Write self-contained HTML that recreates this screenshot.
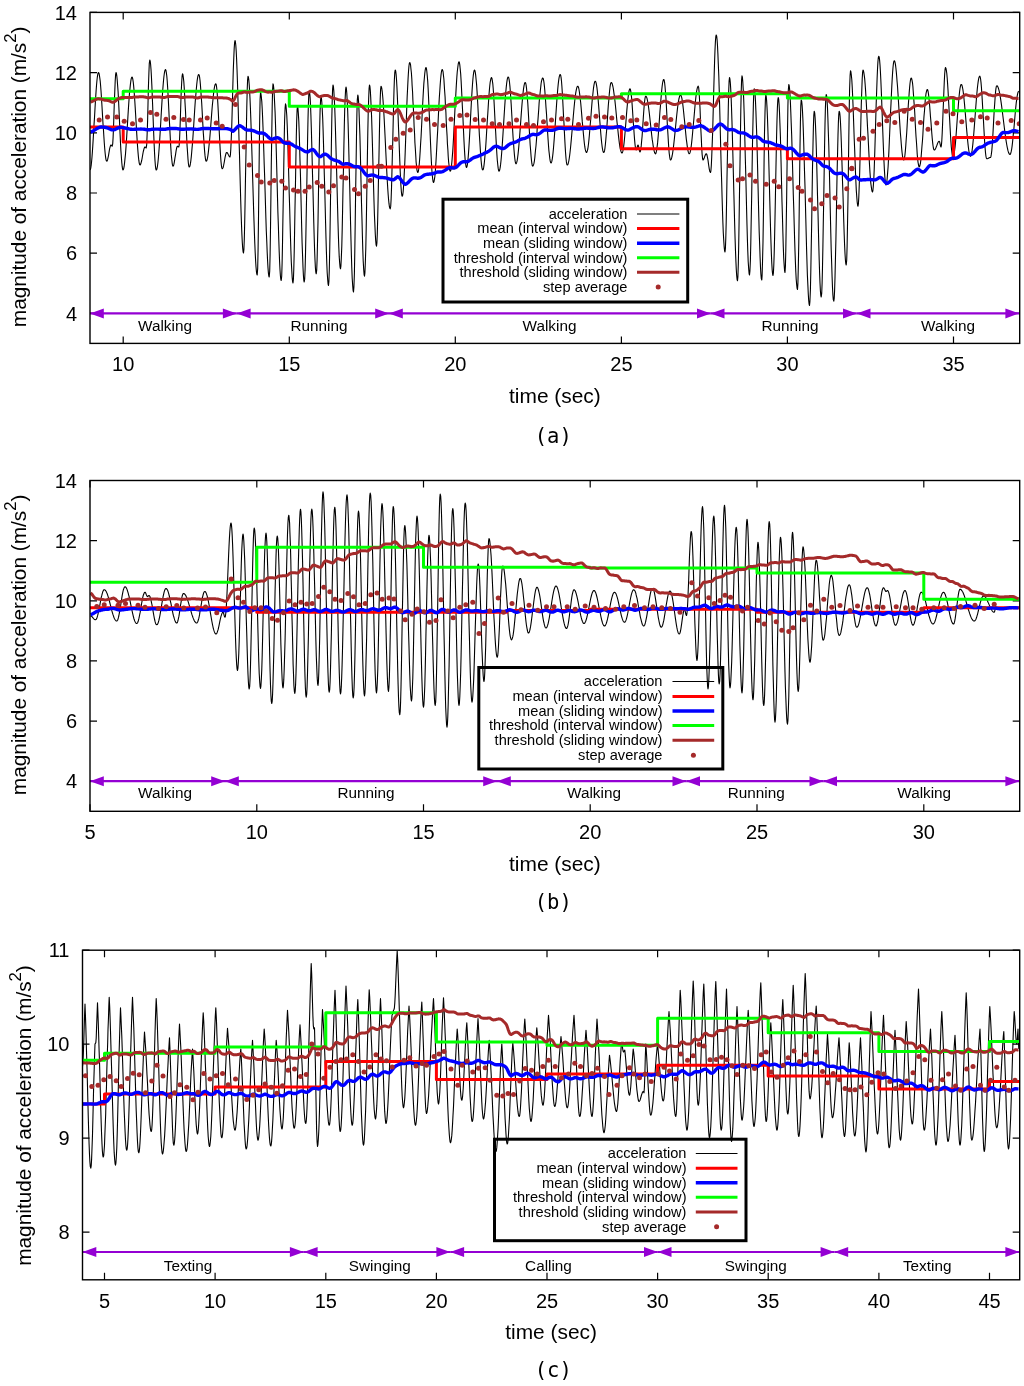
<!DOCTYPE html>
<html><head><meta charset="utf-8"><title>Acceleration magnitude plots</title>
<style>html,body{margin:0;padding:0;background:#fff}svg{display:block}</style></head>
<body>
<svg width="1024" height="1386" viewBox="0 0 1024 1386" font-family='"Liberation Sans", sans-serif' fill="#000">
<rect width="1024" height="1386" fill="#fff"/>
<clipPath id="ca"><rect x="90.0" y="12.4" width="929.7" height="331.0"/></clipPath>
<text x="123.2" y="371.4" font-size="20" text-anchor="middle">10</text>
<text x="289.3" y="371.4" font-size="20" text-anchor="middle">15</text>
<text x="455.3" y="371.4" font-size="20" text-anchor="middle">20</text>
<text x="621.4" y="371.4" font-size="20" text-anchor="middle">25</text>
<text x="787.4" y="371.4" font-size="20" text-anchor="middle">30</text>
<text x="953.5" y="371.4" font-size="20" text-anchor="middle">35</text>
<text x="77.0" y="320.6" font-size="20" text-anchor="end">4</text>
<text x="77.0" y="260.4" font-size="20" text-anchor="end">6</text>
<text x="77.0" y="200.2" font-size="20" text-anchor="end">8</text>
<text x="77.0" y="140.0" font-size="20" text-anchor="end">10</text>
<text x="77.0" y="79.8" font-size="20" text-anchor="end">12</text>
<text x="77.0" y="19.6" font-size="20" text-anchor="end">14</text>
<path d="M123.2 343.4 v-7 M123.2 12.4 v7 M289.3 343.4 v-7 M289.3 12.4 v7 M455.3 343.4 v-7 M455.3 12.4 v7 M621.4 343.4 v-7 M621.4 12.4 v7 M787.4 343.4 v-7 M787.4 12.4 v7 M953.5 343.4 v-7 M953.5 12.4 v7 M90.0 313.4 h7 M1019.7 313.4 h-7 M90.0 253.2 h7 M1019.7 253.2 h-7 M90.0 193.0 h7 M1019.7 193.0 h-7 M90.0 132.8 h7 M1019.7 132.8 h-7 M90.0 72.6 h7 M1019.7 72.6 h-7 M90.0 12.4 h7 M1019.7 12.4 h-7" stroke="#000" stroke-width="1.2" fill="none"/>
<rect x="443.0" y="199.2" width="244.7" height="102.8" fill="#fff" stroke="#000" stroke-width="3"/>
<g clip-path="url(#ca)" fill="none" stroke-linejoin="round">
<line x1="90.0" y1="313.4" x2="236.8" y2="313.4" stroke="#9400d3" stroke-width="2.2"/><polygon points="90.0,313.4 103.8,308.4 103.8,318.4" fill="#9400d3"/><polygon points="236.8,313.4 222.9,308.4 222.9,318.4" fill="#9400d3"/>
<line x1="236.8" y1="313.4" x2="389.0" y2="313.4" stroke="#9400d3" stroke-width="2.2"/><polygon points="236.8,313.4 250.6,308.4 250.6,318.4" fill="#9400d3"/><polygon points="389.0,313.4 375.2,308.4 375.2,318.4" fill="#9400d3"/>
<line x1="389.0" y1="313.4" x2="710.8" y2="313.4" stroke="#9400d3" stroke-width="2.2"/><polygon points="389.0,313.4 402.8,308.4 402.8,318.4" fill="#9400d3"/><polygon points="710.8,313.4 697.0,308.4 697.0,318.4" fill="#9400d3"/>
<line x1="710.8" y1="313.4" x2="856.8" y2="313.4" stroke="#9400d3" stroke-width="2.2"/><polygon points="710.8,313.4 724.5,308.4 724.5,318.4" fill="#9400d3"/><polygon points="856.8,313.4 843.0,308.4 843.0,318.4" fill="#9400d3"/>
<line x1="856.8" y1="313.4" x2="1019.2" y2="313.4" stroke="#9400d3" stroke-width="2.2"/><polygon points="856.8,313.4 870.5,308.4 870.5,318.4" fill="#9400d3"/><polygon points="1019.2,313.4 1005.4,308.4 1005.4,318.4" fill="#9400d3"/>
<path d="M90.0 170.0 L90.4 169.5 L90.8 167.8 L91.2 165.2 L91.6 161.5 L92.0 157.0 L92.4 151.6 L92.8 145.6 L93.2 139.1 L93.6 132.1 L94.0 124.9 L94.5 117.6 L94.9 110.4 L95.3 103.4 L95.7 96.9 L96.1 90.9 L96.5 85.5 L96.9 81.0 L97.3 77.3 L97.7 74.7 L98.1 73.0 L98.5 72.5 L98.9 73.0 L99.3 74.7 L99.7 77.3 L100.2 81.0 L100.6 85.5 L101.0 90.8 L101.4 96.7 L101.8 103.2 L102.2 109.9 L102.6 116.9 L103.0 123.8 L103.5 130.6 L103.9 137.0 L104.3 143.0 L104.7 148.3 L105.1 152.8 L105.5 156.4 L105.9 159.1 L106.3 160.7 L106.8 161.2 L107.2 160.9 L107.6 159.7 L108.0 157.9 L108.5 155.6 L108.9 153.1 L109.3 150.6 L109.7 148.3 L110.2 146.6 L110.6 145.4 L111.0 145.0 L111.4 145.3 L111.8 145.9 L112.2 146.2 L112.7 144.0 L113.1 137.6 L113.5 127.8 L113.9 115.8 L114.3 103.0 L114.8 90.9 L115.2 81.1 L115.6 74.7 L116.0 72.5 L116.4 73.3 L116.8 75.8 L117.2 79.8 L117.6 85.2 L118.1 91.9 L118.5 99.5 L118.9 107.9 L119.3 116.8 L119.7 125.7 L120.1 134.6 L120.5 143.0 L120.9 150.6 L121.4 157.3 L121.8 162.7 L122.2 166.7 L122.6 169.2 L123.0 170.0 L123.4 169.5 L123.8 168.1 L124.2 165.8 L124.6 162.6 L125.0 158.6 L125.5 154.0 L125.9 148.6 L126.3 142.8 L126.7 136.6 L127.1 130.1 L127.5 123.5 L127.9 116.9 L128.3 110.4 L128.7 104.2 L129.1 98.4 L129.5 93.0 L130.0 88.4 L130.4 84.4 L130.8 81.2 L131.2 78.9 L131.6 77.5 L132.0 77.0 L132.4 77.5 L132.8 79.2 L133.2 81.8 L133.6 85.4 L134.0 89.9 L134.4 95.1 L134.8 101.0 L135.2 107.4 L135.6 114.1 L136.0 121.0 L136.4 127.9 L136.8 134.6 L137.2 141.0 L137.6 146.9 L138.0 152.1 L138.4 156.6 L138.8 160.2 L139.2 162.8 L139.6 164.5 L140.0 165.0 L140.4 164.7 L140.8 163.8 L141.2 162.4 L141.7 160.5 L142.1 158.3 L142.5 156.0 L142.9 153.7 L143.3 151.5 L143.8 149.6 L144.2 148.2 L144.6 147.3 L145.0 147.0 L145.4 147.2 L145.8 147.8 L146.2 148.0 L146.7 144.7 L147.1 135.1 L147.6 120.8 L148.0 104.0 L148.4 87.2 L148.9 72.9 L149.3 63.3 L149.8 60.0 L150.2 61.1 L150.6 64.2 L151.0 69.3 L151.4 76.1 L151.8 84.4 L152.2 94.0 L152.6 104.3 L153.0 115.0 L153.4 125.7 L153.8 136.0 L154.2 145.6 L154.6 153.9 L155.0 160.7 L155.4 165.8 L155.8 168.9 L156.2 170.0 L156.7 169.5 L157.1 168.1 L157.5 165.8 L157.9 162.7 L158.3 158.7 L158.7 154.0 L159.1 148.7 L159.5 142.9 L159.9 136.6 L160.3 130.0 L160.7 123.2 L161.1 116.3 L161.5 109.5 L161.9 102.9 L162.3 96.6 L162.7 90.8 L163.1 85.5 L163.5 80.8 L163.9 76.8 L164.3 73.7 L164.7 71.4 L165.1 70.0 L165.5 69.5 L165.9 70.2 L166.3 72.4 L166.8 76.0 L167.2 80.8 L167.6 86.8 L168.0 93.7 L168.4 101.3 L168.8 109.5 L169.2 117.9 L169.7 126.3 L170.1 134.4 L170.5 142.1 L170.9 149.0 L171.3 154.9 L171.8 159.8 L172.2 163.3 L172.6 165.5 L173.0 166.2 L173.4 165.8 L173.8 164.7 L174.2 162.8 L174.6 160.4 L175.0 157.7 L175.5 154.8 L175.9 152.1 L176.3 149.7 L176.7 147.8 L177.1 146.7 L177.5 146.2 L177.9 146.4 L178.3 146.8 L178.8 147.0 L179.2 144.8 L179.6 138.4 L180.0 128.7 L180.4 116.7 L180.8 104.0 L181.2 92.1 L181.7 82.3 L182.1 76.0 L182.5 73.8 L182.9 74.6 L183.3 77.3 L183.8 81.6 L184.2 87.4 L184.6 94.5 L185.0 102.5 L185.5 111.3 L185.9 120.4 L186.3 129.5 L186.7 138.2 L187.1 146.3 L187.6 153.3 L188.0 159.1 L188.4 163.5 L188.8 166.1 L189.2 167.0 L189.7 166.6 L190.1 165.3 L190.5 163.2 L190.9 160.3 L191.3 156.6 L191.7 152.3 L192.1 147.4 L192.6 142.0 L193.0 136.2 L193.4 130.2 L193.8 123.9 L194.2 117.6 L194.6 111.3 L195.0 105.3 L195.4 99.5 L195.9 94.1 L196.3 89.2 L196.7 84.9 L197.1 81.2 L197.5 78.3 L197.9 76.2 L198.3 74.9 L198.8 74.5 L199.2 75.2 L199.6 77.1 L200.0 80.3 L200.4 84.6 L200.8 90.0 L201.2 96.2 L201.7 103.0 L202.1 110.3 L202.5 117.9 L202.9 125.4 L203.3 132.7 L203.8 139.6 L204.2 145.8 L204.6 151.1 L205.0 155.4 L205.4 158.6 L205.8 160.6 L206.2 161.2 L206.7 160.9 L207.1 159.8 L207.5 158.0 L207.9 155.6 L208.3 152.6 L208.7 148.9 L209.1 144.8 L209.6 140.3 L210.0 135.5 L210.4 130.4 L210.8 125.1 L211.2 119.9 L211.6 114.6 L212.0 109.5 L212.4 104.7 L212.9 100.2 L213.3 96.1 L213.7 92.4 L214.1 89.4 L214.5 87.0 L214.9 85.2 L215.3 84.1 L215.8 83.8 L216.2 84.6 L216.6 87.0 L217.0 90.9 L217.4 96.2 L217.8 102.6 L218.2 110.0 L218.6 118.0 L219.0 126.2 L219.4 134.5 L219.8 142.5 L220.2 149.9 L220.6 156.3 L221.0 161.6 L221.4 165.5 L221.8 167.9 L222.2 168.8 L222.7 168.4 L223.1 167.5 L223.5 165.9 L223.9 164.0 L224.3 161.8 L224.7 159.5 L225.1 157.2 L225.5 155.3 L225.9 153.8 L226.3 152.8 L226.8 152.5 L227.2 152.7 L227.6 153.2 L228.0 153.9 L228.4 154.8 L228.8 155.6 L229.2 156.3 L229.6 156.8 L230.0 157.0 L230.4 155.0 L230.8 149.2 L231.2 139.9 L231.7 127.9 L232.1 113.8 L232.5 98.8 L232.9 83.7 L233.3 69.6 L233.8 57.6 L234.2 48.3 L234.6 42.5 L235.0 40.5 L235.4 41.7 L235.8 45.2 L236.2 51.0 L236.6 59.0 L237.0 68.9 L237.4 80.5 L237.8 93.6 L238.2 107.9 L238.6 123.1 L239.0 138.8 L239.5 154.7 L239.9 170.4 L240.3 185.6 L240.7 199.9 L241.1 213.0 L241.5 224.6 L241.9 234.5 L242.3 242.5 L242.7 248.3 L243.1 251.8 L243.5 253.0 L243.9 249.4 L244.3 239.0 L244.7 222.5 L245.1 201.3 L245.5 177.2 L246.0 152.0 L246.4 127.9 L246.8 106.8 L247.2 90.3 L247.6 79.8 L248.0 76.2 L248.4 77.2 L248.8 79.9 L249.2 84.5 L249.6 90.7 L250.0 98.5 L250.4 107.8 L250.8 118.3 L251.2 129.9 L251.6 142.3 L252.0 155.4 L252.4 168.8 L252.8 182.4 L253.2 195.8 L253.6 208.9 L254.0 221.3 L254.4 232.9 L254.8 243.5 L255.2 252.7 L255.6 260.5 L256.0 266.8 L256.4 271.3 L256.8 274.1 L257.2 275.0 L257.7 268.1 L258.1 248.3 L258.5 218.7 L258.9 183.8 L259.3 148.8 L259.7 119.2 L260.1 99.4 L260.5 92.5 L260.9 93.5 L261.3 96.6 L261.8 101.6 L262.2 108.5 L262.6 117.1 L263.0 127.2 L263.4 138.6 L263.8 151.0 L264.2 164.2 L264.7 177.9 L265.1 191.6 L265.5 205.3 L265.9 218.5 L266.3 230.9 L266.8 242.3 L267.2 252.4 L267.6 261.0 L268.0 267.9 L268.4 272.9 L268.8 276.0 L269.2 277.0 L269.7 271.2 L270.1 254.4 L270.5 228.7 L270.9 197.2 L271.3 163.6 L271.8 132.1 L272.2 106.4 L272.6 89.6 L273.0 83.8 L273.4 85.0 L273.8 88.6 L274.2 94.5 L274.6 102.5 L275.1 112.6 L275.5 124.3 L275.9 137.5 L276.3 151.7 L276.7 166.7 L277.1 182.1 L277.5 197.5 L277.9 212.5 L278.4 226.8 L278.8 239.9 L279.2 251.7 L279.6 261.7 L280.0 269.8 L280.4 275.7 L280.8 279.3 L281.2 280.5 L281.7 276.2 L282.1 263.6 L282.5 244.1 L282.9 219.4 L283.4 192.1 L283.8 164.8 L284.2 140.2 L284.6 120.6 L285.1 108.1 L285.5 103.8 L285.9 105.1 L286.3 109.2 L286.8 115.8 L287.2 124.7 L287.6 135.8 L288.0 148.6 L288.4 162.7 L288.8 177.8 L289.2 193.4 L289.7 208.9 L290.1 224.0 L290.5 238.2 L290.9 251.0 L291.3 262.0 L291.8 271.0 L292.2 277.6 L292.6 281.6 L293.0 283.0 L293.4 279.4 L293.8 269.0 L294.2 252.5 L294.6 231.3 L295.0 207.2 L295.5 182.0 L295.9 157.9 L296.3 136.8 L296.7 120.3 L297.1 109.8 L297.5 106.2 L297.9 107.9 L298.3 112.9 L298.8 121.1 L299.2 132.0 L299.6 145.3 L300.0 160.5 L300.5 177.0 L300.9 194.1 L301.3 211.3 L301.7 227.8 L302.1 242.9 L302.6 256.3 L303.0 267.2 L303.4 275.3 L303.8 280.3 L304.2 282.0 L304.7 278.8 L305.1 269.2 L305.5 254.1 L305.9 234.3 L306.3 211.3 L306.8 186.6 L307.2 161.9 L307.6 138.9 L308.0 119.2 L308.4 104.0 L308.8 94.5 L309.2 91.2 L309.7 92.8 L310.1 97.4 L310.5 104.9 L310.9 115.1 L311.3 127.5 L311.7 141.8 L312.1 157.5 L312.5 174.1 L313.0 190.9 L313.4 207.5 L313.8 223.2 L314.2 237.5 L314.6 249.9 L315.0 260.1 L315.4 267.6 L315.8 272.2 L316.2 273.8 L316.7 270.2 L317.1 259.7 L317.5 243.1 L318.0 221.9 L318.4 197.6 L318.8 172.4 L319.3 148.1 L319.7 126.9 L320.1 110.3 L320.6 99.8 L321.0 96.2 L321.4 97.7 L321.8 102.0 L322.2 108.9 L322.7 118.4 L323.1 130.1 L323.5 143.6 L323.9 158.5 L324.3 174.4 L324.8 190.9 L325.2 207.3 L325.6 223.2 L326.0 238.2 L326.4 251.7 L326.8 263.4 L327.2 272.8 L327.7 279.8 L328.1 284.1 L328.5 285.5 L328.9 281.4 L329.3 269.6 L329.7 250.9 L330.1 226.9 L330.5 199.5 L331.0 171.0 L331.4 143.6 L331.8 119.6 L332.2 100.9 L332.6 89.1 L333.0 85.0 L333.4 86.4 L333.8 90.5 L334.2 97.3 L334.7 106.5 L335.1 117.8 L335.5 130.9 L335.9 145.5 L336.3 160.9 L336.8 176.9 L337.2 192.8 L337.6 208.3 L338.0 222.8 L338.4 235.9 L338.8 247.3 L339.2 256.4 L339.7 263.2 L340.1 267.4 L340.5 268.8 L340.9 266.1 L341.3 258.3 L341.8 245.9 L342.2 229.5 L342.6 210.1 L343.0 188.8 L343.5 166.9 L343.9 145.7 L344.3 126.3 L344.7 109.9 L345.2 97.4 L345.6 89.6 L346.0 87.0 L346.4 88.6 L346.8 93.2 L347.2 100.7 L347.7 111.0 L348.1 123.6 L348.5 138.2 L348.9 154.4 L349.3 171.7 L349.8 189.5 L350.2 207.3 L350.6 224.6 L351.0 240.7 L351.4 255.4 L351.8 268.0 L352.2 278.3 L352.7 285.8 L353.1 290.4 L353.5 292.0 L353.9 287.2 L354.4 273.2 L354.8 251.4 L355.2 223.9 L355.6 193.5 L356.1 163.1 L356.5 135.6 L356.9 113.8 L357.3 99.8 L357.8 95.0 L358.2 96.7 L358.6 101.9 L359.0 110.3 L359.4 121.5 L359.9 135.3 L360.3 150.9 L360.7 167.9 L361.1 185.6 L361.5 203.3 L362.0 220.3 L362.4 236.0 L362.8 249.7 L363.2 261.0 L363.7 269.4 L364.1 274.5 L364.5 276.2 L364.9 273.0 L365.3 263.4 L365.8 248.2 L366.2 228.4 L366.6 205.4 L367.0 180.6 L367.4 155.9 L367.8 132.8 L368.2 113.0 L368.7 97.8 L369.1 88.3 L369.5 85.0 L369.9 86.4 L370.3 90.4 L370.7 97.1 L371.1 106.0 L371.6 117.0 L372.0 129.7 L372.4 143.6 L372.8 158.2 L373.2 173.1 L373.6 187.7 L374.0 201.6 L374.4 214.2 L374.9 225.2 L375.3 234.2 L375.7 240.8 L376.1 244.9 L376.5 246.2 L376.9 243.0 L377.3 233.6 L377.7 218.6 L378.1 199.5 L378.5 177.6 L379.0 154.9 L379.4 133.0 L379.8 113.9 L380.2 98.9 L380.6 89.5 L381.0 86.2 L381.4 86.8 L381.8 88.5 L382.2 91.3 L382.6 95.2 L383.0 100.0 L383.4 105.7 L383.8 112.2 L384.2 119.3 L384.6 127.0 L385.0 135.0 L385.4 143.3 L385.8 151.7 L386.2 160.0 L386.6 168.0 L387.0 175.7 L387.4 182.8 L387.8 189.3 L388.2 195.0 L388.6 199.8 L389.0 203.7 L389.4 206.5 L389.8 208.2 L390.2 208.8 L390.7 206.4 L391.1 199.5 L391.5 188.4 L391.9 174.1 L392.3 157.3 L392.8 139.4 L393.2 121.4 L393.6 104.7 L394.0 90.3 L394.4 79.3 L394.8 72.4 L395.2 70.0 L395.7 71.1 L396.1 74.3 L396.5 79.5 L396.9 86.5 L397.3 95.1 L397.7 105.0 L398.1 115.9 L398.5 127.3 L399.0 138.9 L399.4 150.4 L399.8 161.3 L400.2 171.2 L400.6 179.8 L401.0 186.8 L401.4 192.0 L401.8 195.2 L402.2 196.2 L402.7 195.2 L403.1 192.2 L403.5 187.3 L403.9 180.6 L404.3 172.4 L404.8 162.8 L405.2 152.2 L405.6 141.0 L406.0 129.4 L406.4 117.8 L406.8 106.5 L407.2 95.9 L407.7 86.4 L408.1 78.1 L408.5 71.5 L408.9 66.5 L409.3 63.5 L409.8 62.5 L410.1 63.2 L410.6 65.2 L410.9 68.5 L411.4 73.0 L411.8 78.6 L412.1 85.2 L412.6 92.5 L412.9 100.5 L413.4 108.9 L413.8 117.5 L414.1 126.1 L414.6 134.5 L414.9 142.5 L415.4 149.8 L415.8 156.4 L416.1 162.0 L416.6 166.5 L416.9 169.8 L417.4 171.8 L417.8 172.5 L418.2 171.9 L418.6 169.9 L419.0 166.8 L419.4 162.5 L419.8 157.1 L420.2 150.9 L420.6 143.8 L421.1 136.2 L421.5 128.2 L421.9 120.0 L422.3 111.8 L422.7 103.8 L423.1 96.2 L423.5 89.1 L423.9 82.9 L424.4 77.5 L424.8 73.2 L425.2 70.1 L425.6 68.1 L426.0 67.5 L426.4 68.4 L426.8 71.0 L427.2 75.2 L427.7 81.0 L428.1 88.0 L428.5 96.2 L428.9 105.3 L429.3 115.0 L429.8 125.0 L430.2 135.0 L430.6 144.7 L431.0 153.8 L431.4 162.0 L431.8 169.0 L432.2 174.8 L432.7 179.0 L433.1 181.6 L433.5 182.5 L433.9 181.9 L434.3 180.0 L434.8 176.9 L435.2 172.7 L435.6 167.4 L436.0 161.2 L436.4 154.2 L436.8 146.6 L437.2 138.6 L437.7 130.2 L438.1 121.8 L438.5 113.4 L438.9 105.4 L439.3 97.8 L439.8 90.8 L440.2 84.6 L440.6 79.3 L441.0 75.1 L441.4 72.0 L441.8 70.1 L442.2 69.5 L442.6 70.1 L443.1 72.0 L443.4 75.0 L443.9 79.2 L444.2 84.4 L444.6 90.5 L445.1 97.3 L445.4 104.7 L445.9 112.4 L446.2 120.4 L446.6 128.3 L447.1 136.1 L447.4 143.5 L447.9 150.3 L448.2 156.3 L448.6 161.5 L449.1 165.7 L449.4 168.8 L449.9 170.6 L450.2 171.2 L450.7 170.6 L451.1 168.8 L451.5 165.8 L451.9 161.7 L452.3 156.6 L452.8 150.6 L453.2 143.9 L453.6 136.5 L454.0 128.7 L454.4 120.6 L454.8 112.4 L455.2 104.3 L455.7 96.5 L456.1 89.1 L456.5 82.4 L456.9 76.4 L457.3 71.3 L457.8 67.2 L458.2 64.2 L458.6 62.4 L459.0 61.8 L459.4 62.6 L459.8 64.9 L460.2 68.8 L460.7 74.1 L461.1 80.6 L461.5 88.2 L461.9 96.5 L462.3 105.4 L462.8 114.6 L463.2 123.8 L463.6 132.7 L464.0 141.1 L464.4 148.6 L464.8 155.1 L465.2 160.4 L465.7 164.3 L466.1 166.7 L466.5 167.5 L466.9 166.9 L467.3 165.1 L467.7 162.2 L468.1 158.2 L468.5 153.2 L468.9 147.4 L469.3 140.9 L469.7 133.8 L470.1 126.4 L470.5 118.8 L470.9 111.1 L471.3 103.7 L471.7 96.6 L472.1 90.1 L472.5 84.3 L472.9 79.3 L473.3 75.3 L473.7 72.4 L474.1 70.6 L474.5 70.0 L474.9 70.6 L475.3 72.4 L475.7 75.4 L476.1 79.5 L476.6 84.6 L477.0 90.6 L477.4 97.3 L477.8 104.5 L478.2 112.2 L478.6 120.0 L479.0 127.8 L479.4 135.5 L479.9 142.7 L480.3 149.4 L480.7 155.4 L481.1 160.5 L481.5 164.6 L481.9 167.6 L482.3 169.4 L482.8 170.0 L483.2 169.5 L483.6 167.9 L484.0 165.4 L484.4 162.0 L484.8 157.7 L485.2 152.6 L485.7 146.9 L486.1 140.6 L486.5 134.0 L486.9 127.2 L487.3 120.3 L487.8 113.5 L488.2 106.9 L488.6 100.6 L489.0 94.9 L489.4 89.8 L489.8 85.5 L490.2 82.1 L490.7 79.6 L491.1 78.0 L491.5 77.5 L491.9 78.2 L492.3 80.3 L492.8 83.8 L493.2 88.5 L493.6 94.2 L494.0 100.9 L494.4 108.3 L494.8 116.2 L495.2 124.4 L495.7 132.5 L496.1 140.4 L496.5 147.8 L496.9 154.5 L497.3 160.3 L497.8 165.0 L498.2 168.4 L498.6 170.5 L499.0 171.2 L499.4 170.8 L499.8 169.5 L500.2 167.3 L500.6 164.4 L501.0 160.7 L501.4 156.3 L501.8 151.3 L502.2 145.8 L502.6 139.9 L503.0 133.7 L503.4 127.3 L503.8 120.9 L504.2 114.5 L504.6 108.3 L505.0 102.4 L505.4 96.9 L505.8 92.0 L506.2 87.6 L506.6 83.9 L507.0 80.9 L507.4 78.7 L507.8 77.4 L508.2 77.0 L508.7 77.6 L509.1 79.4 L509.5 82.2 L509.9 86.1 L510.3 91.0 L510.7 96.7 L511.1 103.0 L511.5 109.7 L511.9 116.8 L512.3 124.0 L512.7 131.0 L513.1 137.8 L513.6 144.1 L514.0 149.8 L514.4 154.6 L514.8 158.5 L515.2 161.4 L515.6 163.2 L516.0 163.8 L516.4 163.4 L516.8 162.2 L517.2 160.4 L517.6 157.8 L518.0 154.6 L518.4 150.9 L518.8 146.6 L519.2 141.8 L519.6 136.7 L520.0 131.4 L520.4 125.9 L520.8 120.4 L521.2 114.9 L521.6 109.5 L522.0 104.4 L522.4 99.7 L522.8 95.4 L523.2 91.6 L523.6 88.4 L524.0 85.9 L524.4 84.0 L524.8 82.9 L525.2 82.5 L525.7 83.1 L526.1 85.0 L526.5 88.1 L526.9 92.3 L527.3 97.5 L527.8 103.4 L528.2 110.1 L528.6 117.1 L529.0 124.4 L529.4 131.6 L529.8 138.7 L530.2 145.3 L530.7 151.3 L531.1 156.5 L531.5 160.6 L531.9 163.7 L532.3 165.6 L532.8 166.2 L533.1 165.9 L533.5 164.9 L534.0 163.2 L534.4 160.8 L534.8 157.8 L535.1 154.3 L535.5 150.3 L536.0 145.8 L536.4 140.9 L536.8 135.8 L537.1 130.4 L537.5 124.9 L538.0 119.4 L538.4 113.9 L538.8 108.5 L539.1 103.3 L539.5 98.5 L540.0 94.0 L540.4 90.0 L540.8 86.4 L541.1 83.5 L541.5 81.1 L542.0 79.4 L542.4 78.3 L542.8 78.0 L543.2 78.5 L543.6 80.1 L544.0 82.6 L544.4 86.1 L544.8 90.4 L545.2 95.5 L545.6 101.2 L546.0 107.4 L546.5 113.9 L546.9 120.5 L547.3 127.1 L547.7 133.6 L548.1 139.8 L548.5 145.5 L548.9 150.6 L549.4 154.9 L549.8 158.4 L550.2 160.9 L550.6 162.5 L551.0 163.0 L551.4 162.6 L551.8 161.4 L552.2 159.3 L552.6 156.6 L553.0 153.1 L553.4 149.0 L553.8 144.3 L554.2 139.1 L554.6 133.6 L555.0 127.8 L555.4 121.8 L555.8 115.7 L556.2 109.7 L556.6 103.9 L557.0 98.4 L557.4 93.2 L557.8 88.5 L558.2 84.4 L558.6 80.9 L559.0 78.2 L559.4 76.1 L559.8 74.9 L560.2 74.5 L560.7 75.3 L561.1 77.6 L561.5 81.3 L561.9 86.3 L562.3 92.5 L562.7 99.6 L563.1 107.4 L563.5 115.6 L564.0 123.9 L564.4 132.1 L564.8 139.9 L565.2 147.0 L565.6 153.2 L566.0 158.2 L566.4 161.9 L566.8 164.2 L567.2 165.0 L567.7 164.7 L568.1 163.9 L568.5 162.4 L568.9 160.5 L569.3 158.0 L569.7 155.1 L570.1 151.7 L570.5 148.0 L570.9 143.9 L571.3 139.6 L571.7 135.0 L572.1 130.4 L572.5 125.6 L572.9 120.9 L573.3 116.2 L573.7 111.7 L574.1 107.3 L574.5 103.3 L574.9 99.5 L575.3 96.2 L575.7 93.2 L576.1 90.8 L576.5 88.8 L576.9 87.4 L577.3 86.5 L577.8 86.2 L578.2 86.6 L578.6 87.7 L579.0 89.5 L579.4 92.0 L579.8 95.1 L580.2 98.7 L580.7 102.8 L581.1 107.3 L581.5 112.0 L581.9 116.9 L582.3 121.9 L582.8 126.7 L583.2 131.5 L583.6 135.9 L584.0 140.0 L584.4 143.7 L584.8 146.7 L585.2 149.2 L585.7 151.0 L586.1 152.1 L586.5 152.5 L586.9 152.1 L587.3 150.9 L587.8 149.0 L588.2 146.3 L588.6 143.0 L589.0 139.1 L589.4 134.7 L589.8 129.9 L590.2 124.8 L590.7 119.5 L591.1 114.2 L591.5 108.9 L591.9 103.9 L592.3 99.1 L592.8 94.7 L593.2 90.8 L593.6 87.4 L594.0 84.8 L594.4 82.8 L594.8 81.6 L595.2 81.2 L595.7 81.6 L596.1 82.8 L596.5 84.8 L596.9 87.4 L597.3 90.8 L597.7 94.7 L598.1 99.1 L598.5 103.9 L598.9 108.9 L599.3 114.2 L599.7 119.5 L600.1 124.8 L600.5 129.9 L600.9 134.7 L601.3 139.1 L601.7 143.0 L602.1 146.3 L602.5 149.0 L602.9 150.9 L603.3 152.1 L603.8 152.5 L604.2 152.0 L604.6 150.4 L605.0 147.8 L605.4 144.3 L605.8 140.0 L606.2 135.0 L606.7 129.5 L607.1 123.6 L607.5 117.5 L607.9 111.4 L608.3 105.5 L608.8 100.0 L609.2 95.0 L609.6 90.7 L610.0 87.2 L610.4 84.6 L610.8 83.0 L611.2 82.5 L611.7 82.8 L612.1 83.5 L612.5 84.8 L612.9 86.5 L613.3 88.7 L613.7 91.4 L614.1 94.4 L614.6 97.7 L615.0 101.4 L615.4 105.3 L615.8 109.3 L616.2 113.5 L616.6 117.8 L617.0 122.0 L617.5 126.2 L617.9 130.2 L618.3 134.1 L618.7 137.8 L619.1 141.1 L619.5 144.1 L619.9 146.8 L620.3 149.0 L620.8 150.7 L621.2 152.0 L621.6 152.7 L622.0 153.0 L622.4 152.6 L622.8 151.4 L623.2 149.5 L623.6 146.9 L624.0 143.6 L624.4 139.8 L624.8 135.5 L625.2 130.8 L625.6 125.9 L626.0 120.9 L626.4 115.8 L626.8 110.9 L627.2 106.3 L627.6 102.0 L628.0 98.2 L628.4 94.9 L628.8 92.3 L629.2 90.3 L629.6 89.1 L630.0 88.8 L630.4 89.4 L630.8 91.4 L631.2 94.6 L631.7 98.9 L632.1 104.1 L632.5 109.9 L632.9 116.2 L633.3 122.6 L633.8 128.8 L634.2 134.7 L634.6 139.9 L635.0 144.2 L635.4 147.4 L635.8 149.3 L636.2 150.0 L636.7 149.3 L637.1 147.5 L637.6 145.7 L638.0 145.0 L638.4 145.7 L638.8 147.4 L639.2 149.6 L639.6 151.3 L640.0 152.0 L640.4 151.3 L640.8 149.2 L641.2 145.9 L641.6 141.5 L642.1 136.2 L642.5 130.3 L642.9 124.1 L643.3 117.9 L643.7 112.0 L644.1 106.7 L644.5 102.3 L644.9 99.0 L645.3 96.9 L645.8 96.2 L646.2 96.5 L646.6 97.2 L647.0 98.4 L647.4 100.1 L647.8 102.2 L648.2 104.7 L648.6 107.5 L649.0 110.6 L649.4 114.0 L649.8 117.6 L650.2 121.2 L650.6 125.0 L651.0 128.8 L651.4 132.4 L651.8 136.0 L652.2 139.4 L652.7 142.5 L653.1 145.3 L653.5 147.8 L653.9 149.9 L654.3 151.6 L654.7 152.8 L655.1 153.5 L655.5 153.8 L655.9 153.3 L656.3 151.9 L656.7 149.7 L657.1 146.7 L657.6 142.9 L658.0 138.4 L658.4 133.5 L658.8 128.1 L659.2 122.4 L659.6 116.6 L660.0 110.8 L660.5 105.2 L660.9 99.8 L661.3 94.8 L661.7 90.4 L662.1 86.6 L662.5 83.5 L662.9 81.3 L663.3 80.0 L663.8 79.5 L664.2 80.3 L664.6 82.6 L665.0 86.3 L665.4 91.3 L665.9 97.4 L666.3 104.3 L666.7 111.9 L667.1 119.8 L667.5 127.6 L668.0 135.2 L668.4 142.1 L668.8 148.2 L669.2 153.2 L669.7 156.9 L670.1 159.2 L670.5 160.0 L670.9 159.7 L671.3 159.0 L671.7 157.7 L672.1 156.0 L672.5 153.8 L672.9 151.2 L673.3 148.2 L673.7 144.9 L674.1 141.3 L674.5 137.5 L674.9 133.6 L675.3 129.5 L675.7 125.5 L676.1 121.4 L676.5 117.5 L676.9 113.7 L677.3 110.1 L677.7 106.8 L678.1 103.8 L678.5 101.2 L678.9 99.0 L679.3 97.3 L679.7 96.0 L680.1 95.3 L680.5 95.0 L680.9 95.3 L681.3 96.3 L681.8 97.9 L682.2 100.1 L682.6 102.8 L683.0 106.1 L683.4 109.7 L683.8 113.6 L684.2 117.8 L684.7 122.2 L685.1 126.6 L685.5 130.9 L685.9 135.1 L686.3 139.1 L686.8 142.7 L687.2 145.9 L687.6 148.6 L688.0 150.8 L688.4 152.4 L688.8 153.4 L689.2 153.8 L689.7 153.4 L690.1 152.4 L690.5 150.7 L690.9 148.4 L691.3 145.5 L691.7 142.1 L692.1 138.2 L692.5 134.0 L692.9 129.5 L693.3 124.8 L693.8 120.0 L694.2 115.2 L694.6 110.5 L695.0 106.0 L695.4 101.8 L695.8 97.9 L696.2 94.5 L696.6 91.6 L697.0 89.3 L697.4 87.6 L697.8 86.6 L698.2 86.2 L698.7 87.7 L699.1 92.1 L699.5 99.0 L700.0 107.8 L700.4 117.9 L700.8 128.4 L701.3 138.4 L701.7 147.3 L702.1 154.1 L702.6 158.5 L703.0 160.0 L703.4 159.8 L703.8 159.1 L704.2 158.1 L704.6 156.9 L705.0 155.7 L705.4 154.7 L705.8 154.0 L706.2 153.8 L706.7 154.2 L707.1 155.5 L707.5 157.6 L708.0 160.2 L708.4 163.1 L708.8 166.0 L709.2 168.6 L709.6 170.7 L710.1 172.0 L710.5 172.5 L710.9 170.8 L711.3 165.7 L711.7 157.5 L712.1 146.6 L712.6 133.6 L713.0 119.0 L713.4 103.8 L713.8 88.5 L714.2 73.9 L714.6 60.9 L715.0 50.0 L715.4 41.8 L715.8 36.7 L716.2 35.0 L716.7 36.2 L717.1 39.8 L717.5 45.7 L717.9 53.9 L718.3 64.0 L718.8 75.9 L719.2 89.2 L719.6 103.9 L720.0 119.4 L720.4 135.4 L720.8 151.6 L721.2 167.6 L721.7 183.1 L722.1 197.7 L722.5 211.1 L722.9 223.0 L723.3 233.1 L723.8 241.3 L724.2 247.2 L724.6 250.8 L725.0 252.0 L725.4 248.5 L725.8 238.1 L726.2 221.9 L726.6 201.0 L727.0 177.2 L727.5 152.3 L727.9 128.5 L728.3 107.6 L728.7 91.4 L729.1 81.0 L729.5 77.5 L729.9 78.8 L730.3 82.5 L730.7 88.6 L731.1 96.9 L731.5 107.3 L731.9 119.4 L732.3 133.0 L732.7 147.7 L733.1 163.2 L733.5 179.1 L733.9 195.0 L734.3 210.5 L734.7 225.3 L735.1 238.9 L735.5 251.0 L735.9 261.3 L736.3 269.7 L736.7 275.8 L737.1 279.5 L737.5 280.8 L737.9 276.6 L738.3 264.5 L738.7 245.4 L739.1 220.8 L739.5 192.8 L740.0 163.7 L740.4 135.7 L740.8 111.1 L741.2 92.0 L741.6 79.9 L742.0 75.8 L742.4 77.3 L742.8 81.8 L743.2 89.1 L743.7 99.1 L744.1 111.3 L744.5 125.6 L744.9 141.3 L745.3 158.1 L745.8 175.4 L746.2 192.7 L746.6 209.4 L747.0 225.2 L747.4 239.4 L747.8 251.7 L748.2 261.7 L748.7 269.0 L749.1 273.5 L749.5 275.0 L749.9 271.2 L750.4 260.2 L750.8 242.9 L751.2 220.6 L751.7 195.1 L752.1 168.6 L752.5 143.2 L753.0 120.9 L753.4 103.5 L753.8 92.5 L754.2 88.8 L754.7 90.2 L755.1 94.5 L755.5 101.6 L755.9 111.1 L756.3 122.9 L756.8 136.6 L757.2 151.7 L757.6 167.8 L758.0 184.4 L758.4 201.0 L758.8 217.1 L759.2 232.2 L759.7 245.8 L760.1 257.6 L760.5 267.2 L760.9 274.2 L761.3 278.5 L761.8 280.0 L762.1 275.5 L762.5 262.3 L763.0 241.9 L763.4 216.1 L763.8 187.5 L764.1 158.9 L764.5 133.1 L765.0 112.7 L765.4 99.5 L765.8 95.0 L766.2 96.4 L766.6 100.4 L767.0 107.1 L767.4 116.1 L767.8 127.2 L768.2 140.1 L768.6 154.4 L769.0 169.6 L769.4 185.2 L769.8 200.9 L770.2 216.1 L770.6 230.4 L771.0 243.3 L771.4 254.4 L771.8 263.4 L772.2 270.1 L772.6 274.1 L773.0 275.5 L773.4 272.9 L773.8 265.3 L774.2 253.1 L774.6 237.1 L775.0 218.1 L775.4 197.2 L775.8 175.8 L776.2 154.9 L776.6 135.9 L777.0 119.9 L777.4 107.7 L777.8 100.1 L778.2 97.5 L778.7 99.2 L779.1 104.2 L779.5 112.2 L779.9 123.1 L780.4 136.4 L780.8 151.5 L781.2 167.9 L781.6 185.0 L782.0 202.1 L782.5 218.5 L782.9 233.6 L783.3 246.9 L783.7 257.8 L784.2 265.8 L784.6 270.8 L785.0 272.5 L785.4 266.8 L785.8 250.5 L786.2 225.5 L786.7 194.8 L787.1 162.2 L787.5 131.5 L787.9 106.5 L788.3 90.2 L788.8 84.5 L789.2 85.6 L789.6 89.1 L790.0 94.7 L790.4 102.3 L790.8 111.9 L791.2 123.1 L791.7 135.8 L792.1 149.6 L792.5 164.2 L792.9 179.3 L793.3 194.7 L793.8 209.8 L794.2 224.4 L794.6 238.2 L795.0 250.9 L795.4 262.1 L795.8 271.7 L796.2 279.3 L796.7 284.9 L797.1 288.4 L797.5 289.5 L797.9 283.8 L798.3 267.3 L798.8 242.1 L799.2 211.2 L799.6 178.3 L800.0 147.4 L800.4 122.2 L800.8 105.7 L801.2 100.0 L801.7 101.3 L802.1 105.0 L802.5 111.2 L802.9 119.6 L803.3 130.1 L803.7 142.4 L804.1 156.1 L804.5 171.0 L805.0 186.7 L805.4 202.8 L805.8 218.8 L806.2 234.5 L806.6 249.4 L807.0 263.1 L807.4 275.4 L807.9 285.9 L808.3 294.3 L808.7 300.5 L809.1 304.2 L809.5 305.5 L809.9 301.6 L810.4 290.1 L810.8 272.0 L811.2 248.7 L811.7 222.2 L812.1 194.6 L812.5 168.0 L813.0 144.8 L813.4 126.7 L813.8 115.2 L814.2 111.2 L814.7 112.8 L815.1 117.5 L815.5 125.2 L815.9 135.5 L816.3 148.2 L816.7 162.7 L817.1 178.7 L817.5 195.6 L818.0 212.7 L818.4 229.5 L818.8 245.5 L819.2 260.1 L819.6 272.8 L820.0 283.1 L820.4 290.7 L820.8 295.4 L821.2 297.0 L821.7 293.5 L822.1 283.4 L822.5 267.3 L822.9 246.4 L823.3 222.0 L823.8 195.8 L824.2 169.5 L824.6 145.1 L825.0 124.2 L825.4 108.1 L825.8 98.0 L826.2 94.5 L826.7 96.1 L827.1 100.7 L827.5 108.3 L827.9 118.7 L828.3 131.4 L828.8 146.2 L829.2 162.5 L829.6 179.9 L830.0 197.9 L830.4 215.8 L830.8 233.2 L831.2 249.6 L831.7 264.3 L832.1 277.1 L832.5 287.4 L832.9 295.0 L833.3 299.7 L833.8 301.2 L834.2 298.5 L834.6 290.4 L835.0 277.4 L835.4 260.2 L835.9 239.9 L836.3 217.7 L836.7 194.8 L837.1 172.6 L837.6 152.3 L838.0 135.1 L838.4 122.1 L838.8 114.0 L839.2 111.2 L839.7 112.6 L840.1 116.4 L840.5 122.8 L840.9 131.3 L841.3 141.8 L841.7 153.9 L842.1 167.1 L842.5 181.0 L843.0 195.2 L843.4 209.2 L843.8 222.4 L844.2 234.5 L844.6 244.9 L845.0 253.5 L845.4 259.8 L845.8 263.7 L846.2 265.0 L846.7 260.2 L847.1 246.5 L847.5 225.0 L848.0 197.9 L848.4 167.9 L848.8 137.9 L849.2 110.8 L849.6 89.3 L850.1 75.5 L850.5 70.8 L850.9 71.8 L851.3 74.8 L851.8 79.8 L852.2 86.6 L852.6 95.0 L853.0 104.6 L853.4 115.3 L853.8 126.7 L854.2 138.5 L854.7 150.3 L855.1 161.7 L855.5 172.4 L855.9 182.0 L856.3 190.4 L856.8 197.2 L857.2 202.2 L857.6 205.2 L858.0 206.2 L858.4 203.9 L858.8 197.1 L859.2 186.3 L859.7 172.2 L860.1 155.8 L860.5 138.1 L860.9 120.5 L861.3 104.1 L861.8 90.0 L862.2 79.1 L862.6 72.3 L863.0 70.0 L863.4 70.6 L863.8 72.3 L864.2 75.1 L864.7 78.9 L865.1 83.7 L865.5 89.4 L865.9 95.8 L866.3 102.9 L866.7 110.6 L867.1 118.6 L867.5 126.8 L868.0 135.2 L868.4 143.4 L868.8 151.4 L869.2 159.1 L869.6 166.2 L870.0 172.6 L870.4 178.3 L870.8 183.1 L871.3 186.9 L871.7 189.7 L872.1 191.4 L872.5 192.0 L872.9 190.5 L873.3 186.1 L873.8 179.0 L874.2 169.5 L874.6 158.1 L875.0 145.1 L875.4 131.2 L875.8 117.0 L876.2 103.2 L876.7 90.2 L877.1 78.7 L877.5 69.2 L877.9 62.1 L878.3 57.7 L878.8 56.2 L879.2 57.2 L879.6 60.1 L880.0 64.9 L880.4 71.3 L880.8 79.2 L881.2 88.4 L881.6 98.6 L882.0 109.4 L882.4 120.6 L882.8 131.8 L883.2 142.6 L883.6 152.8 L884.0 162.0 L884.4 169.9 L884.8 176.4 L885.2 181.1 L885.6 184.0 L886.0 185.0 L886.4 184.2 L886.8 182.0 L887.2 178.2 L887.6 173.1 L888.1 166.8 L888.5 159.4 L888.9 151.1 L889.3 142.1 L889.7 132.6 L890.1 122.9 L890.5 113.2 L891.0 103.7 L891.4 94.7 L891.8 86.4 L892.2 78.9 L892.6 72.6 L893.0 67.5 L893.4 63.8 L893.8 61.5 L894.2 60.8 L894.7 61.2 L895.1 62.6 L895.5 64.9 L895.9 68.0 L896.3 71.9 L896.7 76.5 L897.1 81.8 L897.6 87.5 L898.0 93.8 L898.4 100.3 L898.8 107.0 L899.2 113.8 L899.6 120.5 L900.0 127.0 L900.4 133.2 L900.9 139.0 L901.3 144.2 L901.7 148.9 L902.1 152.8 L902.5 155.9 L902.9 158.2 L903.3 159.5 L903.8 160.0 L904.2 159.4 L904.6 157.5 L905.0 154.5 L905.4 150.4 L905.8 145.4 L906.2 139.5 L906.7 133.0 L907.1 126.1 L907.5 119.0 L907.9 111.9 L908.3 105.0 L908.8 98.5 L909.2 92.6 L909.6 87.6 L910.0 83.5 L910.4 80.5 L910.8 78.6 L911.2 78.0 L911.6 78.5 L912.0 80.2 L912.5 82.9 L912.9 86.5 L913.2 91.0 L913.6 96.3 L914.0 102.3 L914.5 108.7 L914.9 115.5 L915.2 122.5 L915.6 129.5 L916.0 136.3 L916.5 142.7 L916.9 148.7 L917.2 154.0 L917.6 158.5 L918.0 162.1 L918.5 164.8 L918.9 166.5 L919.2 167.0 L919.6 166.5 L920.0 165.1 L920.5 162.8 L920.9 159.6 L921.2 155.7 L921.6 151.0 L922.0 145.8 L922.5 140.2 L922.9 134.3 L923.2 128.2 L923.6 122.2 L924.0 116.3 L924.5 110.7 L924.9 105.5 L925.2 100.8 L925.6 96.9 L926.0 93.7 L926.5 91.4 L926.9 90.0 L927.2 89.5 L927.7 90.0 L928.1 91.5 L928.5 94.0 L928.9 97.4 L929.3 101.5 L929.7 106.3 L930.1 111.5 L930.5 117.0 L931.0 122.5 L931.4 128.0 L931.8 133.2 L932.2 138.0 L932.6 142.1 L933.0 145.5 L933.4 148.0 L933.8 149.5 L934.2 150.0 L934.7 149.9 L935.1 149.4 L935.5 148.7 L935.9 147.8 L936.3 146.8 L936.8 145.6 L937.2 144.5 L937.6 143.4 L938.0 142.5 L938.4 141.8 L938.8 141.4 L939.2 141.2 L939.7 142.1 L940.1 144.1 L940.6 146.2 L941.0 147.0 L941.4 145.4 L941.8 140.7 L942.2 133.3 L942.6 123.8 L943.0 112.9 L943.5 101.6 L943.9 90.7 L944.3 81.2 L944.7 73.8 L945.1 69.1 L945.5 67.5 L945.9 68.2 L946.3 70.2 L946.8 73.5 L947.2 78.0 L947.6 83.6 L948.0 90.0 L948.4 97.1 L948.8 104.7 L949.2 112.5 L949.7 120.3 L950.1 127.9 L950.5 135.0 L950.9 141.4 L951.3 147.0 L951.8 151.5 L952.2 154.8 L952.6 156.8 L953.0 157.5 L953.4 157.1 L953.8 155.7 L954.2 153.5 L954.6 150.5 L955.1 146.8 L955.5 142.5 L955.9 137.6 L956.3 132.3 L956.7 126.7 L957.1 121.0 L957.5 115.3 L958.0 109.7 L958.4 104.4 L958.8 99.5 L959.2 95.2 L959.6 91.5 L960.0 88.5 L960.4 86.3 L960.8 84.9 L961.2 84.5 L961.7 84.8 L962.1 85.8 L962.5 87.5 L962.9 89.7 L963.3 92.5 L963.7 95.9 L964.1 99.7 L964.5 103.9 L964.9 108.4 L965.3 113.1 L965.7 117.9 L966.1 122.8 L966.5 127.7 L966.9 132.4 L967.3 136.9 L967.7 141.1 L968.1 144.9 L968.5 148.2 L968.9 151.0 L969.3 153.3 L969.7 154.9 L970.1 155.9 L970.5 156.2 L970.9 155.9 L971.3 154.8 L971.7 152.9 L972.1 150.4 L972.5 147.3 L972.9 143.6 L973.3 139.3 L973.7 134.7 L974.1 129.6 L974.5 124.4 L974.9 119.0 L975.3 113.5 L975.7 108.1 L976.1 102.9 L976.5 97.8 L976.9 93.2 L977.3 88.9 L977.7 85.2 L978.1 82.1 L978.5 79.6 L978.9 77.7 L979.3 76.6 L979.8 76.2 L980.2 77.0 L980.6 79.0 L981.0 82.4 L981.4 87.0 L981.8 92.6 L982.2 99.1 L982.6 106.2 L983.0 113.7 L983.5 121.3 L983.9 128.8 L984.3 135.9 L984.7 142.4 L985.1 148.0 L985.5 152.6 L985.9 156.0 L986.3 158.0 L986.8 158.8 L987.2 158.7 L987.6 158.6 L988.0 158.4 L988.4 158.2 L988.8 158.0 L989.2 157.8 L989.7 157.6 L990.1 157.5 L990.5 157.5 L990.9 156.7 L991.3 154.4 L991.8 150.6 L992.2 145.6 L992.6 139.6 L993.0 132.7 L993.4 125.4 L993.8 117.9 L994.2 110.5 L994.7 103.7 L995.1 97.6 L995.5 92.6 L995.9 88.9 L996.3 86.5 L996.8 85.8 L997.2 85.9 L997.6 86.4 L998.0 87.1 L998.4 88.2 L998.8 89.6 L999.2 91.2 L999.6 93.1 L1000.0 95.2 L1000.4 97.6 L1000.8 100.2 L1001.2 102.9 L1001.6 105.8 L1002.0 108.9 L1002.4 112.0 L1002.8 115.2 L1003.2 118.5 L1003.6 121.8 L1004.0 125.0 L1004.4 128.2 L1004.8 131.4 L1005.2 134.4 L1005.6 137.3 L1006.0 140.1 L1006.4 142.6 L1006.8 145.0 L1007.2 147.1 L1007.6 149.0 L1008.0 150.7 L1008.4 152.0 L1008.8 153.1 L1009.2 153.9 L1009.6 154.3 L1010.0 154.5 L1010.4 154.1 L1010.8 153.1 L1011.2 151.4 L1011.7 149.0 L1012.1 146.1 L1012.5 142.6 L1012.9 138.7 L1013.3 134.4 L1013.8 129.9 L1014.2 125.2 L1014.6 120.5 L1015.0 115.8 L1015.4 111.3 L1015.8 107.1 L1016.2 103.2 L1016.7 99.7 L1017.1 96.7 L1017.5 94.4 L1017.9 92.7 L1018.3 91.6 L1018.8 91.2" stroke="#000" stroke-width="1.1"/>
<path d="M90.0 127.0 L123.2 127.0 L123.2 142.0 L289.3 142.0 L289.3 167.0 L455.3 167.0 L455.3 127.0 L621.4 127.0 L621.4 148.8 L787.4 148.8 L787.4 158.8 L953.5 158.8 L953.5 137.5 L1019.7 137.5" stroke="#f00" stroke-width="3"/>
<path d="M90.5 132.0 L91.3 131.8 L92.1 131.4 L92.9 131.1 L93.7 130.6 L94.5 130.1 L95.3 129.6 L96.1 129.1 L96.9 128.6 L97.7 128.2 L98.5 127.8 L99.3 127.4 L100.1 127.1 L100.9 127.0 L101.7 127.0 L102.5 127.1 L103.3 127.1 L104.1 127.2 L104.9 127.3 L105.7 127.5 L106.5 127.7 L107.3 128.0 L108.1 128.2 L108.9 128.6 L109.7 128.9 L110.5 129.3 L111.3 129.6 L112.1 129.9 L112.9 129.9 L113.7 129.8 L114.5 129.6 L115.3 129.3 L116.1 128.9 L116.9 128.5 L117.7 128.1 L118.5 127.8 L119.3 127.5 L120.1 127.4 L120.9 127.3 L121.7 127.4 L122.5 127.6 L123.3 127.7 L124.1 127.8 L124.9 128.0 L125.7 128.2 L126.5 128.3 L127.3 128.5 L128.1 128.7 L128.9 128.9 L129.7 129.1 L130.5 129.2 L131.3 129.3 L132.1 129.4 L132.9 129.4 L133.7 129.4 L134.5 129.3 L135.3 129.2 L136.1 129.2 L136.9 129.1 L137.7 129.1 L138.5 129.1 L139.3 129.1 L140.1 129.1 L140.9 129.0 L141.7 129.1 L142.5 129.1 L143.3 129.1 L144.1 129.2 L144.9 129.3 L145.7 129.5 L146.5 129.6 L147.3 129.8 L148.1 129.8 L148.9 129.8 L149.7 129.7 L150.5 129.6 L151.3 129.4 L152.1 129.3 L152.9 129.2 L153.7 129.2 L154.5 129.1 L155.3 129.1 L156.1 129.1 L156.9 129.1 L157.7 129.1 L158.5 129.1 L159.3 129.2 L160.1 129.2 L160.9 129.2 L161.7 129.3 L162.5 129.3 L163.3 129.3 L164.1 129.4 L164.9 129.3 L165.7 129.2 L166.5 129.0 L167.3 128.8 L168.1 128.7 L168.9 128.6 L169.7 128.5 L170.5 128.5 L171.3 128.5 L172.1 128.5 L172.9 128.5 L173.7 128.5 L174.5 128.5 L175.3 128.5 L176.1 128.5 L176.9 128.6 L177.7 128.7 L178.5 128.9 L179.3 129.0 L180.1 129.2 L180.9 129.3 L181.7 129.3 L182.5 129.3 L183.3 129.2 L184.1 129.2 L184.9 129.1 L185.7 129.1 L186.5 129.0 L187.3 129.0 L188.1 129.0 L188.9 129.0 L189.7 129.0 L190.5 128.9 L191.3 128.9 L192.1 129.0 L192.9 129.0 L193.7 129.1 L194.5 129.2 L195.3 129.3 L196.1 129.4 L196.9 129.4 L197.7 129.4 L198.5 129.3 L199.3 129.1 L200.1 129.0 L200.9 128.8 L201.7 128.7 L202.5 128.6 L203.3 128.5 L204.1 128.5 L204.9 128.5 L205.7 128.5 L206.5 128.5 L207.3 128.5 L208.1 128.5 L208.9 128.5 L209.7 128.6 L210.5 128.6 L211.3 128.6 L212.1 128.7 L212.9 128.7 L213.7 128.8 L214.5 128.8 L215.3 128.8 L216.1 128.8 L216.9 128.7 L217.7 128.7 L218.5 128.7 L219.3 128.7 L220.1 128.6 L220.9 128.6 L221.7 128.6 L222.5 128.6 L223.3 128.6 L224.1 128.6 L224.9 128.6 L225.7 128.6 L226.5 128.6 L227.3 128.7 L228.1 128.9 L228.9 129.1 L229.7 129.3 L230.5 129.5 L231.3 130.1 L232.1 130.8 L232.9 131.2 L233.7 130.7 L234.5 130.0 L235.3 129.1 L236.1 128.3 L236.9 127.4 L237.7 126.6 L238.5 126.0 L239.3 125.7 L240.1 125.8 L240.9 126.1 L241.7 126.6 L242.5 127.1 L243.3 127.8 L244.1 128.4 L244.9 129.0 L245.7 129.5 L246.5 129.8 L247.3 130.0 L248.1 130.1 L248.9 130.1 L249.7 130.1 L250.5 130.2 L251.3 130.3 L252.1 130.4 L252.9 130.6 L253.7 130.9 L254.5 131.2 L255.3 131.5 L256.1 131.9 L256.9 132.3 L257.7 132.7 L258.5 133.0 L259.3 133.1 L260.1 133.1 L260.9 133.0 L261.7 133.0 L262.5 133.1 L263.3 133.2 L264.1 133.5 L264.9 134.0 L265.7 134.6 L266.5 135.3 L267.3 136.1 L268.1 136.9 L268.9 137.6 L269.7 138.4 L270.5 138.9 L271.3 139.2 L272.1 139.2 L272.9 139.1 L273.7 138.7 L274.5 138.4 L275.3 138.1 L276.1 137.9 L276.9 137.8 L277.7 137.8 L278.5 138.0 L279.3 138.4 L280.1 139.0 L280.9 139.8 L281.7 140.7 L282.5 141.5 L283.3 142.2 L284.1 142.7 L284.9 143.0 L285.7 143.2 L286.5 143.3 L287.3 143.3 L288.1 143.3 L288.9 143.3 L289.7 143.4 L290.5 143.7 L291.3 144.0 L292.1 144.5 L292.9 145.0 L293.7 145.6 L294.5 146.1 L295.3 146.5 L296.1 146.9 L296.9 147.2 L297.7 147.5 L298.5 147.8 L299.3 148.1 L300.1 148.5 L300.9 148.9 L301.7 149.4 L302.5 149.9 L303.3 150.4 L304.1 150.9 L304.9 151.3 L305.7 151.6 L306.5 151.8 L307.3 151.8 L308.1 151.7 L308.9 151.2 L309.7 150.8 L310.5 150.3 L311.3 149.9 L312.1 149.6 L312.9 149.5 L313.7 149.9 L314.5 150.7 L315.3 151.7 L316.1 152.9 L316.9 154.0 L317.7 155.1 L318.5 155.9 L319.3 156.5 L320.1 156.7 L320.9 156.5 L321.7 155.9 L322.5 155.3 L323.3 154.8 L324.1 154.4 L324.9 154.1 L325.7 154.1 L326.5 154.6 L327.3 155.1 L328.1 155.8 L328.9 156.6 L329.7 157.4 L330.5 158.1 L331.3 158.7 L332.1 159.1 L332.9 159.5 L333.7 159.8 L334.5 160.1 L335.3 160.4 L336.1 160.6 L336.9 160.8 L337.7 161.1 L338.5 161.3 L339.3 161.8 L340.1 162.4 L340.9 163.1 L341.7 163.6 L342.5 164.1 L343.3 164.2 L344.1 164.1 L344.9 163.9 L345.7 163.8 L346.5 163.7 L347.3 163.7 L348.1 163.8 L348.9 164.0 L349.7 164.3 L350.5 164.7 L351.3 165.1 L352.1 165.6 L352.9 166.0 L353.7 166.3 L354.5 166.6 L355.3 166.7 L356.1 166.7 L356.9 166.6 L357.7 166.6 L358.5 166.8 L359.3 167.2 L360.1 167.7 L360.9 168.4 L361.7 169.3 L362.5 170.3 L363.3 171.3 L364.1 172.4 L364.9 173.5 L365.7 174.4 L366.5 175.1 L367.3 175.6 L368.1 175.7 L368.9 175.6 L369.7 175.4 L370.5 175.2 L371.3 175.1 L372.1 175.0 L372.9 175.1 L373.7 175.2 L374.5 175.4 L375.3 175.8 L376.1 176.1 L376.9 176.5 L377.7 176.9 L378.5 177.2 L379.3 177.4 L380.1 177.5 L380.9 177.5 L381.7 177.5 L382.5 177.5 L383.3 177.6 L384.1 177.7 L384.9 177.8 L385.7 177.9 L386.5 178.1 L387.3 178.3 L388.1 178.5 L388.9 178.8 L389.7 179.0 L390.5 179.3 L391.3 179.5 L392.1 179.7 L392.9 179.8 L393.7 179.7 L394.5 179.3 L395.3 178.6 L396.1 177.9 L396.9 177.2 L397.7 176.7 L398.5 177.1 L399.3 177.7 L400.1 178.6 L400.9 179.7 L401.7 180.8 L402.5 181.9 L403.3 182.8 L404.1 183.6 L404.9 184.2 L405.7 184.2 L406.5 183.8 L407.3 183.2 L408.1 182.5 L408.9 181.6 L409.7 180.8 L410.5 179.9 L411.3 179.2 L412.1 178.6 L412.9 178.2 L413.7 178.0 L414.5 177.9 L415.3 177.9 L416.1 178.0 L416.9 178.1 L417.7 178.2 L418.5 178.2 L419.3 178.0 L420.1 177.8 L420.9 177.4 L421.7 177.0 L422.5 176.4 L423.3 175.8 L424.1 175.3 L424.9 174.8 L425.7 174.6 L426.5 174.4 L427.3 174.3 L428.1 174.2 L428.9 174.1 L429.7 174.0 L430.5 174.0 L431.3 173.9 L432.1 173.8 L432.9 173.7 L433.7 173.4 L434.5 173.1 L435.3 172.8 L436.1 172.4 L436.9 172.1 L437.7 172.0 L438.5 172.0 L439.3 172.0 L440.1 172.0 L440.9 172.0 L441.7 171.9 L442.5 171.7 L443.3 171.4 L444.1 170.9 L444.9 170.4 L445.7 169.9 L446.5 169.3 L447.3 168.7 L448.1 168.3 L448.9 167.9 L449.7 167.8 L450.5 167.7 L451.3 167.8 L452.1 167.9 L452.9 168.0 L453.7 168.1 L454.5 168.0 L455.3 167.7 L456.1 167.3 L456.9 166.7 L457.7 165.9 L458.5 165.1 L459.3 164.2 L460.1 163.4 L460.9 162.7 L461.7 162.3 L462.5 161.9 L463.3 161.8 L464.1 161.7 L464.9 161.7 L465.7 161.7 L466.5 161.7 L467.3 161.6 L468.1 161.3 L468.9 161.0 L469.7 160.4 L470.5 159.8 L471.3 159.2 L472.1 158.6 L472.9 158.1 L473.7 157.7 L474.5 157.4 L475.3 157.1 L476.1 156.8 L476.9 156.6 L477.7 156.3 L478.5 156.0 L479.3 155.7 L480.1 155.3 L480.9 155.0 L481.7 154.7 L482.5 154.3 L483.3 153.9 L484.1 153.4 L484.9 153.0 L485.7 152.7 L486.5 152.4 L487.3 152.0 L488.1 151.6 L488.9 151.1 L489.7 150.5 L490.5 149.9 L491.3 149.2 L492.1 148.5 L492.9 147.8 L493.7 147.1 L494.5 146.7 L495.3 146.4 L496.1 146.3 L496.9 146.4 L497.7 146.7 L498.5 147.0 L499.3 147.4 L500.1 147.8 L500.9 148.1 L501.7 148.4 L502.5 148.5 L503.3 148.5 L504.1 148.3 L504.9 147.9 L505.7 147.3 L506.5 146.6 L507.3 145.9 L508.1 145.2 L508.9 144.6 L509.7 144.1 L510.5 143.6 L511.3 143.3 L512.1 143.1 L512.9 142.8 L513.7 142.6 L514.5 142.4 L515.3 142.1 L516.1 141.8 L516.9 141.4 L517.7 141.0 L518.5 140.5 L519.3 140.1 L520.1 139.7 L520.9 139.3 L521.7 139.0 L522.5 138.8 L523.3 138.6 L524.1 138.5 L524.9 138.3 L525.7 138.0 L526.5 137.6 L527.3 137.2 L528.1 136.7 L528.9 136.2 L529.7 135.7 L530.5 135.2 L531.3 134.8 L532.1 134.5 L532.9 134.3 L533.7 134.4 L534.5 134.5 L535.3 134.6 L536.1 134.7 L536.9 134.6 L537.7 134.4 L538.5 134.1 L539.3 133.6 L540.1 133.1 L540.9 132.5 L541.7 131.8 L542.5 131.2 L543.3 130.6 L544.1 130.2 L544.9 130.0 L545.7 130.0 L546.5 130.0 L547.3 130.1 L548.1 130.2 L548.9 130.3 L549.7 130.4 L550.5 130.4 L551.3 130.4 L552.1 130.3 L552.9 130.2 L553.7 130.0 L554.5 129.8 L555.3 129.5 L556.1 129.1 L556.9 128.8 L557.7 128.5 L558.5 128.3 L559.3 128.2 L560.1 128.2 L560.9 128.2 L561.7 128.3 L562.5 128.4 L563.3 128.5 L564.1 128.6 L564.9 128.6 L565.7 128.7 L566.5 128.7 L567.3 128.6 L568.1 128.6 L568.9 128.5 L569.7 128.5 L570.5 128.4 L571.3 128.4 L572.1 128.4 L572.9 128.5 L573.7 128.6 L574.5 128.7 L575.3 128.8 L576.1 128.9 L576.9 129.0 L577.7 129.0 L578.5 129.0 L579.3 129.0 L580.1 128.9 L580.9 128.8 L581.7 128.7 L582.5 128.6 L583.3 128.5 L584.1 128.3 L584.9 128.2 L585.7 128.2 L586.5 128.1 L587.3 128.1 L588.1 128.2 L588.9 128.2 L589.7 128.3 L590.5 128.4 L591.3 128.4 L592.1 128.5 L592.9 128.5 L593.7 128.5 L594.5 128.4 L595.3 128.3 L596.1 128.1 L596.9 127.9 L597.7 127.7 L598.5 127.5 L599.3 127.2 L600.1 127.1 L600.9 127.0 L601.7 126.9 L602.5 126.9 L603.3 127.0 L604.1 127.1 L604.9 127.2 L605.7 127.4 L606.5 127.5 L607.3 127.7 L608.1 127.8 L608.9 127.9 L609.7 127.9 L610.5 127.9 L611.3 127.9 L612.1 127.8 L612.9 127.7 L613.7 127.6 L614.5 127.4 L615.3 127.2 L616.1 127.1 L616.9 126.9 L617.7 126.8 L618.5 126.8 L619.3 126.7 L620.1 126.8 L620.9 127.0 L621.7 127.4 L622.5 127.8 L623.3 128.2 L624.1 128.7 L624.9 129.2 L625.7 129.6 L626.5 129.9 L627.3 130.1 L628.1 130.0 L628.9 129.8 L629.7 129.5 L630.5 129.1 L631.3 128.6 L632.1 128.2 L632.9 127.8 L633.7 127.4 L634.5 127.1 L635.3 126.8 L636.1 126.7 L636.9 126.6 L637.7 126.7 L638.5 127.1 L639.3 127.5 L640.1 128.1 L640.9 128.7 L641.7 129.3 L642.5 129.8 L643.3 130.2 L644.1 130.5 L644.9 130.6 L645.7 130.5 L646.5 130.3 L647.3 130.1 L648.1 129.9 L648.9 129.7 L649.7 129.5 L650.5 129.3 L651.3 129.2 L652.1 129.2 L652.9 129.2 L653.7 129.2 L654.5 129.3 L655.3 129.4 L656.1 129.6 L656.9 129.8 L657.7 129.9 L658.5 130.0 L659.3 129.9 L660.1 129.8 L660.9 129.6 L661.7 129.3 L662.5 128.9 L663.3 128.5 L664.1 128.1 L664.9 127.7 L665.7 127.3 L666.5 127.0 L667.3 126.8 L668.1 126.8 L668.9 127.1 L669.7 127.4 L670.5 127.9 L671.3 128.4 L672.1 128.9 L672.9 129.4 L673.7 129.9 L674.5 130.3 L675.3 130.5 L676.1 130.4 L676.9 130.3 L677.7 130.1 L678.5 129.8 L679.3 129.4 L680.1 129.0 L680.9 128.6 L681.7 128.2 L682.5 127.8 L683.3 127.4 L684.1 127.1 L684.9 126.9 L685.7 126.9 L686.5 126.9 L687.3 126.9 L688.1 126.9 L688.9 127.0 L689.7 127.1 L690.5 127.2 L691.3 127.3 L692.1 127.4 L692.9 127.4 L693.7 127.3 L694.5 127.2 L695.3 127.1 L696.1 126.9 L696.9 126.6 L697.7 126.3 L698.5 126.1 L699.3 125.8 L700.1 125.6 L700.9 125.7 L701.7 126.0 L702.5 126.3 L703.3 126.8 L704.1 127.3 L704.9 127.8 L705.7 128.4 L706.5 128.9 L707.3 129.5 L708.1 130.1 L708.9 130.6 L709.7 131.0 L710.5 131.1 L711.3 131.0 L712.1 130.8 L712.9 130.3 L713.7 129.7 L714.5 129.0 L715.3 128.1 L716.1 127.2 L716.9 126.4 L717.7 125.5 L718.5 124.8 L719.3 124.3 L720.1 124.0 L720.9 124.2 L721.7 124.5 L722.5 125.0 L723.3 125.7 L724.1 126.4 L724.9 127.2 L725.7 128.0 L726.5 128.7 L727.3 129.2 L728.1 129.5 L728.9 129.7 L729.7 129.7 L730.5 129.6 L731.3 129.5 L732.1 129.5 L732.9 129.6 L733.7 129.8 L734.5 130.1 L735.3 130.5 L736.1 130.9 L736.9 131.4 L737.7 132.0 L738.5 132.4 L739.3 132.7 L740.1 132.9 L740.9 132.9 L741.7 132.9 L742.5 132.9 L743.3 133.0 L744.1 133.2 L744.9 133.4 L745.7 133.8 L746.5 134.2 L747.3 134.7 L748.1 135.3 L748.9 135.9 L749.7 136.4 L750.5 136.9 L751.3 137.2 L752.1 137.4 L752.9 137.4 L753.7 137.3 L754.5 137.1 L755.3 136.9 L756.1 136.9 L756.9 137.0 L757.7 137.2 L758.5 137.5 L759.3 138.0 L760.1 138.6 L760.9 139.3 L761.7 140.0 L762.5 140.7 L763.3 141.2 L764.1 141.6 L764.9 141.8 L765.7 141.9 L766.5 142.0 L767.3 142.1 L768.1 142.1 L768.9 142.3 L769.7 142.5 L770.5 142.7 L771.3 143.0 L772.1 143.4 L772.9 143.7 L773.7 144.1 L774.5 144.5 L775.3 144.8 L776.1 145.0 L776.9 145.2 L777.7 145.3 L778.5 145.5 L779.3 145.6 L780.1 145.8 L780.9 146.0 L781.7 146.4 L782.5 146.7 L783.3 147.2 L784.1 147.7 L784.9 148.1 L785.7 148.5 L786.5 148.8 L787.3 148.8 L788.1 148.7 L788.9 148.5 L789.7 148.3 L790.5 148.2 L791.3 148.4 L792.1 148.7 L792.9 149.2 L793.7 149.9 L794.5 150.7 L795.3 151.6 L796.1 152.6 L796.9 153.5 L797.7 154.4 L798.5 155.2 L799.3 155.6 L800.1 155.7 L800.9 155.4 L801.7 155.1 L802.5 154.8 L803.3 154.5 L804.1 154.3 L804.9 154.2 L805.7 154.1 L806.5 154.2 L807.3 154.3 L808.1 154.7 L808.9 155.4 L809.7 156.1 L810.5 157.0 L811.3 157.8 L812.1 158.5 L812.9 159.1 L813.7 159.5 L814.5 159.9 L815.3 160.2 L816.1 160.5 L816.9 160.8 L817.7 161.0 L818.5 161.4 L819.3 162.0 L820.1 162.8 L820.9 163.6 L821.7 164.5 L822.5 165.3 L823.3 165.9 L824.1 166.3 L824.9 166.4 L825.7 166.4 L826.5 166.6 L827.3 166.8 L828.1 167.2 L828.9 167.8 L829.7 168.5 L830.5 169.3 L831.3 170.2 L832.1 171.0 L832.9 171.9 L833.7 172.6 L834.5 173.2 L835.3 173.5 L836.1 173.7 L836.9 173.7 L837.7 173.6 L838.5 173.5 L839.3 173.4 L840.1 173.3 L840.9 173.3 L841.7 173.3 L842.5 173.4 L843.3 173.8 L844.1 174.5 L844.9 175.3 L845.7 176.3 L846.5 177.3 L847.3 178.3 L848.1 179.1 L848.9 179.6 L849.7 179.8 L850.5 179.6 L851.3 179.1 L852.1 178.6 L852.9 178.1 L853.7 177.7 L854.5 177.3 L855.3 177.0 L856.1 177.0 L856.9 177.4 L857.7 178.0 L858.5 178.7 L859.3 179.4 L860.1 179.8 L860.9 180.0 L861.7 180.0 L862.5 179.9 L863.3 179.8 L864.1 179.7 L864.9 179.7 L865.7 179.7 L866.5 179.6 L867.3 179.5 L868.1 179.5 L868.9 179.5 L869.7 179.5 L870.5 179.5 L871.3 179.6 L872.1 179.7 L872.9 179.8 L873.7 179.9 L874.5 179.9 L875.3 179.8 L876.1 179.5 L876.9 179.1 L877.7 178.6 L878.5 178.0 L879.3 177.6 L880.1 177.4 L880.9 177.6 L881.7 178.2 L882.5 179.0 L883.3 180.0 L884.1 181.0 L884.9 181.9 L885.7 182.7 L886.5 183.3 L887.3 183.4 L888.1 183.0 L888.9 182.4 L889.7 181.7 L890.5 180.9 L891.3 180.1 L892.1 179.4 L892.9 178.8 L893.7 178.5 L894.5 178.3 L895.3 178.1 L896.1 177.9 L896.9 177.6 L897.7 177.3 L898.5 177.0 L899.3 176.6 L900.1 176.2 L900.9 175.8 L901.7 175.4 L902.5 175.0 L903.3 174.7 L904.1 174.5 L904.9 174.4 L905.7 174.5 L906.5 174.6 L907.3 174.9 L908.1 175.1 L908.9 175.1 L909.7 174.9 L910.5 174.6 L911.3 174.1 L912.1 173.5 L912.9 172.8 L913.7 172.0 L914.5 171.2 L915.3 170.5 L916.1 169.9 L916.9 169.4 L917.7 169.2 L918.5 169.4 L919.3 169.9 L920.1 170.5 L920.9 171.1 L921.7 171.6 L922.5 172.0 L923.3 172.1 L924.1 171.7 L924.9 171.1 L925.7 170.2 L926.5 169.2 L927.3 168.2 L928.1 167.2 L928.9 166.3 L929.7 165.7 L930.5 165.5 L931.3 165.6 L932.1 165.7 L932.9 165.8 L933.7 165.8 L934.5 165.8 L935.3 165.6 L936.1 165.4 L936.9 165.0 L937.7 164.6 L938.5 164.2 L939.3 163.8 L940.1 163.5 L940.9 163.3 L941.7 163.2 L942.5 163.0 L943.3 162.9 L944.1 162.7 L944.9 162.4 L945.7 162.1 L946.5 161.7 L947.3 161.2 L948.1 160.7 L948.9 160.1 L949.7 159.5 L950.5 159.0 L951.3 158.5 L952.1 158.2 L952.9 158.1 L953.7 158.2 L954.5 158.2 L955.3 158.2 L956.1 158.1 L956.9 157.8 L957.7 157.5 L958.5 157.0 L959.3 156.4 L960.1 155.8 L960.9 155.1 L961.7 154.5 L962.5 153.8 L963.3 153.4 L964.1 153.1 L964.9 152.9 L965.7 152.9 L966.5 153.1 L967.3 153.5 L968.1 153.8 L968.9 154.1 L969.7 154.4 L970.5 154.6 L971.3 154.4 L972.1 154.0 L972.9 153.5 L973.7 152.7 L974.5 151.9 L975.3 151.0 L976.1 150.0 L976.9 149.1 L977.7 148.4 L978.5 147.8 L979.3 147.4 L980.1 147.2 L980.9 147.1 L981.7 146.9 L982.5 146.6 L983.3 146.2 L984.1 145.7 L984.9 145.1 L985.7 144.5 L986.5 144.0 L987.3 143.5 L988.1 143.1 L988.9 142.8 L989.7 142.5 L990.5 142.3 L991.3 142.1 L992.1 142.0 L992.9 141.8 L993.7 141.6 L994.5 141.4 L995.3 141.1 L996.1 140.7 L996.9 140.0 L997.7 139.0 L998.5 137.8 L999.3 136.6 L1000.1 135.4 L1000.9 134.3 L1001.7 133.4 L1002.5 132.7 L1003.3 132.5 L1004.1 132.5 L1004.9 132.6 L1005.7 132.6 L1006.5 132.6 L1007.3 132.6 L1008.1 132.5 L1008.9 132.3 L1009.7 132.0 L1010.5 131.8 L1011.3 131.4 L1012.1 131.1 L1012.9 130.8 L1013.7 130.7 L1014.5 130.7 L1015.3 130.8 L1016.1 131.0 L1016.9 131.3 L1017.7 131.4 L1018.5 131.6" stroke="#00f" stroke-width="3.4"/>
<path d="M90.0 98.8 L123.2 98.8 L123.2 91.2 L289.3 91.2 L289.3 106.2 L455.3 106.2 L455.3 98.0 L621.4 98.0 L621.4 93.8 L787.4 93.8 L787.4 98.0 L953.5 98.0 L953.5 110.8 L1019.7 110.8" stroke="#0f0" stroke-width="3"/>
<path d="M90.5 102.0 L91.3 101.8 L92.1 101.5 L92.9 101.1 L93.7 100.7 L94.5 100.2 L95.3 99.8 L96.1 99.4 L96.9 99.1 L97.7 98.8 L98.5 98.8 L99.3 98.9 L100.1 99.0 L100.9 99.1 L101.7 99.3 L102.5 99.6 L103.3 99.8 L104.1 100.0 L104.9 100.2 L105.7 100.3 L106.5 100.3 L107.3 100.4 L108.1 100.5 L108.9 100.7 L109.7 101.1 L110.5 101.5 L111.3 101.9 L112.1 102.2 L112.9 102.3 L113.7 102.1 L114.5 101.7 L115.3 101.2 L116.1 100.5 L116.9 99.9 L117.7 99.3 L118.5 98.7 L119.3 98.3 L120.1 98.0 L120.9 97.7 L121.7 97.5 L122.5 97.5 L123.3 97.4 L124.1 97.4 L124.9 97.4 L125.7 97.4 L126.5 97.4 L127.3 97.4 L128.1 97.4 L128.9 97.5 L129.7 97.5 L130.5 97.5 L131.3 97.4 L132.1 97.4 L132.9 97.3 L133.7 97.1 L134.5 97.0 L135.3 97.0 L136.1 96.9 L136.9 96.9 L137.7 96.9 L138.5 96.9 L139.3 96.8 L140.1 96.8 L140.9 96.8 L141.7 96.8 L142.5 96.8 L143.3 96.8 L144.1 96.9 L144.9 97.0 L145.7 97.2 L146.5 97.4 L147.3 97.7 L148.1 97.9 L148.9 97.8 L149.7 97.6 L150.5 97.4 L151.3 97.2 L152.1 97.1 L152.9 97.0 L153.7 97.0 L154.5 97.0 L155.3 97.0 L156.1 97.0 L156.9 97.0 L157.7 97.0 L158.5 97.1 L159.3 97.1 L160.1 97.1 L160.9 97.2 L161.7 97.3 L162.5 97.4 L163.3 97.5 L164.1 97.5 L164.9 97.4 L165.7 97.2 L166.5 96.9 L167.3 96.7 L168.1 96.5 L168.9 96.4 L169.7 96.4 L170.5 96.4 L171.3 96.4 L172.1 96.4 L172.9 96.4 L173.7 96.4 L174.5 96.4 L175.3 96.4 L176.1 96.4 L176.9 96.5 L177.7 96.6 L178.5 96.7 L179.3 97.0 L180.1 97.3 L180.9 97.5 L181.7 97.5 L182.5 97.5 L183.3 97.4 L184.1 97.3 L184.9 97.2 L185.7 97.1 L186.5 97.1 L187.3 97.1 L188.1 97.0 L188.9 97.0 L189.7 97.0 L190.5 97.0 L191.3 97.0 L192.1 97.0 L192.9 97.1 L193.7 97.2 L194.5 97.4 L195.3 97.6 L196.1 97.8 L196.9 98.0 L197.7 98.0 L198.5 97.8 L199.3 97.5 L200.1 97.3 L200.9 97.1 L201.7 97.0 L202.5 97.0 L203.3 97.0 L204.1 97.0 L204.9 97.0 L205.7 97.1 L206.5 97.1 L207.3 97.1 L208.1 97.1 L208.9 97.2 L209.7 97.2 L210.5 97.3 L211.3 97.4 L212.1 97.5 L212.9 97.6 L213.7 97.7 L214.5 97.8 L215.3 97.8 L216.1 97.8 L216.9 97.8 L217.7 97.7 L218.5 97.7 L219.3 97.7 L220.1 97.8 L220.9 97.8 L221.7 97.8 L222.5 97.8 L223.3 97.9 L224.1 97.9 L224.9 97.9 L225.7 98.0 L226.5 98.0 L227.3 98.2 L228.1 98.4 L228.9 98.7 L229.7 99.1 L230.5 99.4 L231.3 100.1 L232.1 100.8 L232.9 101.1 L233.7 100.3 L234.5 98.9 L235.3 97.2 L236.1 95.6 L236.9 94.3 L237.7 93.4 L238.5 93.1 L239.3 93.1 L240.1 93.1 L240.9 93.0 L241.7 92.8 L242.5 92.5 L243.3 92.2 L244.1 92.0 L244.9 92.0 L245.7 92.2 L246.5 92.3 L247.3 92.4 L248.1 92.3 L248.9 92.2 L249.7 92.1 L250.5 92.1 L251.3 92.1 L252.1 92.0 L252.9 91.9 L253.7 91.8 L254.5 91.6 L255.3 91.2 L256.1 90.8 L256.9 90.4 L257.7 90.1 L258.5 89.9 L259.3 89.9 L260.1 89.7 L260.9 89.7 L261.7 89.8 L262.5 90.0 L263.3 90.3 L264.1 90.7 L264.9 91.2 L265.7 91.6 L266.5 91.9 L267.3 92.1 L268.1 92.2 L268.9 92.1 L269.7 92.1 L270.5 92.1 L271.3 92.3 L272.1 92.2 L272.9 92.0 L273.7 91.8 L274.5 91.5 L275.3 91.4 L276.1 91.3 L276.9 91.2 L277.7 91.2 L278.5 91.1 L279.3 90.9 L280.1 90.8 L280.9 90.8 L281.7 90.8 L282.5 91.0 L283.3 91.3 L284.1 91.5 L284.9 91.5 L285.7 91.3 L286.5 91.1 L287.3 91.0 L288.1 90.8 L288.9 90.7 L289.7 90.6 L290.5 90.5 L291.3 90.3 L292.1 90.1 L292.9 89.9 L293.7 89.8 L294.5 89.9 L295.3 90.0 L296.1 90.4 L296.9 90.8 L297.7 91.2 L298.5 91.8 L299.3 92.4 L300.1 93.0 L300.9 93.6 L301.7 94.1 L302.5 94.4 L303.3 94.4 L304.1 94.1 L304.9 93.8 L305.7 93.5 L306.5 93.3 L307.3 93.0 L308.1 92.5 L308.9 92.0 L309.7 91.6 L310.5 91.2 L311.3 91.2 L312.1 91.4 L312.9 91.7 L313.7 92.2 L314.5 92.8 L315.3 93.6 L316.1 94.4 L316.9 95.1 L317.7 95.8 L318.5 96.4 L319.3 96.7 L320.1 96.8 L320.9 96.5 L321.7 96.2 L322.5 95.9 L323.3 95.7 L324.1 95.6 L324.9 95.5 L325.7 95.5 L326.5 95.6 L327.3 95.6 L328.1 95.7 L328.9 96.1 L329.7 96.5 L330.5 97.1 L331.3 97.6 L332.1 97.9 L332.9 98.2 L333.7 98.3 L334.5 98.5 L335.3 98.7 L336.1 98.9 L336.9 99.2 L337.7 99.5 L338.5 99.7 L339.3 99.9 L340.1 100.1 L340.9 100.2 L341.7 100.4 L342.5 100.6 L343.3 100.7 L344.1 100.7 L344.9 100.7 L345.7 100.6 L346.5 100.5 L347.3 100.7 L348.1 101.1 L348.9 101.7 L349.7 102.3 L350.5 102.9 L351.3 103.4 L352.1 103.7 L352.9 103.9 L353.7 104.0 L354.5 104.1 L355.3 104.3 L356.1 104.4 L356.9 104.4 L357.7 104.4 L358.5 104.4 L359.3 104.6 L360.1 104.9 L360.9 105.4 L361.7 106.1 L362.5 106.8 L363.3 107.6 L364.1 108.4 L364.9 109.1 L365.7 109.9 L366.5 110.5 L367.3 111.0 L368.1 111.2 L368.9 111.1 L369.7 110.8 L370.5 110.3 L371.3 110.0 L372.1 109.7 L372.9 109.6 L373.7 109.6 L374.5 109.6 L375.3 109.7 L376.1 109.8 L376.9 110.0 L377.7 110.2 L378.5 110.5 L379.3 110.6 L380.1 110.6 L380.9 110.6 L381.7 110.5 L382.5 110.6 L383.3 110.8 L384.1 111.0 L384.9 111.2 L385.7 111.5 L386.5 111.7 L387.3 112.0 L388.1 112.3 L388.9 112.6 L389.7 113.0 L390.5 113.3 L391.3 113.6 L392.1 113.9 L392.9 114.0 L393.7 113.9 L394.5 113.3 L395.3 112.2 L396.1 111.1 L396.9 110.1 L397.7 109.5 L398.5 110.0 L399.3 111.2 L400.1 112.7 L400.9 114.5 L401.7 116.5 L402.5 118.3 L403.3 119.9 L404.1 121.1 L404.9 121.9 L405.7 121.9 L406.5 121.4 L407.3 120.5 L408.1 119.5 L408.9 118.4 L409.7 117.2 L410.5 115.9 L411.3 114.8 L412.1 113.9 L412.9 113.3 L413.7 113.0 L414.5 112.9 L415.3 112.9 L416.1 113.0 L416.9 113.1 L417.7 113.3 L418.5 113.3 L419.3 113.2 L420.1 113.1 L420.9 112.8 L421.7 112.6 L422.5 112.2 L423.3 111.8 L424.1 111.2 L424.9 110.7 L425.7 110.3 L426.5 110.1 L427.3 110.0 L428.1 109.9 L428.9 109.8 L429.7 109.7 L430.5 109.7 L431.3 109.7 L432.1 109.6 L432.9 109.6 L433.7 109.7 L434.5 109.7 L435.3 109.6 L436.1 109.6 L436.9 109.4 L437.7 109.4 L438.5 109.5 L439.3 109.7 L440.1 109.7 L440.9 109.6 L441.7 109.4 L442.5 108.9 L443.3 108.3 L444.1 107.6 L444.9 107.0 L445.7 106.4 L446.5 105.9 L447.3 105.5 L448.1 105.1 L448.9 104.7 L449.7 104.4 L450.5 104.2 L451.3 104.2 L452.1 104.3 L452.9 104.3 L453.7 104.2 L454.5 104.1 L455.3 103.8 L456.1 103.5 L456.9 103.0 L457.7 102.5 L458.5 101.9 L459.3 101.4 L460.1 100.8 L460.9 100.3 L461.7 99.9 L462.5 99.7 L463.3 99.7 L464.1 99.8 L464.9 99.9 L465.7 99.9 L466.5 100.0 L467.3 100.0 L468.1 99.9 L468.9 99.9 L469.7 99.8 L470.5 99.7 L471.3 99.4 L472.1 99.1 L472.9 98.6 L473.7 98.2 L474.5 97.9 L475.3 97.7 L476.1 97.5 L476.9 97.3 L477.7 97.1 L478.5 96.9 L479.3 96.7 L480.1 96.6 L480.9 96.5 L481.7 96.6 L482.5 96.7 L483.3 96.7 L484.1 96.6 L484.9 96.5 L485.7 96.5 L486.5 96.5 L487.3 96.6 L488.1 96.5 L488.9 96.3 L489.7 96.0 L490.5 95.5 L491.3 95.1 L492.1 94.7 L492.9 94.4 L493.7 94.2 L494.5 94.2 L495.3 94.2 L496.1 94.1 L496.9 94.1 L497.7 94.1 L498.5 94.2 L499.3 94.4 L500.1 94.6 L500.9 94.7 L501.7 94.6 L502.5 94.5 L503.3 94.3 L504.1 94.0 L504.9 93.8 L505.7 93.6 L506.5 93.4 L507.3 93.2 L508.1 92.8 L508.9 92.5 L509.7 92.3 L510.5 92.3 L511.3 92.5 L512.1 92.8 L512.9 93.2 L513.7 93.5 L514.5 93.8 L515.3 94.0 L516.1 94.1 L516.9 94.3 L517.7 94.6 L518.5 94.9 L519.3 95.2 L520.1 95.4 L520.9 95.4 L521.7 95.1 L522.5 94.9 L523.3 94.7 L524.1 94.5 L524.9 94.2 L525.7 93.9 L526.5 93.5 L527.3 93.2 L528.1 93.0 L528.9 93.0 L529.7 93.2 L530.5 93.6 L531.3 94.0 L532.1 94.3 L532.9 94.4 L533.7 94.6 L534.5 94.8 L535.3 95.2 L536.1 95.5 L536.9 95.8 L537.7 96.0 L538.5 96.1 L539.3 96.0 L540.1 96.0 L540.9 96.0 L541.7 96.1 L542.5 96.1 L543.3 96.2 L544.1 96.0 L544.9 95.8 L545.7 95.7 L546.5 95.7 L547.3 95.8 L548.1 95.9 L548.9 95.9 L549.7 96.0 L550.5 95.9 L551.3 95.9 L552.1 95.8 L552.9 95.7 L553.7 95.6 L554.5 95.6 L555.3 95.5 L556.1 95.5 L556.9 95.4 L557.7 95.2 L558.5 94.9 L559.3 94.7 L560.1 94.6 L560.9 94.7 L561.7 94.8 L562.5 94.9 L563.3 95.0 L564.1 95.1 L564.9 95.2 L565.7 95.3 L566.5 95.3 L567.3 95.4 L568.1 95.6 L568.9 95.7 L569.7 95.8 L570.5 95.9 L571.3 95.9 L572.1 96.0 L572.9 96.1 L573.7 96.3 L574.5 96.5 L575.3 96.7 L576.1 97.0 L576.9 97.1 L577.7 97.2 L578.5 97.2 L579.3 97.2 L580.1 97.1 L580.9 97.0 L581.7 97.0 L582.5 96.9 L583.3 96.9 L584.1 96.9 L584.9 96.9 L585.7 96.8 L586.5 96.8 L587.3 96.9 L588.1 96.9 L588.9 97.0 L589.7 97.2 L590.5 97.4 L591.3 97.6 L592.1 97.8 L592.9 98.0 L593.7 98.0 L594.5 98.0 L595.3 97.8 L596.1 97.6 L596.9 97.4 L597.7 97.3 L598.5 97.2 L599.3 97.2 L600.1 97.2 L600.9 97.2 L601.7 97.1 L602.5 97.1 L603.3 97.1 L604.1 97.1 L604.9 97.2 L605.7 97.3 L606.5 97.5 L607.3 97.7 L608.1 97.9 L608.9 98.0 L609.7 98.1 L610.5 98.1 L611.3 98.0 L612.1 97.8 L612.9 97.6 L613.7 97.4 L614.5 97.2 L615.3 97.1 L616.1 97.0 L616.9 96.9 L617.7 96.9 L618.5 96.8 L619.3 96.8 L620.1 96.8 L620.9 97.1 L621.7 97.5 L622.5 98.1 L623.3 98.8 L624.1 99.6 L624.9 100.4 L625.7 101.1 L626.5 101.7 L627.3 102.0 L628.1 102.0 L628.9 101.8 L629.7 101.4 L630.5 101.1 L631.3 100.8 L632.1 100.5 L632.9 100.3 L633.7 100.1 L634.5 99.9 L635.3 99.7 L636.1 99.6 L636.9 99.5 L637.7 99.6 L638.5 100.0 L639.3 100.6 L640.1 101.3 L640.9 102.0 L641.7 102.7 L642.5 103.4 L643.3 103.9 L644.1 104.2 L644.9 104.4 L645.7 104.2 L646.5 104.0 L647.3 103.8 L648.1 103.6 L648.9 103.4 L649.7 103.3 L650.5 103.2 L651.3 103.1 L652.1 103.0 L652.9 102.9 L653.7 102.9 L654.5 102.9 L655.3 103.0 L656.1 103.1 L656.9 103.3 L657.7 103.5 L658.5 103.5 L659.3 103.4 L660.1 103.2 L660.9 102.8 L661.7 102.4 L662.5 101.9 L663.3 101.5 L664.1 101.2 L664.9 101.2 L665.7 101.3 L666.5 101.6 L667.3 101.9 L668.1 102.2 L668.9 102.6 L669.7 103.0 L670.5 103.3 L671.3 103.7 L672.1 104.0 L672.9 104.3 L673.7 104.4 L674.5 104.4 L675.3 104.4 L676.1 104.3 L676.9 104.1 L677.7 103.8 L678.5 103.5 L679.3 103.1 L680.1 102.7 L680.9 102.3 L681.7 102.0 L682.5 101.8 L683.3 101.7 L684.1 101.5 L684.9 101.4 L685.7 101.2 L686.5 101.1 L687.3 101.1 L688.1 101.0 L688.9 101.1 L689.7 101.2 L690.5 101.4 L691.3 101.8 L692.1 102.1 L692.9 102.5 L693.7 102.8 L694.5 103.0 L695.3 103.2 L696.1 103.3 L696.9 103.3 L697.7 103.3 L698.5 103.3 L699.3 103.3 L700.1 103.3 L700.9 103.3 L701.7 103.2 L702.5 103.1 L703.3 103.0 L704.1 102.9 L704.9 102.9 L705.7 102.9 L706.5 103.0 L707.3 103.1 L708.1 103.3 L708.9 103.5 L709.7 103.7 L710.5 104.1 L711.3 104.7 L712.1 105.3 L712.9 105.9 L713.7 106.3 L714.5 106.4 L715.3 105.8 L716.1 104.3 L716.9 102.4 L717.7 100.4 L718.5 98.7 L719.3 97.4 L720.1 96.7 L720.9 96.8 L721.7 96.8 L722.5 96.8 L723.3 96.6 L724.1 96.4 L724.9 96.3 L725.7 96.2 L726.5 96.3 L727.3 96.6 L728.1 96.8 L728.9 96.8 L729.7 96.6 L730.5 96.4 L731.3 96.2 L732.1 96.0 L732.9 95.8 L733.7 95.6 L734.5 95.2 L735.3 94.7 L736.1 94.1 L736.9 93.4 L737.7 92.8 L738.5 92.4 L739.3 92.2 L740.1 92.3 L740.9 92.3 L741.7 92.3 L742.5 92.2 L743.3 92.2 L744.1 92.2 L744.9 92.4 L745.7 92.5 L746.5 92.6 L747.3 92.5 L748.1 92.3 L748.9 92.0 L749.7 91.7 L750.5 91.4 L751.3 91.3 L752.1 91.3 L752.9 91.2 L753.7 90.9 L754.5 90.7 L755.3 90.5 L756.1 90.4 L756.9 90.5 L757.7 90.6 L758.5 90.8 L759.3 90.9 L760.1 91.0 L760.9 91.1 L761.7 91.1 L762.5 91.2 L763.3 91.4 L764.1 91.6 L764.9 91.6 L765.7 91.5 L766.5 91.3 L767.3 91.2 L768.1 91.1 L768.9 91.1 L769.7 91.0 L770.5 91.0 L771.3 90.9 L772.1 90.8 L772.9 90.7 L773.7 90.7 L774.5 90.8 L775.3 91.0 L776.1 91.3 L776.9 91.5 L777.7 91.6 L778.5 91.7 L779.3 91.8 L780.1 92.0 L780.9 92.2 L781.7 92.4 L782.5 92.6 L783.3 92.7 L784.1 92.7 L784.9 92.7 L785.7 92.7 L786.5 92.8 L787.3 92.8 L788.1 92.6 L788.9 92.3 L789.7 92.0 L790.5 91.9 L791.3 91.9 L792.1 92.2 L792.9 92.6 L793.7 93.0 L794.5 93.5 L795.3 94.0 L796.1 94.5 L796.9 94.9 L797.7 95.3 L798.5 95.6 L799.3 95.9 L800.1 96.0 L800.9 95.9 L801.7 95.6 L802.5 95.4 L803.3 95.2 L804.1 95.1 L804.9 95.1 L805.7 95.2 L806.5 95.1 L807.3 95.1 L808.1 95.1 L808.9 95.3 L809.7 95.5 L810.5 95.9 L811.3 96.4 L812.1 97.0 L812.9 97.4 L813.7 97.8 L814.5 98.0 L815.3 98.2 L816.1 98.4 L816.9 98.6 L817.7 98.8 L818.5 98.9 L819.3 99.0 L820.1 99.0 L820.9 99.0 L821.7 99.0 L822.5 99.0 L823.3 99.2 L824.1 99.2 L824.9 99.2 L825.7 99.2 L826.5 99.4 L827.3 99.7 L828.1 100.2 L828.9 100.9 L829.7 101.7 L830.5 102.6 L831.3 103.4 L832.1 104.2 L832.9 104.7 L833.7 105.1 L834.5 105.4 L835.3 105.6 L836.1 105.6 L836.9 105.5 L837.7 105.4 L838.5 105.1 L839.3 104.8 L840.1 104.6 L840.9 104.4 L841.7 104.4 L842.5 104.4 L843.3 105.0 L844.1 105.7 L844.9 106.6 L845.7 107.5 L846.5 108.5 L847.3 109.6 L848.1 110.5 L848.9 111.1 L849.7 111.3 L850.5 111.0 L851.3 110.4 L852.1 109.9 L852.9 109.4 L853.7 109.0 L854.5 108.7 L855.3 108.6 L856.1 108.5 L856.9 108.8 L857.7 109.2 L858.5 109.7 L859.3 110.3 L860.1 110.8 L860.9 111.3 L861.7 111.5 L862.5 111.6 L863.3 111.6 L864.1 111.5 L864.9 111.5 L865.7 111.4 L866.5 111.3 L867.3 111.3 L868.1 111.2 L868.9 111.2 L869.7 111.2 L870.5 111.2 L871.3 111.3 L872.1 111.4 L872.9 111.6 L873.7 111.5 L874.5 111.3 L875.3 110.9 L876.1 110.3 L876.9 109.6 L877.7 108.8 L878.5 108.0 L879.3 107.5 L880.1 107.1 L880.9 107.5 L881.7 108.6 L882.5 110.0 L883.3 111.7 L884.1 113.3 L884.9 114.8 L885.7 116.0 L886.5 116.8 L887.3 116.9 L888.1 116.7 L888.9 116.2 L889.7 115.7 L890.5 115.0 L891.3 114.3 L892.1 113.5 L892.9 112.9 L893.7 112.4 L894.5 112.1 L895.3 111.9 L896.1 111.8 L896.9 111.6 L897.7 111.4 L898.5 111.1 L899.3 110.8 L900.1 110.5 L900.9 110.2 L901.7 109.9 L902.5 109.8 L903.3 109.7 L904.1 109.6 L904.9 109.5 L905.7 109.4 L906.5 109.3 L907.3 109.4 L908.1 109.5 L908.9 109.5 L909.7 109.4 L910.5 109.0 L911.3 108.5 L912.1 107.9 L912.9 107.3 L913.7 106.8 L914.5 106.3 L915.3 106.0 L916.1 105.7 L916.9 105.5 L917.7 105.4 L918.5 105.4 L919.3 105.6 L920.1 105.8 L920.9 106.0 L921.7 106.1 L922.5 106.0 L923.3 105.7 L924.1 105.3 L924.9 104.7 L925.7 104.2 L926.5 103.6 L927.3 103.1 L928.1 102.6 L928.9 102.2 L929.7 101.8 L930.5 101.6 L931.3 101.8 L932.1 101.9 L932.9 102.1 L933.7 102.1 L934.5 102.1 L935.3 101.9 L936.1 101.7 L936.9 101.4 L937.7 101.2 L938.5 101.0 L939.3 100.9 L940.1 100.7 L940.9 100.6 L941.7 100.4 L942.5 100.4 L943.3 100.4 L944.1 100.3 L944.9 100.1 L945.7 99.8 L946.5 99.4 L947.3 98.9 L948.1 98.5 L948.9 98.1 L949.7 97.8 L950.5 97.6 L951.3 97.5 L952.1 97.4 L952.9 97.4 L953.7 97.6 L954.5 97.9 L955.3 98.3 L956.1 98.6 L956.9 98.7 L957.7 98.7 L958.5 98.6 L959.3 98.4 L960.1 98.2 L960.9 97.8 L961.7 97.2 L962.5 96.6 L963.3 96.0 L964.1 95.5 L964.9 95.0 L965.7 94.7 L966.5 94.8 L967.3 95.1 L968.1 95.4 L968.9 95.6 L969.7 95.8 L970.5 95.9 L971.3 96.0 L972.1 96.0 L972.9 96.1 L973.7 96.3 L974.5 96.5 L975.3 96.7 L976.1 96.7 L976.9 96.4 L977.7 95.9 L978.5 95.3 L979.3 94.7 L980.1 94.2 L980.9 93.8 L981.7 93.3 L982.5 93.0 L983.3 92.8 L984.1 92.8 L984.9 92.9 L985.7 93.2 L986.5 93.6 L987.3 94.1 L988.1 94.5 L988.9 94.9 L989.7 95.0 L990.5 95.1 L991.3 95.4 L992.1 95.6 L992.9 95.8 L993.7 95.8 L994.5 95.7 L995.3 95.4 L996.1 95.0 L996.9 94.7 L997.7 94.5 L998.5 94.5 L999.3 94.6 L1000.1 94.9 L1000.9 95.1 L1001.7 95.3 L1002.5 95.3 L1003.3 95.3 L1004.1 95.4 L1004.9 95.6 L1005.7 95.8 L1006.5 96.0 L1007.3 96.1 L1008.1 96.3 L1008.9 96.4 L1009.7 96.6 L1010.5 96.9 L1011.3 97.3 L1012.1 97.8 L1012.9 98.2 L1013.7 98.3 L1014.5 98.2 L1015.3 98.2 L1016.1 98.3 L1016.9 98.4 L1017.7 98.5 L1018.5 98.5" stroke="#a52a2a" stroke-width="3"/>
<g fill="#a52a2a" stroke="none"><circle cx="99.2" cy="120.0" r="2.5"/><circle cx="107.5" cy="117.0" r="2.5"/><circle cx="116.8" cy="117.0" r="2.5"/><circle cx="124.2" cy="121.2" r="2.5"/><circle cx="132.5" cy="123.8" r="2.5"/><circle cx="140.5" cy="120.0" r="2.5"/><circle cx="150.5" cy="112.5" r="2.5"/><circle cx="156.8" cy="114.2" r="2.5"/><circle cx="166.0" cy="119.2" r="2.5"/><circle cx="173.8" cy="117.5" r="2.5"/><circle cx="183.5" cy="119.5" r="2.5"/><circle cx="189.2" cy="120.0" r="2.5"/><circle cx="200.5" cy="120.0" r="2.5"/><circle cx="207.2" cy="118.0" r="2.5"/><circle cx="216.2" cy="123.0" r="2.5"/><circle cx="222.2" cy="126.2" r="2.5"/><circle cx="235.5" cy="104.5" r="2.5"/><circle cx="244.2" cy="147.0" r="2.5"/><circle cx="249.2" cy="165.0" r="2.5"/><circle cx="257.5" cy="175.5" r="2.5"/><circle cx="261.2" cy="182.0" r="2.5"/><circle cx="269.8" cy="183.0" r="2.5"/><circle cx="274.2" cy="180.5" r="2.5"/><circle cx="281.8" cy="181.2" r="2.5"/><circle cx="285.5" cy="188.0" r="2.5"/><circle cx="293.5" cy="190.0" r="2.5"/><circle cx="298.0" cy="191.2" r="2.5"/><circle cx="305.0" cy="191.2" r="2.5"/><circle cx="309.2" cy="187.0" r="2.5"/><circle cx="317.2" cy="182.5" r="2.5"/><circle cx="321.8" cy="186.2" r="2.5"/><circle cx="328.8" cy="192.0" r="2.5"/><circle cx="333.5" cy="185.8" r="2.5"/><circle cx="341.8" cy="177.0" r="2.5"/><circle cx="346.0" cy="178.0" r="2.5"/><circle cx="354.5" cy="189.5" r="2.5"/><circle cx="358.5" cy="193.8" r="2.5"/><circle cx="365.2" cy="186.2" r="2.5"/><circle cx="370.2" cy="180.5" r="2.5"/><circle cx="378.5" cy="166.2" r="2.5"/><circle cx="381.5" cy="166.2" r="2.5"/><circle cx="390.8" cy="147.5" r="2.5"/><circle cx="395.8" cy="139.2" r="2.5"/><circle cx="403.2" cy="133.2" r="2.5"/><circle cx="410.2" cy="130.0" r="2.5"/><circle cx="418.2" cy="117.5" r="2.5"/><circle cx="426.5" cy="119.2" r="2.5"/><circle cx="434.5" cy="124.5" r="2.5"/><circle cx="443.2" cy="125.5" r="2.5"/><circle cx="451.0" cy="119.2" r="2.5"/><circle cx="459.8" cy="115.5" r="2.5"/><circle cx="467.0" cy="115.0" r="2.5"/><circle cx="475.2" cy="119.5" r="2.5"/><circle cx="483.5" cy="120.0" r="2.5"/><circle cx="492.2" cy="123.8" r="2.5"/><circle cx="499.5" cy="124.5" r="2.5"/><circle cx="509.0" cy="123.8" r="2.5"/><circle cx="516.5" cy="120.0" r="2.5"/><circle cx="526.5" cy="124.5" r="2.5"/><circle cx="533.5" cy="125.5" r="2.5"/><circle cx="543.5" cy="121.8" r="2.5"/><circle cx="551.5" cy="120.0" r="2.5"/><circle cx="561.5" cy="118.8" r="2.5"/><circle cx="567.8" cy="119.2" r="2.5"/><circle cx="578.5" cy="124.5" r="2.5"/><circle cx="588.5" cy="118.2" r="2.5"/><circle cx="596.0" cy="116.2" r="2.5"/><circle cx="604.5" cy="117.0" r="2.5"/><circle cx="611.8" cy="118.0" r="2.5"/><circle cx="622.5" cy="117.5" r="2.5"/><circle cx="630.8" cy="120.8" r="2.5"/><circle cx="636.8" cy="120.0" r="2.5"/><circle cx="646.2" cy="123.8" r="2.5"/><circle cx="656.2" cy="125.0" r="2.5"/><circle cx="664.5" cy="117.5" r="2.5"/><circle cx="670.8" cy="119.5" r="2.5"/><circle cx="681.8" cy="126.8" r="2.5"/><circle cx="689.2" cy="124.5" r="2.5"/><circle cx="698.8" cy="120.5" r="2.5"/><circle cx="711.2" cy="130.5" r="2.5"/><circle cx="725.8" cy="144.2" r="2.5"/><circle cx="730.0" cy="165.8" r="2.5"/><circle cx="738.2" cy="180.0" r="2.5"/><circle cx="742.5" cy="178.8" r="2.5"/><circle cx="750.0" cy="175.0" r="2.5"/><circle cx="755.5" cy="181.2" r="2.5"/><circle cx="766.2" cy="184.2" r="2.5"/><circle cx="774.2" cy="181.2" r="2.5"/><circle cx="778.8" cy="186.8" r="2.5"/><circle cx="789.5" cy="178.8" r="2.5"/><circle cx="798.2" cy="187.5" r="2.5"/><circle cx="802.0" cy="191.2" r="2.5"/><circle cx="810.5" cy="200.0" r="2.5"/><circle cx="814.5" cy="208.8" r="2.5"/><circle cx="821.8" cy="203.8" r="2.5"/><circle cx="827.0" cy="195.5" r="2.5"/><circle cx="835.0" cy="198.0" r="2.5"/><circle cx="839.2" cy="207.0" r="2.5"/><circle cx="846.8" cy="188.8" r="2.5"/><circle cx="851.8" cy="168.2" r="2.5"/><circle cx="851.8" cy="168.8" r="2.5"/><circle cx="859.2" cy="139.2" r="2.5"/><circle cx="863.5" cy="138.2" r="2.5"/><circle cx="873.0" cy="131.2" r="2.5"/><circle cx="879.2" cy="124.5" r="2.5"/><circle cx="886.8" cy="120.8" r="2.5"/><circle cx="894.8" cy="122.5" r="2.5"/><circle cx="904.2" cy="111.2" r="2.5"/><circle cx="912.2" cy="119.2" r="2.5"/><circle cx="920.5" cy="122.5" r="2.5"/><circle cx="928.0" cy="129.2" r="2.5"/><circle cx="936.8" cy="123.0" r="2.5"/><circle cx="946.0" cy="111.2" r="2.5"/><circle cx="953.0" cy="113.8" r="2.5"/><circle cx="961.8" cy="121.8" r="2.5"/><circle cx="971.8" cy="120.0" r="2.5"/><circle cx="980.5" cy="116.8" r="2.5"/><circle cx="987.2" cy="118.0" r="2.5"/><circle cx="998.0" cy="123.0" r="2.5"/><circle cx="1011.2" cy="120.5" r="2.5"/><circle cx="1019.2" cy="123.8" r="2.5"/></g>
</g>
<rect x="90.0" y="12.4" width="929.7" height="331.0" fill="none" stroke="#000" stroke-width="1.4"/>
<text x="627.4" y="218.7" font-size="14.6" text-anchor="end">acceleration</text>
<line x1="637.0" y1="214.0" x2="679.4" y2="214.0" stroke="#000" stroke-width="1.2"/>
<text x="627.4" y="233.3" font-size="14.6" text-anchor="end">mean (interval window)</text>
<line x1="637.0" y1="228.6" x2="679.4" y2="228.6" stroke="#f00" stroke-width="3"/>
<text x="627.4" y="248.0" font-size="14.6" text-anchor="end">mean (sliding window)</text>
<line x1="637.0" y1="243.3" x2="679.4" y2="243.3" stroke="#00f" stroke-width="3.4"/>
<text x="627.4" y="262.5" font-size="14.6" text-anchor="end">threshold (interval window)</text>
<line x1="637.0" y1="257.8" x2="679.4" y2="257.8" stroke="#0f0" stroke-width="3"/>
<text x="627.4" y="277.0" font-size="14.6" text-anchor="end">threshold (sliding window)</text>
<line x1="637.0" y1="272.3" x2="679.4" y2="272.3" stroke="#a52a2a" stroke-width="3"/>
<text x="627.4" y="291.7" font-size="14.6" text-anchor="end">step average</text>
<circle cx="658.2" cy="287.0" r="2.5" fill="#a52a2a"/>
<text x="165.0" y="330.5" font-size="15.3" text-anchor="middle">Walking</text>
<text x="319.0" y="330.5" font-size="15.3" text-anchor="middle">Running</text>
<text x="549.5" y="330.5" font-size="15.3" text-anchor="middle">Walking</text>
<text x="790.0" y="330.5" font-size="15.3" text-anchor="middle">Running</text>
<text x="948.0" y="330.5" font-size="15.3" text-anchor="middle">Walking</text>
<text x="554.9" y="402.9" font-size="20.9" text-anchor="middle">time (sec)</text>
<text x="553.3" y="443.0" font-size="20.5" text-anchor="middle" font-family='"DejaVu Sans Mono", "Liberation Mono", monospace'>(a)</text>
<text transform="translate(26.3 176.9) rotate(-90)" font-size="20.8" text-anchor="middle">magnitude of acceleration (m/s<tspan font-size="16.6" dy="-10.3">2</tspan><tspan dy="10.3">)</tspan></text>
<clipPath id="cb"><rect x="90.0" y="480.5" width="929.7" height="330.8"/></clipPath>
<text x="90.0" y="839.3" font-size="20" text-anchor="middle">5</text>
<text x="256.8" y="839.3" font-size="20" text-anchor="middle">10</text>
<text x="423.5" y="839.3" font-size="20" text-anchor="middle">15</text>
<text x="590.2" y="839.3" font-size="20" text-anchor="middle">20</text>
<text x="757.0" y="839.3" font-size="20" text-anchor="middle">25</text>
<text x="923.8" y="839.3" font-size="20" text-anchor="middle">30</text>
<text x="77.0" y="788.4" font-size="20" text-anchor="end">4</text>
<text x="77.0" y="728.3" font-size="20" text-anchor="end">6</text>
<text x="77.0" y="668.1" font-size="20" text-anchor="end">8</text>
<text x="77.0" y="608.0" font-size="20" text-anchor="end">10</text>
<text x="77.0" y="547.8" font-size="20" text-anchor="end">12</text>
<text x="77.0" y="487.7" font-size="20" text-anchor="end">14</text>
<path d="M90.0 811.3 v-7 M90.0 480.5 v7 M256.8 811.3 v-7 M256.8 480.5 v7 M423.5 811.3 v-7 M423.5 480.5 v7 M590.2 811.3 v-7 M590.2 480.5 v7 M757.0 811.3 v-7 M757.0 480.5 v7 M923.8 811.3 v-7 M923.8 480.5 v7 M90.0 781.2 h7 M1019.7 781.2 h-7 M90.0 721.1 h7 M1019.7 721.1 h-7 M90.0 660.9 h7 M1019.7 660.9 h-7 M90.0 600.8 h7 M1019.7 600.8 h-7 M90.0 540.6 h7 M1019.7 540.6 h-7 M90.0 480.5 h7 M1019.7 480.5 h-7" stroke="#000" stroke-width="1.2" fill="none"/>
<rect x="478.8" y="667.5" width="244.0" height="101.5" fill="#fff" stroke="#000" stroke-width="3"/>
<g clip-path="url(#cb)" fill="none" stroke-linejoin="round">
<line x1="90.0" y1="781.2" x2="225.0" y2="781.2" stroke="#9400d3" stroke-width="2.2"/><polygon points="90.0,781.2 103.8,776.2 103.8,786.2" fill="#9400d3"/><polygon points="225.0,781.2 211.2,776.2 211.2,786.2" fill="#9400d3"/>
<line x1="225.0" y1="781.2" x2="497.0" y2="781.2" stroke="#9400d3" stroke-width="2.2"/><polygon points="225.0,781.2 238.8,776.2 238.8,786.2" fill="#9400d3"/><polygon points="497.0,781.2 483.2,776.2 483.2,786.2" fill="#9400d3"/>
<line x1="497.0" y1="781.2" x2="686.2" y2="781.2" stroke="#9400d3" stroke-width="2.2"/><polygon points="497.0,781.2 510.8,776.2 510.8,786.2" fill="#9400d3"/><polygon points="686.2,781.2 672.5,776.2 672.5,786.2" fill="#9400d3"/>
<line x1="686.2" y1="781.2" x2="823.2" y2="781.2" stroke="#9400d3" stroke-width="2.2"/><polygon points="686.2,781.2 700.0,776.2 700.0,786.2" fill="#9400d3"/><polygon points="823.2,781.2 809.5,776.2 809.5,786.2" fill="#9400d3"/>
<line x1="823.2" y1="781.2" x2="1019.2" y2="781.2" stroke="#9400d3" stroke-width="2.2"/><polygon points="823.2,781.2 837.0,776.2 837.0,786.2" fill="#9400d3"/><polygon points="1019.2,781.2 1005.4,776.2 1005.4,786.2" fill="#9400d3"/>
<path d="M90.5 616.0 L90.9 616.1 L91.3 616.3 L91.8 616.5 L92.2 616.9 L92.6 617.4 L93.0 617.9 L93.4 618.4 L93.8 618.8 L94.2 619.2 L94.7 619.5 L95.1 619.7 L95.5 619.8 L95.9 619.6 L96.3 619.1 L96.8 618.3 L97.2 617.1 L97.6 615.7 L98.0 614.1 L98.4 612.2 L98.8 610.2 L99.2 608.1 L99.7 605.9 L100.1 603.6 L100.5 601.4 L100.9 599.3 L101.3 597.2 L101.8 595.4 L102.2 593.8 L102.6 592.4 L103.0 591.2 L103.4 590.4 L103.8 589.9 L104.2 589.8 L104.7 589.8 L105.1 590.1 L105.5 590.5 L105.9 591.0 L106.3 591.7 L106.7 592.6 L107.1 593.5 L107.5 594.6 L107.9 595.8 L108.3 597.1 L108.7 598.5 L109.1 599.9 L109.5 601.5 L109.9 603.0 L110.3 604.6 L110.7 606.2 L111.1 607.7 L111.5 609.3 L111.9 610.8 L112.3 612.3 L112.7 613.6 L113.1 614.9 L113.5 616.1 L113.9 617.2 L114.3 618.2 L114.7 619.0 L115.1 619.7 L115.5 620.3 L115.9 620.7 L116.3 620.9 L116.8 621.0 L117.2 620.8 L117.6 620.2 L118.0 619.1 L118.4 617.7 L118.8 616.0 L119.2 613.9 L119.6 611.6 L120.0 609.2 L120.5 606.6 L120.9 603.9 L121.3 601.2 L121.7 598.6 L122.1 596.1 L122.5 593.8 L122.9 591.8 L123.3 590.0 L123.8 588.6 L124.2 587.6 L124.6 587.0 L125.0 586.8 L125.4 586.9 L125.8 587.2 L126.2 587.7 L126.6 588.4 L127.0 589.4 L127.4 590.5 L127.8 591.8 L128.2 593.2 L128.6 594.8 L129.1 596.5 L129.5 598.3 L129.9 600.2 L130.3 602.2 L130.7 604.1 L131.1 606.1 L131.5 608.1 L131.9 610.0 L132.3 611.9 L132.7 613.7 L133.1 615.4 L133.5 617.0 L133.9 618.5 L134.3 619.8 L134.7 620.9 L135.1 621.8 L135.5 622.5 L135.9 623.1 L136.3 623.4 L136.8 623.5 L137.2 623.3 L137.6 622.7 L138.0 621.8 L138.4 620.5 L138.8 618.9 L139.2 617.1 L139.6 615.0 L140.1 612.7 L140.5 610.3 L140.9 607.9 L141.3 605.4 L141.7 603.0 L142.1 600.8 L142.5 598.7 L142.9 596.8 L143.3 595.2 L143.8 594.0 L144.2 593.0 L144.6 592.4 L145.0 592.2 L145.4 592.5 L145.8 593.3 L146.2 594.4 L146.7 595.4 L147.1 596.2 L147.5 596.5 L148.0 596.2 L148.5 595.8 L149.0 595.5 L149.4 595.7 L149.8 596.3 L150.2 597.3 L150.6 598.6 L151.0 600.2 L151.4 602.1 L151.9 604.3 L152.3 606.5 L152.7 608.9 L153.1 611.3 L153.5 613.7 L153.9 616.0 L154.3 618.1 L154.7 620.0 L155.1 621.7 L155.5 623.0 L155.9 624.0 L156.3 624.6 L156.8 624.8 L157.2 624.6 L157.6 624.1 L158.0 623.2 L158.4 622.1 L158.8 620.7 L159.2 619.0 L159.6 617.1 L160.0 615.0 L160.4 612.7 L160.8 610.3 L161.2 607.9 L161.6 605.4 L162.0 602.9 L162.4 600.6 L162.8 598.3 L163.2 596.2 L163.6 594.3 L164.0 592.6 L164.4 591.1 L164.8 590.0 L165.2 589.2 L165.6 588.7 L166.0 588.5 L166.4 588.6 L166.8 589.0 L167.2 589.6 L167.7 590.5 L168.1 591.6 L168.5 592.8 L168.9 594.3 L169.3 596.0 L169.7 597.7 L170.1 599.6 L170.5 601.6 L171.0 603.7 L171.4 605.8 L171.8 607.8 L172.2 609.9 L172.6 611.9 L173.0 613.8 L173.4 615.5 L173.9 617.2 L174.3 618.7 L174.7 619.9 L175.1 621.0 L175.5 621.9 L175.9 622.5 L176.3 622.9 L176.8 623.0 L177.2 622.7 L177.6 621.9 L178.0 620.5 L178.4 618.7 L178.9 616.4 L179.3 613.9 L179.7 611.1 L180.1 608.2 L180.5 605.4 L181.0 602.6 L181.4 600.1 L181.8 597.8 L182.2 596.0 L182.7 594.6 L183.1 593.8 L183.5 593.5 L183.9 593.6 L184.3 593.8 L184.7 594.1 L185.1 594.6 L185.5 595.1 L185.9 595.8 L186.3 596.7 L186.7 597.6 L187.1 598.6 L187.5 599.7 L187.9 600.9 L188.3 602.1 L188.7 603.4 L189.1 604.8 L189.5 606.2 L189.9 607.5 L190.3 609.0 L190.7 610.3 L191.1 611.7 L191.5 613.1 L191.9 614.4 L192.3 615.6 L192.7 616.8 L193.1 617.9 L193.5 618.9 L193.9 619.8 L194.3 620.7 L194.7 621.4 L195.1 621.9 L195.5 622.4 L195.9 622.7 L196.3 622.9 L196.8 623.0 L197.2 622.8 L197.6 622.2 L197.9 621.3 L198.3 620.0 L198.8 618.4 L199.2 616.5 L199.6 614.4 L199.9 612.1 L200.3 609.7 L200.8 607.2 L201.2 604.8 L201.6 602.4 L201.9 600.1 L202.3 598.0 L202.8 596.1 L203.2 594.5 L203.6 593.2 L203.9 592.3 L204.3 591.7 L204.8 591.5 L205.2 591.6 L205.6 592.0 L206.0 592.7 L206.4 593.6 L206.8 594.8 L207.2 596.1 L207.6 597.7 L208.0 599.5 L208.4 601.4 L208.8 603.5 L209.2 605.7 L209.6 608.0 L210.0 610.4 L210.4 612.8 L210.8 615.1 L211.2 617.5 L211.6 619.8 L212.0 622.0 L212.4 624.1 L212.8 626.0 L213.2 627.8 L213.6 629.4 L214.0 630.7 L214.4 631.9 L214.8 632.8 L215.2 633.5 L215.6 633.9 L216.0 634.0 L216.4 633.8 L216.8 633.3 L217.2 632.4 L217.6 631.2 L218.1 629.7 L218.5 628.0 L218.9 626.1 L219.3 624.1 L219.7 622.1 L220.1 620.1 L220.5 618.3 L220.9 616.6 L221.4 615.1 L221.8 613.9 L222.2 613.0 L222.6 612.4 L223.0 612.2 L223.4 612.7 L223.8 614.0 L224.2 615.5 L224.6 616.8 L225.0 617.2 L225.4 616.2 L225.8 613.2 L226.2 608.2 L226.6 601.7 L227.0 593.7 L227.4 584.7 L227.8 575.1 L228.2 565.2 L228.6 555.6 L229.0 546.6 L229.4 538.6 L229.8 532.0 L230.2 527.1 L230.6 524.0 L231.0 523.0 L231.4 524.4 L231.8 528.6 L232.2 535.4 L232.6 544.6 L233.0 555.8 L233.4 568.5 L233.8 582.4 L234.2 596.8 L234.7 611.1 L235.1 625.0 L235.5 637.7 L235.9 648.9 L236.3 658.1 L236.7 664.9 L237.1 669.1 L237.5 670.5 L237.9 668.5 L238.3 662.7 L238.8 653.3 L239.2 641.0 L239.6 626.5 L240.0 610.5 L240.5 594.0 L240.9 578.0 L241.3 563.5 L241.7 551.2 L242.2 541.8 L242.6 536.0 L243.0 534.0 L243.4 535.7 L243.8 540.7 L244.2 548.8 L244.7 559.6 L245.1 572.8 L245.5 587.6 L245.9 603.4 L246.3 619.6 L246.8 635.4 L247.2 650.2 L247.6 663.4 L248.0 674.2 L248.4 682.3 L248.8 687.3 L249.2 689.0 L249.7 686.3 L250.1 678.2 L250.5 665.4 L250.9 648.8 L251.3 629.3 L251.8 608.5 L252.2 587.7 L252.6 568.2 L253.0 551.6 L253.4 538.8 L253.8 530.7 L254.2 528.0 L254.7 529.8 L255.1 534.9 L255.5 543.3 L255.9 554.6 L256.3 568.1 L256.8 583.5 L257.2 599.9 L257.6 616.6 L258.0 633.0 L258.4 648.4 L258.8 661.9 L259.2 673.2 L259.7 681.6 L260.1 686.7 L260.5 688.5 L260.9 686.2 L261.3 679.6 L261.8 668.9 L262.2 654.9 L262.6 638.3 L263.0 620.1 L263.5 601.4 L263.9 583.2 L264.3 566.6 L264.7 552.6 L265.2 541.9 L265.6 535.3 L266.0 533.0 L266.4 535.1 L266.8 541.4 L267.2 551.6 L267.6 565.1 L268.1 581.3 L268.5 599.3 L268.9 618.2 L269.3 637.2 L269.7 655.2 L270.1 671.4 L270.5 684.9 L270.9 695.1 L271.3 701.4 L271.8 703.5 L272.2 701.1 L272.6 693.9 L273.0 682.4 L273.4 667.3 L273.9 649.4 L274.3 629.8 L274.7 609.7 L275.1 590.1 L275.6 572.2 L276.0 557.1 L276.4 545.6 L276.8 538.4 L277.2 536.0 L277.7 537.9 L278.1 543.5 L278.5 552.6 L278.9 564.6 L279.3 579.0 L279.7 595.1 L280.1 612.0 L280.5 628.9 L280.9 645.0 L281.4 659.4 L281.8 671.4 L282.2 680.5 L282.6 686.1 L283.0 688.0 L283.4 685.8 L283.8 679.4 L284.2 669.2 L284.6 655.5 L285.1 639.1 L285.5 620.8 L285.9 601.6 L286.3 582.4 L286.7 564.1 L287.1 547.8 L287.5 534.1 L287.9 523.8 L288.3 517.4 L288.8 515.2 L289.1 517.2 L289.6 523.0 L289.9 532.3 L290.4 544.7 L290.8 559.8 L291.1 576.8 L291.6 595.1 L291.9 613.7 L292.4 631.9 L292.8 648.9 L293.1 664.0 L293.6 676.5 L293.9 685.8 L294.4 691.6 L294.8 693.5 L295.2 691.2 L295.6 684.4 L296.0 673.4 L296.4 658.8 L296.8 641.3 L297.2 621.9 L297.6 601.4 L298.0 580.9 L298.4 561.4 L298.9 543.9 L299.3 529.3 L299.7 518.4 L300.1 511.6 L300.5 509.2 L300.9 511.6 L301.3 518.6 L301.7 529.8 L302.1 544.6 L302.6 562.5 L303.0 582.3 L303.4 603.2 L303.8 624.2 L304.2 644.0 L304.6 661.9 L305.0 676.7 L305.4 687.9 L305.8 694.9 L306.2 697.2 L306.7 694.5 L307.1 686.5 L307.5 673.6 L307.9 656.6 L308.4 636.5 L308.8 614.5 L309.2 591.8 L309.6 569.7 L310.1 549.7 L310.5 532.7 L310.9 519.8 L311.3 511.7 L311.8 509.0 L312.2 510.9 L312.6 516.6 L313.0 525.9 L313.4 538.2 L313.8 553.1 L314.2 570.0 L314.7 588.0 L315.1 606.5 L315.5 624.5 L315.9 641.4 L316.3 656.3 L316.8 668.6 L317.2 677.9 L317.6 683.6 L318.0 685.5 L318.4 682.2 L318.8 672.5 L319.2 657.1 L319.7 637.1 L320.1 613.7 L320.5 588.6 L320.9 563.6 L321.3 540.2 L321.8 520.1 L322.2 504.7 L322.6 495.1 L323.0 491.8 L323.4 493.9 L323.8 500.4 L324.2 510.9 L324.7 524.9 L325.1 541.9 L325.5 561.0 L325.9 581.5 L326.3 602.5 L326.8 623.0 L327.2 642.1 L327.6 659.1 L328.0 673.1 L328.4 683.6 L328.8 690.1 L329.2 692.2 L329.7 689.6 L330.1 681.7 L330.5 669.0 L330.9 652.3 L331.4 632.6 L331.8 610.9 L332.2 588.6 L332.6 566.9 L333.1 547.2 L333.5 530.5 L333.9 517.8 L334.3 509.9 L334.8 507.2 L335.2 509.6 L335.6 516.5 L336.0 527.6 L336.4 542.4 L336.8 560.1 L337.2 579.8 L337.6 600.6 L338.0 621.4 L338.4 641.1 L338.9 658.8 L339.3 673.6 L339.7 684.8 L340.1 691.7 L340.5 694.0 L340.9 692.1 L341.3 686.4 L341.7 677.2 L342.1 664.8 L342.5 649.7 L342.9 632.5 L343.3 613.8 L343.8 594.4 L344.2 574.9 L344.6 556.3 L345.0 539.0 L345.4 523.9 L345.8 511.5 L346.2 502.3 L346.6 496.7 L347.0 494.8 L347.4 497.0 L347.8 503.5 L348.2 514.2 L348.7 528.4 L349.1 545.6 L349.5 565.0 L349.9 585.8 L350.3 607.0 L350.8 627.8 L351.2 647.2 L351.6 664.4 L352.0 678.6 L352.4 689.2 L352.8 695.8 L353.2 698.0 L353.7 695.3 L354.1 687.3 L354.5 674.5 L354.9 657.6 L355.3 637.7 L355.7 615.8 L356.1 593.2 L356.5 571.3 L356.9 551.4 L357.3 534.5 L357.7 521.7 L358.1 513.7 L358.5 511.0 L358.9 513.0 L359.3 519.0 L359.7 528.7 L360.1 541.6 L360.5 557.2 L360.9 574.9 L361.3 593.8 L361.7 613.2 L362.1 632.1 L362.5 649.8 L362.9 665.4 L363.3 678.3 L363.7 688.0 L364.1 694.0 L364.5 696.0 L364.9 693.5 L365.3 685.9 L365.7 673.9 L366.1 657.8 L366.6 638.5 L367.0 617.1 L367.4 594.5 L367.8 571.9 L368.2 550.5 L368.6 531.2 L369.0 515.1 L369.4 503.1 L369.8 495.5 L370.2 493.0 L370.7 495.2 L371.1 501.6 L371.5 512.1 L371.9 526.1 L372.3 543.0 L372.8 562.1 L373.2 582.5 L373.6 603.5 L374.0 623.9 L374.4 643.0 L374.8 659.9 L375.2 673.9 L375.7 684.4 L376.1 690.8 L376.5 693.0 L376.9 690.2 L377.3 682.1 L377.8 669.2 L378.2 652.1 L378.6 631.8 L379.0 609.7 L379.5 586.8 L379.9 564.7 L380.3 544.4 L380.7 527.3 L381.2 514.4 L381.6 506.3 L382.0 503.5 L382.4 505.3 L382.8 510.7 L383.2 519.3 L383.6 531.0 L384.0 545.3 L384.4 561.5 L384.8 579.2 L385.2 597.5 L385.7 615.8 L386.1 633.5 L386.5 649.7 L386.9 664.0 L387.3 675.7 L387.7 684.3 L388.1 689.7 L388.5 691.5 L388.9 687.8 L389.4 676.8 L389.8 659.6 L390.2 637.4 L390.7 612.2 L391.1 585.8 L391.5 560.6 L392.0 538.4 L392.4 521.2 L392.8 510.2 L393.2 506.5 L393.7 508.5 L394.1 514.4 L394.5 524.0 L394.9 537.0 L395.3 552.8 L395.7 570.8 L396.1 590.3 L396.5 610.6 L396.9 630.9 L397.3 650.5 L397.7 668.5 L398.1 684.3 L398.5 697.2 L398.9 706.8 L399.3 712.7 L399.8 714.8 L400.2 711.5 L400.6 702.1 L401.0 687.0 L401.4 667.4 L401.8 644.6 L402.2 620.1 L402.7 595.6 L403.1 572.8 L403.5 553.2 L403.9 538.2 L404.3 528.7 L404.8 525.5 L405.2 527.2 L405.6 532.2 L406.0 540.3 L406.4 551.2 L406.9 564.5 L407.3 579.7 L407.7 596.1 L408.1 613.2 L408.5 630.4 L409.0 646.8 L409.4 662.0 L409.8 675.3 L410.2 686.2 L410.7 694.3 L411.1 699.3 L411.5 701.0 L411.9 698.3 L412.3 690.4 L412.8 677.7 L413.2 661.0 L413.6 641.3 L414.0 619.6 L414.5 597.4 L414.9 575.7 L415.3 556.0 L415.7 539.3 L416.2 526.6 L416.6 518.7 L417.0 516.0 L417.4 517.8 L417.8 523.3 L418.2 532.1 L418.6 544.0 L419.0 558.5 L419.4 575.0 L419.8 593.0 L420.2 611.6 L420.7 630.3 L421.1 648.2 L421.5 664.8 L421.9 679.2 L422.3 691.1 L422.7 700.0 L423.1 705.4 L423.5 707.2 L423.9 704.8 L424.3 697.4 L424.8 685.6 L425.2 670.1 L425.6 651.7 L426.0 631.6 L426.5 610.9 L426.9 590.8 L427.3 572.4 L427.7 556.9 L428.2 545.1 L428.6 537.7 L429.0 535.2 L429.4 537.1 L429.8 542.6 L430.2 551.5 L430.7 563.4 L431.1 577.8 L431.5 594.1 L431.9 611.5 L432.3 629.3 L432.8 646.7 L433.2 662.9 L433.6 677.3 L434.0 689.2 L434.4 698.1 L434.8 703.6 L435.2 705.5 L435.7 701.9 L436.1 691.3 L436.5 674.5 L436.9 652.6 L437.3 627.1 L437.8 599.8 L438.2 572.4 L438.6 546.9 L439.0 525.0 L439.4 508.2 L439.8 497.6 L440.2 494.0 L440.7 496.2 L441.1 502.9 L441.5 513.7 L441.9 528.2 L442.4 545.8 L442.8 566.0 L443.2 587.9 L443.6 610.6 L444.0 633.4 L444.5 655.3 L444.9 675.4 L445.3 693.1 L445.7 707.6 L446.2 718.4 L446.6 725.0 L447.0 727.2 L447.4 724.5 L447.8 716.4 L448.2 703.4 L448.6 686.1 L449.1 665.3 L449.5 642.2 L449.9 617.9 L450.3 593.5 L450.7 570.4 L451.1 549.7 L451.5 532.4 L451.9 519.3 L452.3 511.2 L452.8 508.5 L453.2 510.7 L453.6 517.0 L454.0 527.3 L454.4 541.1 L454.8 557.8 L455.2 576.6 L455.7 596.7 L456.1 617.3 L456.5 637.4 L456.9 656.2 L457.3 672.9 L457.8 686.7 L458.2 697.0 L458.6 703.3 L459.0 705.5 L459.4 703.3 L459.8 696.7 L460.2 686.2 L460.7 672.0 L461.1 654.9 L461.5 635.5 L461.9 614.8 L462.3 593.7 L462.8 573.0 L463.2 553.6 L463.6 536.5 L464.0 522.3 L464.4 511.8 L464.8 505.2 L465.2 503.0 L465.7 504.9 L466.1 510.6 L466.5 519.8 L466.9 532.2 L467.4 547.3 L467.8 564.5 L468.2 583.2 L468.6 602.6 L469.0 622.1 L469.5 640.7 L469.9 658.0 L470.3 673.1 L470.7 685.5 L471.2 694.7 L471.6 700.3 L472.0 702.2 L472.4 700.7 L472.8 696.3 L473.2 689.0 L473.7 679.4 L474.1 667.7 L474.5 654.5 L474.9 640.4 L475.3 625.9 L475.8 611.8 L476.2 598.6 L476.6 586.9 L477.0 577.2 L477.4 570.0 L477.8 565.5 L478.2 564.0 L478.7 565.5 L479.1 569.8 L479.5 576.8 L479.9 586.1 L480.3 597.3 L480.7 609.7 L481.1 622.8 L481.5 635.8 L481.9 648.2 L482.4 659.4 L482.8 668.7 L483.2 675.7 L483.6 680.0 L484.0 681.5 L484.4 679.1 L484.8 671.9 L485.2 660.6 L485.7 645.8 L486.1 628.5 L486.5 610.0 L486.9 591.5 L487.3 574.2 L487.8 559.4 L488.2 548.1 L488.6 540.9 L489.0 538.5 L489.4 539.2 L489.8 541.4 L490.2 545.0 L490.6 549.8 L491.1 555.9 L491.5 563.0 L491.9 570.9 L492.3 579.5 L492.7 588.6 L493.1 597.9 L493.5 607.2 L493.9 616.2 L494.4 624.8 L494.8 632.8 L495.2 639.9 L495.6 645.9 L496.0 650.8 L496.4 654.3 L496.8 656.5 L497.2 657.2 L497.7 655.9 L498.1 652.0 L498.5 645.8 L498.9 637.5 L499.4 627.8 L499.8 617.1 L500.2 606.1 L500.6 595.4 L501.1 585.7 L501.5 577.5 L501.9 571.2 L502.3 567.3 L502.8 566.0 L503.2 566.4 L503.6 567.6 L504.0 569.7 L504.4 572.4 L504.8 575.8 L505.2 579.9 L505.7 584.4 L506.1 589.4 L506.5 594.7 L506.9 600.1 L507.3 605.6 L507.8 611.1 L508.2 616.3 L508.6 621.3 L509.0 625.9 L509.4 629.9 L509.8 633.3 L510.2 636.1 L510.7 638.1 L511.1 639.3 L511.5 639.8 L511.9 639.4 L512.3 638.4 L512.8 636.7 L513.2 634.4 L513.6 631.6 L514.0 628.2 L514.4 624.4 L514.8 620.3 L515.2 615.9 L515.7 611.4 L516.1 606.8 L516.5 602.3 L516.9 597.9 L517.3 593.8 L517.8 590.0 L518.2 586.7 L518.6 583.8 L519.0 581.5 L519.4 579.9 L519.8 578.8 L520.2 578.5 L520.7 578.8 L521.1 579.8 L521.5 581.5 L521.9 583.7 L522.3 586.5 L522.7 589.7 L523.1 593.4 L523.5 597.3 L524.0 601.5 L524.4 605.8 L524.8 610.0 L525.2 614.2 L525.6 618.1 L526.0 621.8 L526.4 625.0 L526.9 627.8 L527.3 630.0 L527.7 631.7 L528.1 632.7 L528.5 633.0 L528.9 632.7 L529.3 632.0 L529.7 630.7 L530.1 629.0 L530.5 626.9 L530.9 624.4 L531.3 621.6 L531.7 618.5 L532.1 615.2 L532.5 611.8 L533.0 608.4 L533.4 605.0 L533.8 601.8 L534.2 598.7 L534.6 595.9 L535.0 593.4 L535.4 591.2 L535.8 589.5 L536.2 588.3 L536.6 587.5 L537.0 587.2 L537.4 587.5 L537.8 588.1 L538.2 589.1 L538.6 590.5 L539.0 592.2 L539.5 594.3 L539.9 596.6 L540.3 599.2 L540.7 601.9 L541.1 604.7 L541.5 607.6 L541.9 610.5 L542.3 613.4 L542.7 616.1 L543.1 618.6 L543.5 621.0 L544.0 623.0 L544.4 624.8 L544.8 626.2 L545.2 627.2 L545.6 627.8 L546.0 628.0 L546.4 627.8 L546.8 627.3 L547.2 626.5 L547.6 625.4 L548.0 624.0 L548.4 622.3 L548.8 620.4 L549.2 618.3 L549.6 615.9 L550.0 613.5 L550.4 610.9 L550.8 608.3 L551.2 605.7 L551.6 603.1 L552.0 600.5 L552.4 598.1 L552.8 595.7 L553.2 593.6 L553.6 591.7 L554.0 590.0 L554.4 588.6 L554.8 587.5 L555.2 586.7 L555.6 586.2 L556.0 586.0 L556.4 586.2 L556.8 586.6 L557.2 587.4 L557.6 588.4 L558.0 589.8 L558.4 591.3 L558.8 593.2 L559.2 595.2 L559.6 597.4 L560.0 599.7 L560.4 602.2 L560.8 604.7 L561.2 607.2 L561.7 609.8 L562.1 612.3 L562.5 614.8 L562.9 617.1 L563.3 619.3 L563.7 621.3 L564.1 623.2 L564.5 624.7 L564.9 626.1 L565.3 627.1 L565.7 627.9 L566.1 628.3 L566.5 628.5 L566.9 628.2 L567.3 627.3 L567.8 625.9 L568.2 624.0 L568.6 621.6 L569.0 618.8 L569.4 615.8 L569.8 612.5 L570.2 609.1 L570.7 605.8 L571.1 602.5 L571.5 599.4 L571.9 596.7 L572.3 594.3 L572.8 592.3 L573.2 590.9 L573.6 590.0 L574.0 589.8 L574.4 589.9 L574.8 590.3 L575.2 590.9 L575.6 591.8 L576.0 593.0 L576.4 594.3 L576.8 595.9 L577.2 597.6 L577.6 599.4 L578.0 601.4 L578.4 603.5 L578.8 605.6 L579.2 607.7 L579.6 609.8 L580.0 611.8 L580.4 613.8 L580.8 615.7 L581.2 617.4 L581.6 618.9 L582.0 620.3 L582.4 621.4 L582.8 622.3 L583.2 623.0 L583.6 623.4 L584.0 623.5 L584.4 623.4 L584.8 623.0 L585.2 622.3 L585.6 621.5 L586.0 620.3 L586.4 619.0 L586.8 617.5 L587.2 615.8 L587.6 614.0 L588.0 612.1 L588.4 610.1 L588.8 608.0 L589.2 606.0 L589.6 603.9 L590.0 601.9 L590.4 600.0 L590.8 598.2 L591.2 596.5 L591.6 595.0 L592.0 593.7 L592.4 592.5 L592.8 591.7 L593.2 591.0 L593.6 590.6 L594.0 590.5 L594.4 590.6 L594.8 591.0 L595.2 591.7 L595.6 592.5 L596.0 593.6 L596.4 595.0 L596.8 596.5 L597.2 598.2 L597.6 600.0 L598.0 602.0 L598.4 604.0 L598.8 606.1 L599.2 608.2 L599.7 610.4 L600.1 612.5 L600.5 614.5 L600.9 616.5 L601.3 618.3 L601.7 620.0 L602.1 621.5 L602.5 622.9 L602.9 624.0 L603.3 624.8 L603.7 625.5 L604.1 625.9 L604.5 626.0 L604.9 625.9 L605.3 625.5 L605.7 624.8 L606.1 623.9 L606.5 622.8 L606.9 621.4 L607.3 619.9 L607.7 618.2 L608.1 616.3 L608.5 614.3 L608.9 612.3 L609.3 610.2 L609.7 608.1 L610.1 606.0 L610.5 603.9 L610.9 601.9 L611.3 600.1 L611.7 598.4 L612.1 596.8 L612.5 595.5 L612.9 594.3 L613.3 593.4 L613.7 592.8 L614.1 592.4 L614.5 592.2 L614.9 592.4 L615.3 592.7 L615.7 593.3 L616.1 594.1 L616.5 595.1 L616.9 596.3 L617.3 597.7 L617.7 599.2 L618.1 600.9 L618.5 602.6 L618.9 604.4 L619.3 606.3 L619.7 608.2 L620.1 610.1 L620.5 611.9 L620.9 613.6 L621.3 615.3 L621.7 616.8 L622.1 618.2 L622.5 619.4 L622.9 620.4 L623.3 621.2 L623.7 621.8 L624.1 622.1 L624.5 622.2 L624.9 622.1 L625.3 621.6 L625.7 620.9 L626.1 619.9 L626.5 618.6 L626.9 617.1 L627.3 615.4 L627.7 613.5 L628.1 611.4 L628.5 609.3 L628.9 607.1 L629.3 604.9 L629.7 602.7 L630.1 600.6 L630.5 598.5 L630.9 596.6 L631.3 594.9 L631.7 593.4 L632.1 592.1 L632.5 591.1 L632.9 590.4 L633.3 589.9 L633.8 589.8 L634.1 589.9 L634.5 590.3 L635.0 591.0 L635.4 592.0 L635.8 593.2 L636.1 594.7 L636.5 596.3 L637.0 598.2 L637.4 600.2 L637.8 602.3 L638.1 604.5 L638.5 606.7 L639.0 609.0 L639.4 611.3 L639.8 613.5 L640.1 615.6 L640.5 617.6 L641.0 619.4 L641.4 621.1 L641.8 622.5 L642.1 623.8 L642.5 624.7 L643.0 625.4 L643.4 625.9 L643.8 626.0 L644.2 625.8 L644.6 625.2 L645.0 624.1 L645.4 622.7 L645.8 621.0 L646.2 618.9 L646.7 616.6 L647.1 614.1 L647.5 611.4 L647.9 608.7 L648.3 605.8 L648.8 603.1 L649.2 600.4 L649.6 597.9 L650.0 595.6 L650.4 593.5 L650.8 591.8 L651.2 590.4 L651.7 589.3 L652.1 588.7 L652.5 588.5 L652.9 588.7 L653.3 589.4 L653.8 590.4 L654.2 591.9 L654.6 593.7 L655.0 595.8 L655.4 598.2 L655.8 600.8 L656.2 603.6 L656.7 606.4 L657.1 609.3 L657.5 612.2 L657.9 615.0 L658.3 617.6 L658.8 620.0 L659.2 622.1 L659.6 623.9 L660.0 625.3 L660.4 626.4 L660.8 627.0 L661.2 627.2 L661.7 627.0 L662.1 626.4 L662.5 625.5 L662.9 624.1 L663.3 622.4 L663.8 620.4 L664.2 618.2 L664.6 615.7 L665.0 613.2 L665.4 610.5 L665.8 607.8 L666.2 605.1 L666.7 602.5 L667.1 600.1 L667.5 597.8 L667.9 595.8 L668.3 594.1 L668.8 592.8 L669.2 591.8 L669.6 591.2 L670.0 591.0 L670.4 591.2 L670.8 591.8 L671.2 592.8 L671.6 594.1 L672.0 595.8 L672.4 597.8 L672.8 600.1 L673.2 602.6 L673.6 605.3 L674.0 608.1 L674.4 611.0 L674.8 614.0 L675.2 616.9 L675.6 619.7 L676.0 622.4 L676.4 624.9 L676.8 627.2 L677.2 629.2 L677.6 630.9 L678.0 632.2 L678.4 633.2 L678.8 633.8 L679.2 634.0 L679.7 633.6 L680.1 632.6 L680.5 631.0 L680.9 628.8 L681.3 626.2 L681.7 623.3 L682.1 620.4 L682.5 617.6 L682.9 615.0 L683.3 612.8 L683.7 611.1 L684.1 610.1 L684.5 609.8 L684.9 610.3 L685.3 611.7 L685.7 613.5 L686.1 615.0 L686.5 615.5 L686.9 613.8 L687.4 608.8 L687.8 601.0 L688.2 590.9 L688.7 579.5 L689.1 567.5 L689.5 556.1 L690.0 546.0 L690.4 538.2 L690.8 533.2 L691.2 531.5 L691.7 533.1 L692.1 537.9 L692.5 545.6 L692.9 555.8 L693.3 568.0 L693.7 581.6 L694.1 596.0 L694.5 610.4 L694.9 624.0 L695.4 636.2 L695.8 646.4 L696.2 654.1 L696.6 658.9 L697.0 660.5 L697.4 658.3 L697.8 651.7 L698.3 641.1 L698.7 627.2 L699.1 610.8 L699.5 592.8 L700.0 574.2 L700.4 556.2 L700.8 539.8 L701.2 525.9 L701.7 515.3 L702.1 508.7 L702.5 506.5 L702.9 509.2 L703.3 517.0 L703.8 529.4 L704.2 545.9 L704.6 565.4 L705.0 586.8 L705.5 608.7 L705.9 630.1 L706.3 649.6 L706.7 666.1 L707.2 678.5 L707.6 686.3 L708.0 689.0 L708.4 686.8 L708.8 680.4 L709.2 670.1 L709.6 656.4 L710.1 640.0 L710.5 621.7 L710.9 602.5 L711.3 583.3 L711.7 565.0 L712.1 548.6 L712.5 534.9 L712.9 524.6 L713.3 518.2 L713.8 516.0 L714.2 518.4 L714.6 525.6 L715.0 537.1 L715.4 552.3 L715.9 570.2 L716.3 589.9 L716.7 610.1 L717.1 629.8 L717.6 647.7 L718.0 662.9 L718.4 674.4 L718.8 681.6 L719.2 684.0 L719.7 681.4 L720.1 673.8 L720.5 661.5 L720.9 645.4 L721.3 626.3 L721.7 605.4 L722.1 583.9 L722.5 562.9 L722.9 543.9 L723.3 527.7 L723.7 515.5 L724.1 507.8 L724.5 505.2 L724.9 507.9 L725.3 515.7 L725.8 528.2 L726.2 544.7 L726.6 564.2 L727.0 585.6 L727.5 607.6 L727.9 629.0 L728.3 648.5 L728.7 665.0 L729.2 677.5 L729.6 685.3 L730.0 688.0 L730.4 686.2 L730.8 681.1 L731.2 672.6 L731.7 661.4 L732.1 647.8 L732.5 632.5 L732.9 616.0 L733.3 599.2 L733.8 582.8 L734.2 567.4 L734.6 553.8 L735.0 542.6 L735.4 534.2 L735.8 529.0 L736.2 527.2 L736.7 529.3 L737.1 535.5 L737.5 545.3 L737.9 558.5 L738.3 574.2 L738.7 591.7 L739.1 610.1 L739.5 628.6 L739.9 646.1 L740.4 661.8 L740.8 674.9 L741.2 684.8 L741.6 690.9 L742.0 693.0 L742.4 690.0 L742.8 681.4 L743.2 667.6 L743.7 649.6 L744.1 628.6 L744.5 606.1 L744.9 583.6 L745.3 562.7 L745.8 544.7 L746.2 530.9 L746.6 522.2 L747.0 519.2 L747.4 521.2 L747.8 527.1 L748.2 536.5 L748.6 549.1 L749.0 564.4 L749.4 581.6 L749.8 600.1 L750.2 618.9 L750.6 637.4 L751.0 654.6 L751.4 669.9 L751.8 682.5 L752.2 691.9 L752.6 697.8 L753.0 699.8 L753.4 697.1 L753.8 689.2 L754.2 676.7 L754.7 660.4 L755.1 641.4 L755.5 621.0 L755.9 600.6 L756.3 581.6 L756.8 565.3 L757.2 552.8 L757.6 544.9 L758.0 542.2 L758.4 544.3 L758.8 550.3 L759.2 560.1 L759.6 573.0 L760.1 588.5 L760.5 605.7 L760.9 623.9 L761.3 642.0 L761.7 659.3 L762.1 674.8 L762.5 687.7 L762.9 697.4 L763.3 703.5 L763.8 705.5 L764.2 702.8 L764.6 695.0 L765.0 682.4 L765.4 665.8 L765.9 646.1 L766.3 624.6 L766.7 602.4 L767.1 580.9 L767.6 561.2 L768.0 544.6 L768.4 532.0 L768.8 524.2 L769.2 521.5 L769.7 524.0 L770.1 531.4 L770.5 543.4 L770.9 559.3 L771.3 578.3 L771.7 599.5 L772.1 621.9 L772.5 644.2 L772.9 665.4 L773.4 684.5 L773.8 700.4 L774.2 712.3 L774.6 719.7 L775.0 722.2 L775.4 719.6 L775.8 711.7 L776.3 699.0 L776.7 682.3 L777.1 662.6 L777.5 640.9 L778.0 618.6 L778.4 596.9 L778.8 577.2 L779.2 560.5 L779.7 547.8 L780.1 539.9 L780.5 537.2 L780.9 538.8 L781.3 543.6 L781.7 551.3 L782.1 561.7 L782.6 574.4 L783.0 589.1 L783.4 605.2 L783.8 622.1 L784.2 639.4 L784.6 656.3 L785.0 672.4 L785.4 687.1 L785.9 699.8 L786.3 710.2 L786.7 717.9 L787.1 722.7 L787.5 724.2 L787.9 721.0 L788.3 711.4 L788.8 696.1 L789.2 676.2 L789.6 653.1 L790.0 628.2 L790.4 603.4 L790.8 580.2 L791.2 560.4 L791.7 545.1 L792.1 535.5 L792.5 532.2 L792.9 534.2 L793.3 540.1 L793.7 549.6 L794.1 562.2 L794.6 577.3 L795.0 594.2 L795.4 611.9 L795.8 629.6 L796.2 646.4 L796.6 661.5 L797.0 674.1 L797.4 683.6 L797.8 689.5 L798.2 691.5 L798.7 688.6 L799.1 680.0 L799.5 666.5 L800.0 649.2 L800.4 629.4 L800.8 608.8 L801.3 589.1 L801.7 571.7 L802.1 558.2 L802.6 549.7 L803.0 546.8 L803.4 547.7 L803.8 550.6 L804.2 555.4 L804.6 561.8 L805.1 569.7 L805.5 578.8 L805.9 588.7 L806.3 599.2 L806.7 609.8 L807.1 620.3 L807.5 630.2 L807.9 639.3 L808.4 647.2 L808.8 653.6 L809.2 658.4 L809.6 661.3 L810.0 662.2 L810.4 661.1 L810.8 657.8 L811.2 652.5 L811.7 645.4 L812.1 636.8 L812.5 627.0 L812.9 616.6 L813.3 605.9 L813.8 595.5 L814.2 585.8 L814.6 577.1 L815.0 570.0 L815.4 564.7 L815.8 561.4 L816.2 560.2 L816.7 560.9 L817.1 563.0 L817.5 566.2 L817.9 570.7 L818.3 576.1 L818.7 582.4 L819.1 589.3 L819.5 596.6 L820.0 603.9 L820.4 611.2 L820.8 618.1 L821.2 624.4 L821.6 629.8 L822.0 634.3 L822.4 637.5 L822.8 639.6 L823.2 640.2 L823.6 639.8 L824.0 638.7 L824.5 636.7 L824.9 634.0 L825.2 630.7 L825.6 626.9 L826.0 622.5 L826.5 617.8 L826.9 612.8 L827.2 607.8 L827.6 602.7 L828.0 597.7 L828.5 593.0 L828.9 588.6 L829.2 584.8 L829.6 581.5 L830.0 578.8 L830.5 576.8 L830.9 575.7 L831.2 575.2 L831.6 575.6 L832.0 576.7 L832.5 578.5 L832.9 581.0 L833.2 584.1 L833.6 587.7 L834.0 591.7 L834.5 596.1 L834.9 600.7 L835.2 605.4 L835.6 610.1 L836.0 614.7 L836.5 619.1 L836.9 623.1 L837.2 626.7 L837.6 629.7 L838.0 632.2 L838.5 634.0 L838.9 635.1 L839.2 635.5 L839.6 635.3 L840.0 634.7 L840.5 633.7 L840.9 632.4 L841.2 630.7 L841.6 628.6 L842.0 626.3 L842.5 623.7 L842.9 620.9 L843.2 618.0 L843.6 614.9 L844.0 611.7 L844.5 608.5 L844.9 605.4 L845.2 602.3 L845.6 599.3 L846.0 596.5 L846.5 594.0 L846.9 591.6 L847.2 589.6 L847.6 587.9 L848.0 586.5 L848.5 585.5 L848.9 585.0 L849.2 584.8 L849.7 585.1 L850.1 586.0 L850.5 587.6 L850.9 589.7 L851.3 592.3 L851.8 595.4 L852.2 598.7 L852.6 602.3 L853.0 606.0 L853.4 609.7 L853.8 613.3 L854.2 616.6 L854.7 619.7 L855.1 622.3 L855.5 624.4 L855.9 626.0 L856.3 626.9 L856.8 627.2 L857.2 627.1 L857.6 626.7 L858.0 626.0 L858.4 625.0 L858.8 623.8 L859.2 622.3 L859.6 620.6 L860.0 618.7 L860.4 616.7 L860.8 614.5 L861.2 612.2 L861.6 609.9 L862.0 607.5 L862.4 605.1 L862.8 602.8 L863.2 600.5 L863.6 598.3 L864.0 596.3 L864.4 594.4 L864.8 592.7 L865.2 591.2 L865.6 590.0 L866.0 589.0 L866.4 588.3 L866.8 587.9 L867.2 587.8 L867.7 588.0 L868.1 588.6 L868.5 589.6 L868.9 591.1 L869.3 592.9 L869.8 595.0 L870.2 597.3 L870.6 599.9 L871.0 602.6 L871.4 605.4 L871.8 608.3 L872.2 611.1 L872.7 613.9 L873.1 616.4 L873.5 618.8 L873.9 620.9 L874.3 622.7 L874.8 624.1 L875.2 625.2 L875.6 625.8 L876.0 626.0 L876.4 625.7 L876.8 624.8 L877.2 623.4 L877.7 621.5 L878.1 619.2 L878.5 616.4 L878.9 613.4 L879.3 610.2 L879.8 606.9 L880.2 603.6 L880.6 600.3 L881.0 597.3 L881.4 594.6 L881.8 592.2 L882.2 590.3 L882.7 588.9 L883.1 588.0 L883.5 587.8 L883.9 588.0 L884.3 588.7 L884.8 589.6 L885.2 590.6 L885.6 591.2 L886.0 591.5 L886.5 591.2 L887.0 590.8 L887.5 590.5 L887.9 590.7 L888.3 591.4 L888.7 592.4 L889.1 593.8 L889.5 595.6 L889.9 597.7 L890.3 600.0 L890.7 602.5 L891.1 605.2 L891.5 607.9 L891.9 610.6 L892.3 613.2 L892.7 615.8 L893.1 618.1 L893.5 620.2 L893.9 621.9 L894.3 623.4 L894.7 624.4 L895.1 625.0 L895.5 625.2 L895.9 625.1 L896.3 624.6 L896.7 623.8 L897.2 622.7 L897.6 621.4 L898.0 619.7 L898.4 617.9 L898.8 615.9 L899.2 613.7 L899.6 611.4 L900.0 609.1 L900.5 606.7 L900.9 604.3 L901.3 602.1 L901.7 599.9 L902.1 597.9 L902.5 596.0 L902.9 594.4 L903.3 593.0 L903.8 591.9 L904.2 591.1 L904.6 590.7 L905.0 590.5 L905.4 590.7 L905.8 591.4 L906.2 592.4 L906.6 593.8 L907.0 595.6 L907.4 597.7 L907.8 600.0 L908.2 602.5 L908.6 605.2 L909.0 607.9 L909.4 610.6 L909.8 613.2 L910.2 615.8 L910.6 618.1 L911.0 620.2 L911.4 621.9 L911.8 623.4 L912.2 624.4 L912.6 625.0 L913.0 625.2 L913.4 625.0 L913.8 624.4 L914.2 623.5 L914.6 622.1 L915.1 620.4 L915.5 618.4 L915.9 616.2 L916.3 613.8 L916.7 611.3 L917.1 608.8 L917.5 606.2 L918.0 603.7 L918.4 601.3 L918.8 599.1 L919.2 597.1 L919.6 595.4 L920.0 594.0 L920.4 593.1 L920.8 592.5 L921.2 592.2 L921.7 592.3 L922.1 592.6 L922.5 593.1 L922.9 593.7 L923.3 594.5 L923.7 595.5 L924.1 596.6 L924.5 597.8 L924.9 599.2 L925.3 600.7 L925.7 602.2 L926.1 603.9 L926.5 605.6 L926.9 607.3 L927.3 609.0 L927.7 610.7 L928.1 612.4 L928.5 614.0 L928.9 615.6 L929.4 617.0 L929.8 618.4 L930.2 619.7 L930.6 620.8 L931.0 621.7 L931.4 622.5 L931.8 623.2 L932.2 623.6 L932.6 623.9 L933.0 624.0 L933.4 623.9 L933.8 623.5 L934.2 623.0 L934.6 622.2 L935.0 621.2 L935.4 620.0 L935.8 618.7 L936.2 617.1 L936.6 615.5 L937.0 613.8 L937.4 611.9 L937.8 610.0 L938.2 608.1 L938.7 606.2 L939.1 604.3 L939.5 602.5 L939.9 600.7 L940.3 599.1 L940.7 597.6 L941.1 596.2 L941.5 595.1 L941.9 594.1 L942.3 593.3 L942.7 592.7 L943.1 592.4 L943.5 592.2 L943.9 592.4 L944.3 592.7 L944.7 593.4 L945.1 594.2 L945.5 595.3 L945.9 596.6 L946.3 598.0 L946.7 599.6 L947.1 601.4 L947.5 603.2 L947.9 605.2 L948.3 607.1 L948.7 609.1 L949.1 611.1 L949.5 613.0 L949.9 614.9 L950.3 616.6 L950.7 618.2 L951.1 619.7 L951.5 621.0 L951.9 622.0 L952.3 622.9 L952.7 623.5 L953.1 623.9 L953.5 624.0 L953.9 623.7 L954.3 622.7 L954.7 621.1 L955.1 618.9 L955.5 616.3 L955.9 613.3 L956.3 610.0 L956.8 606.6 L957.2 603.2 L957.6 600.0 L958.0 597.0 L958.4 594.3 L958.8 592.2 L959.2 590.6 L959.6 589.6 L960.0 589.2 L960.4 589.3 L960.8 589.5 L961.2 589.8 L961.6 590.3 L962.0 590.8 L962.4 591.5 L962.9 592.3 L963.3 593.2 L963.7 594.2 L964.1 595.2 L964.5 596.4 L964.9 597.6 L965.3 598.9 L965.7 600.2 L966.1 601.6 L966.5 603.0 L966.9 604.4 L967.3 605.8 L967.7 607.3 L968.1 608.7 L968.5 610.0 L969.0 611.4 L969.4 612.6 L969.8 613.9 L970.2 615.0 L970.6 616.1 L971.0 617.1 L971.4 618.0 L971.8 618.8 L972.2 619.4 L972.6 620.0 L973.0 620.4 L973.4 620.7 L973.8 620.9 L974.2 621.0 L974.7 620.9 L975.1 620.5 L975.5 620.0 L975.9 619.2 L976.3 618.2 L976.7 617.0 L977.1 615.7 L977.5 614.3 L977.9 612.7 L978.3 611.0 L978.7 609.4 L979.1 607.6 L979.5 606.0 L979.9 604.3 L980.3 602.7 L980.7 601.3 L981.1 600.0 L981.5 598.8 L981.9 597.8 L982.3 597.0 L982.7 596.5 L983.1 596.1 L983.5 596.0 L983.9 596.1 L984.3 596.2 L984.7 596.5 L985.2 596.9 L985.6 597.4 L986.0 598.0 L986.4 598.7 L986.8 599.5 L987.2 600.3 L987.6 601.2 L988.0 602.2 L988.5 603.1 L988.9 604.1 L989.3 605.1 L989.7 606.1 L990.1 607.0 L990.5 607.9 L990.9 608.7 L991.4 609.5 L991.8 610.2 L992.2 610.8 L992.6 611.3 L993.0 611.7 L993.4 612.0 L993.8 612.2 L994.2 612.2 L994.7 611.3 L995.1 609.1 L995.6 606.9 L996.0 606.0" stroke="#000" stroke-width="1.1"/>
<path d="M90.0 607.8 L256.8 607.8 L256.8 612.2 L423.5 612.2 L423.5 612.2 L506.9 612.2 L506.9 610.5 L590.2 610.5 L590.2 609.2 L757.0 609.2 L757.0 612.2 L923.8 612.2 L923.8 607.8 L1019.7 607.8" stroke="#f00" stroke-width="3"/>
<path d="M90.5 614.8 L91.3 614.5 L92.1 614.1 L92.9 613.7 L93.7 613.2 L94.5 612.7 L95.3 612.3 L96.1 611.8 L96.9 611.4 L97.7 611.1 L98.5 610.9 L99.3 610.7 L100.1 610.5 L100.9 610.2 L101.7 610.0 L102.5 609.8 L103.3 609.6 L104.1 609.5 L104.9 609.4 L105.7 609.4 L106.5 609.4 L107.3 609.3 L108.1 609.2 L108.9 609.1 L109.7 608.9 L110.5 608.7 L111.3 608.5 L112.1 608.4 L112.9 608.4 L113.7 608.5 L114.5 608.6 L115.3 608.9 L116.1 609.1 L116.9 609.4 L117.7 609.7 L118.5 609.9 L119.3 610.0 L120.1 610.1 L120.9 610.0 L121.7 609.9 L122.5 609.8 L123.3 609.7 L124.1 609.6 L124.9 609.5 L125.7 609.4 L126.5 609.3 L127.3 609.2 L128.1 609.1 L128.9 609.0 L129.7 608.9 L130.5 608.8 L131.3 608.7 L132.1 608.6 L132.9 608.6 L133.7 608.6 L134.5 608.6 L135.3 608.6 L136.1 608.7 L136.9 608.8 L137.7 608.8 L138.5 608.9 L139.3 609.0 L140.1 609.1 L140.9 609.2 L141.7 609.3 L142.5 609.3 L143.3 609.4 L144.1 609.4 L144.9 609.4 L145.7 609.4 L146.5 609.3 L147.3 609.3 L148.1 609.2 L148.9 609.1 L149.7 609.1 L150.5 609.0 L151.3 608.9 L152.1 608.9 L152.9 608.8 L153.7 608.8 L154.5 608.9 L155.3 608.9 L156.1 609.0 L156.9 609.0 L157.7 609.1 L158.5 609.2 L159.3 609.3 L160.1 609.4 L160.9 609.4 L161.7 609.5 L162.5 609.5 L163.3 609.6 L164.1 609.6 L164.9 609.6 L165.7 609.5 L166.5 609.5 L167.3 609.4 L168.1 609.3 L168.9 609.2 L169.7 609.2 L170.5 609.1 L171.3 609.0 L172.1 609.0 L172.9 609.0 L173.7 609.0 L174.5 609.0 L175.3 609.1 L176.1 609.1 L176.9 609.2 L177.7 609.3 L178.5 609.4 L179.3 609.5 L180.1 609.6 L180.9 609.7 L181.7 609.7 L182.5 609.7 L183.3 609.7 L184.1 609.7 L184.9 609.7 L185.7 609.7 L186.5 609.6 L187.3 609.5 L188.1 609.5 L188.9 609.4 L189.7 609.3 L190.5 609.3 L191.3 609.2 L192.1 609.2 L192.9 609.2 L193.7 609.2 L194.5 609.3 L195.3 609.3 L196.1 609.4 L196.9 609.5 L197.7 609.6 L198.5 609.7 L199.3 609.8 L200.1 609.8 L200.9 609.9 L201.7 609.9 L202.5 609.9 L203.3 609.9 L204.1 609.9 L204.9 609.8 L205.7 609.8 L206.5 609.7 L207.3 609.6 L208.1 609.5 L208.9 609.4 L209.7 609.4 L210.5 609.3 L211.3 609.3 L212.1 609.2 L212.9 609.2 L213.7 609.3 L214.5 609.3 L215.3 609.4 L216.1 609.5 L216.9 609.6 L217.7 609.7 L218.5 609.8 L219.3 610.0 L220.1 610.1 L220.9 610.2 L221.7 610.3 L222.5 610.4 L223.3 610.5 L224.1 610.6 L224.9 610.7 L225.7 610.7 L226.5 610.7 L227.3 610.5 L228.1 610.3 L228.9 610.0 L229.7 609.5 L230.5 609.1 L231.3 608.6 L232.1 608.1 L232.9 607.8 L233.7 607.5 L234.5 607.3 L235.3 607.3 L236.1 607.4 L236.9 607.6 L237.7 607.8 L238.5 608.0 L239.3 608.1 L240.1 608.1 L240.9 608.0 L241.7 607.8 L242.5 607.6 L243.3 607.3 L244.1 607.0 L244.9 606.8 L245.7 606.8 L246.5 607.2 L247.3 607.9 L248.1 608.6 L248.9 609.4 L249.7 610.1 L250.5 610.5 L251.3 610.6 L252.1 610.5 L252.9 610.3 L253.7 610.0 L254.5 609.7 L255.3 609.4 L256.1 609.2 L256.9 609.0 L257.7 609.0 L258.5 609.1 L259.3 609.3 L260.1 609.6 L260.9 609.7 L261.7 609.6 L262.5 609.2 L263.3 608.6 L264.1 608.0 L264.9 607.4 L265.7 606.9 L266.5 606.9 L267.3 607.1 L268.1 607.4 L268.9 607.9 L269.7 608.6 L270.5 609.4 L271.3 610.2 L272.1 611.0 L272.9 611.6 L273.7 611.9 L274.5 611.9 L275.3 611.9 L276.1 611.7 L276.9 611.4 L277.7 611.2 L278.5 610.9 L279.3 610.7 L280.1 610.7 L280.9 610.7 L281.7 610.7 L282.5 610.8 L283.3 610.9 L284.1 610.9 L284.9 610.9 L285.7 610.7 L286.5 610.4 L287.3 610.1 L288.1 609.7 L288.9 609.4 L289.7 609.1 L290.5 609.0 L291.3 609.0 L292.1 609.1 L292.9 609.3 L293.7 609.7 L294.5 610.1 L295.3 610.5 L296.1 610.8 L296.9 611.0 L297.7 611.0 L298.5 610.9 L299.3 610.6 L300.1 610.3 L300.9 609.9 L301.7 609.6 L302.5 609.3 L303.3 609.3 L304.1 609.3 L304.9 609.5 L305.7 609.8 L306.5 610.2 L307.3 610.5 L308.1 610.7 L308.9 610.8 L309.7 610.8 L310.5 610.6 L311.3 610.4 L312.1 610.1 L312.9 609.9 L313.7 609.8 L314.5 609.8 L315.3 609.9 L316.1 610.1 L316.9 610.5 L317.7 610.8 L318.5 611.2 L319.3 611.5 L320.1 611.6 L320.9 611.5 L321.7 611.2 L322.5 610.8 L323.3 610.4 L324.1 610.0 L324.9 609.7 L325.7 609.5 L326.5 609.5 L327.3 609.7 L328.1 610.0 L328.9 610.3 L329.7 610.7 L330.5 611.1 L331.3 611.3 L332.1 611.4 L332.9 611.4 L333.7 611.2 L334.5 610.9 L335.3 610.7 L336.1 610.5 L336.9 610.4 L337.7 610.4 L338.5 610.6 L339.3 610.8 L340.1 611.2 L340.9 611.5 L341.7 611.8 L342.5 611.9 L343.3 612.0 L344.1 611.9 L344.9 611.6 L345.7 611.2 L346.5 610.8 L347.3 610.4 L348.1 610.1 L348.9 609.8 L349.7 609.7 L350.5 609.8 L351.3 610.0 L352.1 610.3 L352.9 610.6 L353.7 611.0 L354.5 611.3 L355.3 611.5 L356.1 611.4 L356.9 611.2 L357.7 610.9 L358.5 610.5 L359.3 610.2 L360.1 609.9 L360.9 609.7 L361.7 609.6 L362.5 609.7 L363.3 609.8 L364.1 610.1 L364.9 610.3 L365.7 610.5 L366.5 610.7 L367.3 610.6 L368.1 610.5 L368.9 610.2 L369.7 609.8 L370.5 609.4 L371.3 609.1 L372.1 608.9 L372.9 608.8 L373.7 608.8 L374.5 609.0 L375.3 609.3 L376.1 609.6 L376.9 609.9 L377.7 610.2 L378.5 610.3 L379.3 610.2 L380.1 610.0 L380.9 609.6 L381.7 609.2 L382.5 608.7 L383.3 608.3 L384.1 607.9 L384.9 607.7 L385.7 607.6 L386.5 607.7 L387.3 607.9 L388.1 608.2 L388.9 608.4 L389.7 608.6 L390.5 608.7 L391.3 608.5 L392.1 608.2 L392.9 607.8 L393.7 607.4 L394.5 607.2 L395.3 607.2 L396.1 607.5 L396.9 608.1 L397.7 608.8 L398.5 609.6 L399.3 610.5 L400.1 611.4 L400.9 612.1 L401.7 612.5 L402.5 612.7 L403.3 612.6 L404.1 612.3 L404.9 611.9 L405.7 611.6 L406.5 611.3 L407.3 611.2 L408.1 611.2 L408.9 611.5 L409.7 611.9 L410.5 612.4 L411.3 612.9 L412.1 613.3 L412.9 613.6 L413.7 613.6 L414.5 613.3 L415.3 612.9 L416.1 612.2 L416.9 611.5 L417.7 610.9 L418.5 610.6 L419.3 610.4 L420.1 610.5 L420.9 610.9 L421.7 611.3 L422.5 611.8 L423.3 612.3 L424.1 612.7 L424.9 612.9 L425.7 612.9 L426.5 612.6 L427.3 612.2 L428.1 611.6 L428.9 611.1 L429.7 610.7 L430.5 610.4 L431.3 610.4 L432.1 610.7 L432.9 611.1 L433.7 611.5 L434.5 612.0 L435.3 612.5 L436.1 612.7 L436.9 612.7 L437.7 612.4 L438.5 611.9 L439.3 611.2 L440.1 610.5 L440.9 609.9 L441.7 609.5 L442.5 609.4 L443.3 609.5 L444.1 609.8 L444.9 610.3 L445.7 610.8 L446.5 611.3 L447.3 611.8 L448.1 612.0 L448.9 612.0 L449.7 611.9 L450.5 611.5 L451.3 611.0 L452.1 610.6 L452.9 610.2 L453.7 610.0 L454.5 610.0 L455.3 610.1 L456.1 610.5 L456.9 610.9 L457.7 611.4 L458.5 611.8 L459.3 612.1 L460.1 612.2 L460.9 612.1 L461.7 611.8 L462.5 611.5 L463.3 611.0 L464.1 610.6 L464.9 610.2 L465.7 610.0 L466.5 609.9 L467.3 610.0 L468.1 610.2 L468.9 610.4 L469.7 610.7 L470.5 610.9 L471.3 611.0 L472.1 611.1 L472.9 611.0 L473.7 610.9 L474.5 610.8 L475.3 610.7 L476.1 610.6 L476.9 610.6 L477.7 610.7 L478.5 610.8 L479.3 611.0 L480.1 611.2 L480.9 611.3 L481.7 611.5 L482.5 611.6 L483.3 611.6 L484.1 611.6 L484.9 611.4 L485.7 611.3 L486.5 611.1 L487.3 610.9 L488.1 610.8 L488.9 610.9 L489.7 611.0 L490.5 611.1 L491.3 611.3 L492.1 611.4 L492.9 611.4 L493.7 611.3 L494.5 611.2 L495.3 611.0 L496.1 610.8 L496.9 610.7 L497.7 610.6 L498.5 610.6 L499.3 610.7 L500.1 610.9 L500.9 611.2 L501.7 611.4 L502.5 611.5 L503.3 611.6 L504.1 611.6 L504.9 611.5 L505.7 611.2 L506.5 610.9 L507.3 610.5 L508.1 610.2 L508.9 609.9 L509.7 609.8 L510.5 609.9 L511.3 610.1 L512.1 610.4 L512.9 610.8 L513.7 611.3 L514.5 611.7 L515.3 612.1 L516.1 612.3 L516.9 612.4 L517.7 612.2 L518.5 611.9 L519.3 611.5 L520.1 611.0 L520.9 610.6 L521.7 610.2 L522.5 610.0 L523.3 610.0 L524.1 610.2 L524.9 610.5 L525.7 610.8 L526.5 611.2 L527.3 611.5 L528.1 611.6 L528.9 611.7 L529.7 611.5 L530.5 611.3 L531.3 611.0 L532.1 610.7 L532.9 610.4 L533.7 610.3 L534.5 610.2 L535.3 610.3 L536.1 610.6 L536.9 610.9 L537.7 611.2 L538.5 611.4 L539.3 611.6 L540.1 611.6 L540.9 611.6 L541.7 611.4 L542.5 611.1 L543.3 610.8 L544.1 610.5 L544.9 610.3 L545.7 610.2 L546.5 610.3 L547.3 610.5 L548.1 610.9 L548.9 611.3 L549.7 611.6 L550.5 611.9 L551.3 612.1 L552.1 612.1 L552.9 612.0 L553.7 611.8 L554.5 611.4 L555.3 611.0 L556.1 610.6 L556.9 610.3 L557.7 610.2 L558.5 610.3 L559.3 610.5 L560.1 610.8 L560.9 611.2 L561.7 611.5 L562.5 611.7 L563.3 611.8 L564.1 611.8 L564.9 611.6 L565.7 611.4 L566.5 611.1 L567.3 610.8 L568.1 610.5 L568.9 610.5 L569.7 610.5 L570.5 610.7 L571.3 611.0 L572.1 611.3 L572.9 611.5 L573.7 611.6 L574.5 611.7 L575.3 611.6 L576.1 611.4 L576.9 611.2 L577.7 610.8 L578.5 610.5 L579.3 610.2 L580.1 610.0 L580.9 610.0 L581.7 610.1 L582.5 610.3 L583.3 610.7 L584.1 611.2 L584.9 611.6 L585.7 611.9 L586.5 612.1 L587.3 612.2 L588.1 612.1 L588.9 611.8 L589.7 611.5 L590.5 611.1 L591.3 610.8 L592.1 610.5 L592.9 610.3 L593.7 610.3 L594.5 610.4 L595.3 610.6 L596.1 610.8 L596.9 611.0 L597.7 611.2 L598.5 611.3 L599.3 611.2 L600.1 611.1 L600.9 610.8 L601.7 610.5 L602.5 610.2 L603.3 609.9 L604.1 609.8 L604.9 609.9 L605.7 610.1 L606.5 610.5 L607.3 610.9 L608.1 611.3 L608.9 611.6 L609.7 611.7 L610.5 611.7 L611.3 611.5 L612.1 611.1 L612.9 610.6 L613.7 610.1 L614.5 609.6 L615.3 609.1 L616.1 608.7 L616.9 608.6 L617.7 608.6 L618.5 608.8 L619.3 609.1 L620.1 609.4 L620.9 609.7 L621.7 609.9 L622.5 610.0 L623.3 610.0 L624.1 609.8 L624.9 609.6 L625.7 609.3 L626.5 609.0 L627.3 608.7 L628.1 608.5 L628.9 608.5 L629.7 608.6 L630.5 608.8 L631.3 609.1 L632.1 609.4 L632.9 609.7 L633.7 610.0 L634.5 610.2 L635.3 610.2 L636.1 610.1 L636.9 609.9 L637.7 609.7 L638.5 609.3 L639.3 609.0 L640.1 608.7 L640.9 608.5 L641.7 608.5 L642.5 608.5 L643.3 608.6 L644.1 608.8 L644.9 609.0 L645.7 609.2 L646.5 609.4 L647.3 609.5 L648.1 609.5 L648.9 609.3 L649.7 609.1 L650.5 608.8 L651.3 608.5 L652.1 608.2 L652.9 608.0 L653.7 607.9 L654.5 608.0 L655.3 608.2 L656.1 608.4 L656.9 608.6 L657.7 608.8 L658.5 609.0 L659.3 609.2 L660.1 609.3 L660.9 609.3 L661.7 609.3 L662.5 609.2 L663.3 609.1 L664.1 608.9 L664.9 608.7 L665.7 608.6 L666.5 608.5 L667.3 608.4 L668.1 608.4 L668.9 608.5 L669.7 608.5 L670.5 608.6 L671.3 608.7 L672.1 608.7 L672.9 608.7 L673.7 608.7 L674.5 608.7 L675.3 608.7 L676.1 608.7 L676.9 608.7 L677.7 608.6 L678.5 608.6 L679.3 608.6 L680.1 608.5 L680.9 608.5 L681.7 608.5 L682.5 608.6 L683.3 608.6 L684.1 608.7 L684.9 608.7 L685.7 608.9 L686.5 609.0 L687.3 609.2 L688.1 609.2 L688.9 609.2 L689.7 609.0 L690.5 608.7 L691.3 608.4 L692.1 608.0 L692.9 607.7 L693.7 607.4 L694.5 607.2 L695.3 607.1 L696.1 607.1 L696.9 607.1 L697.7 607.1 L698.5 607.1 L699.3 607.0 L700.1 606.8 L700.9 606.5 L701.7 606.2 L702.5 605.8 L703.3 605.5 L704.1 605.3 L704.9 605.2 L705.7 605.4 L706.5 605.9 L707.3 606.4 L708.1 607.1 L708.9 607.7 L709.7 608.1 L710.5 608.4 L711.3 608.6 L712.1 608.5 L712.9 608.2 L713.7 607.7 L714.5 607.3 L715.3 606.9 L716.1 606.6 L716.9 606.5 L717.7 606.5 L718.5 606.6 L719.3 606.8 L720.1 607.0 L720.9 607.0 L721.7 607.0 L722.5 606.8 L723.3 606.5 L724.1 606.1 L724.9 605.6 L725.7 605.3 L726.5 605.0 L727.3 604.9 L728.1 605.1 L728.9 605.4 L729.7 605.8 L730.5 606.1 L731.3 606.5 L732.1 606.7 L732.9 606.9 L733.7 606.9 L734.5 606.8 L735.3 606.6 L736.1 606.4 L736.9 606.2 L737.7 606.1 L738.5 606.2 L739.3 606.3 L740.1 606.6 L740.9 607.0 L741.7 607.4 L742.5 607.9 L743.3 608.3 L744.1 608.6 L744.9 608.7 L745.7 608.6 L746.5 608.4 L747.3 608.1 L748.1 607.9 L748.9 607.7 L749.7 607.7 L750.5 607.7 L751.3 607.9 L752.1 608.3 L752.9 608.7 L753.7 609.1 L754.5 609.5 L755.3 609.8 L756.1 609.9 L756.9 610.0 L757.7 609.9 L758.5 609.9 L759.3 609.9 L760.1 610.0 L760.9 610.2 L761.7 610.5 L762.5 610.9 L763.3 611.2 L764.1 611.6 L764.9 611.9 L765.7 612.0 L766.5 612.0 L767.3 611.9 L768.1 611.6 L768.9 611.2 L769.7 610.7 L770.5 610.4 L771.3 610.1 L772.1 610.0 L772.9 610.1 L773.7 610.3 L774.5 610.6 L775.3 610.9 L776.1 611.3 L776.9 611.6 L777.7 611.8 L778.5 611.9 L779.3 611.9 L780.1 611.8 L780.9 611.7 L781.7 611.6 L782.5 611.6 L783.3 611.7 L784.1 611.9 L784.9 612.2 L785.7 612.6 L786.5 613.0 L787.3 613.4 L788.1 613.8 L788.9 614.0 L789.7 614.1 L790.5 614.0 L791.3 613.7 L792.1 613.3 L792.9 613.0 L793.7 612.6 L794.5 612.4 L795.3 612.3 L796.1 612.4 L796.9 612.6 L797.7 612.9 L798.5 613.2 L799.3 613.5 L800.1 613.7 L800.9 613.7 L801.7 613.7 L802.5 613.5 L803.3 613.3 L804.1 613.1 L804.9 612.9 L805.7 612.8 L806.5 612.8 L807.3 612.8 L808.1 612.9 L808.9 613.0 L809.7 613.1 L810.5 613.2 L811.3 613.3 L812.1 613.4 L812.9 613.4 L813.7 613.3 L814.5 613.2 L815.3 613.0 L816.1 612.9 L816.9 612.8 L817.7 612.7 L818.5 612.6 L819.3 612.6 L820.1 612.7 L820.9 612.8 L821.7 613.0 L822.5 613.1 L823.3 613.2 L824.1 613.4 L824.9 613.4 L825.7 613.5 L826.5 613.5 L827.3 613.4 L828.1 613.3 L828.9 613.1 L829.7 612.9 L830.5 612.8 L831.3 612.6 L832.1 612.4 L832.9 612.3 L833.7 612.2 L834.5 612.2 L835.3 612.2 L836.1 612.3 L836.9 612.4 L837.7 612.5 L838.5 612.6 L839.3 612.7 L840.1 612.9 L840.9 612.9 L841.7 613.0 L842.5 613.0 L843.3 612.9 L844.1 612.8 L844.9 612.7 L845.7 612.6 L846.5 612.4 L847.3 612.2 L848.1 612.1 L848.9 611.9 L849.7 611.8 L850.5 611.7 L851.3 611.6 L852.1 611.6 L852.9 611.6 L853.7 611.6 L854.5 611.6 L855.3 611.8 L856.1 612.0 L856.9 612.3 L857.7 612.7 L858.5 613.1 L859.3 613.4 L860.1 613.7 L860.9 613.8 L861.7 613.8 L862.5 613.7 L863.3 613.6 L864.1 613.3 L864.9 613.1 L865.7 613.0 L866.5 612.9 L867.3 613.0 L868.1 613.1 L868.9 613.4 L869.7 613.7 L870.5 613.9 L871.3 614.1 L872.1 614.2 L872.9 614.1 L873.7 613.9 L874.5 613.7 L875.3 613.4 L876.1 613.2 L876.9 613.0 L877.7 613.0 L878.5 613.1 L879.3 613.3 L880.1 613.6 L880.9 613.9 L881.7 614.1 L882.5 614.3 L883.3 614.3 L884.1 614.1 L884.9 613.9 L885.7 613.5 L886.5 613.1 L887.3 612.8 L888.1 612.6 L888.9 612.6 L889.7 612.7 L890.5 612.9 L891.3 613.3 L892.1 613.7 L892.9 614.0 L893.7 614.2 L894.5 614.2 L895.3 614.2 L896.1 614.0 L896.9 613.7 L897.7 613.5 L898.5 613.3 L899.3 613.1 L900.1 613.1 L900.9 613.2 L901.7 613.3 L902.5 613.5 L903.3 613.8 L904.1 614.0 L904.9 614.1 L905.7 614.1 L906.5 614.0 L907.3 613.8 L908.1 613.5 L908.9 613.2 L909.7 612.9 L910.5 612.7 L911.3 612.7 L912.1 612.9 L912.9 613.2 L913.7 613.6 L914.5 614.0 L915.3 614.3 L916.1 614.5 L916.9 614.6 L917.7 614.5 L918.5 614.2 L919.3 613.8 L920.1 613.3 L920.9 612.8 L921.7 612.4 L922.5 612.1 L923.3 612.0 L924.1 611.9 L924.9 612.0 L925.7 612.0 L926.5 612.0 L927.3 611.9 L928.1 611.7 L928.9 611.5 L929.7 611.1 L930.5 610.8 L931.3 610.4 L932.1 610.2 L932.9 610.1 L933.7 610.1 L934.5 610.2 L935.3 610.5 L936.1 610.8 L936.9 611.1 L937.7 611.3 L938.5 611.3 L939.3 611.2 L940.1 610.9 L940.9 610.5 L941.7 610.1 L942.5 609.6 L943.3 609.2 L944.1 608.9 L944.9 608.7 L945.7 608.7 L946.5 608.8 L947.3 609.0 L948.1 609.2 L948.9 609.3 L949.7 609.4 L950.5 609.4 L951.3 609.2 L952.1 609.0 L952.9 608.7 L953.7 608.3 L954.5 607.9 L955.3 607.6 L956.1 607.3 L956.9 607.2 L957.7 607.2 L958.5 607.3 L959.3 607.4 L960.1 607.6 L960.9 607.7 L961.7 607.6 L962.5 607.5 L963.3 607.2 L964.1 606.9 L964.9 606.5 L965.7 606.1 L966.5 605.8 L967.3 605.6 L968.1 605.6 L968.9 605.8 L969.7 606.1 L970.5 606.5 L971.3 606.8 L972.1 607.1 L972.9 607.3 L973.7 607.5 L974.5 607.6 L975.3 607.6 L976.1 607.6 L976.9 607.5 L977.7 607.5 L978.5 607.4 L979.3 607.4 L980.1 607.4 L980.9 607.5 L981.7 607.7 L982.5 607.9 L983.3 608.0 L984.1 608.2 L984.9 608.3 L985.7 608.4 L986.5 608.4 L987.3 608.4 L988.1 608.4 L988.9 608.3 L989.7 608.2 L990.5 608.1 L991.3 608.1 L992.1 608.0 L992.9 608.0 L993.7 608.0 L994.5 608.1 L995.3 608.1 L996.1 608.2 L996.9 608.4 L997.7 608.5 L998.5 608.6 L999.3 608.7 L1000.1 608.8 L1000.9 608.8 L1001.7 608.8 L1002.5 608.8 L1003.3 608.7 L1004.1 608.6 L1004.9 608.5 L1005.7 608.4 L1006.5 608.3 L1007.3 608.1 L1008.1 608.0 L1008.9 607.9 L1009.7 607.8 L1010.5 607.7 L1011.3 607.7 L1012.1 607.6 L1012.9 607.6 L1013.7 607.7 L1014.5 607.7 L1015.3 607.8 L1016.1 607.8 L1016.9 607.9 L1017.7 607.9 L1018.5 608.0" stroke="#00f" stroke-width="3.4"/>
<path d="M90.0 582.2 L256.8 582.2 L256.8 547.2 L423.5 547.2 L423.5 567.2 L590.2 567.2 L590.2 568.0 L757.0 568.0 L757.0 573.0 L923.8 573.0 L923.8 599.2 L1019.7 599.2" stroke="#0f0" stroke-width="3"/>
<path d="M90.5 593.0 L91.3 593.6 L92.1 594.5 L92.9 595.6 L93.7 596.7 L94.5 597.7 L95.3 598.4 L96.1 598.6 L96.9 598.7 L97.7 598.9 L98.5 599.0 L99.3 599.2 L100.1 599.3 L100.9 599.4 L101.7 599.4 L102.5 599.5 L103.3 599.6 L104.1 599.8 L104.9 599.9 L105.7 599.9 L106.5 599.8 L107.3 599.6 L108.1 599.3 L108.9 599.2 L109.7 599.1 L110.5 598.9 L111.3 598.7 L112.1 598.4 L112.9 598.2 L113.7 598.1 L114.5 598.4 L115.3 598.9 L116.1 599.7 L116.9 600.6 L117.7 601.3 L118.5 601.7 L119.3 601.9 L120.1 601.8 L120.9 601.5 L121.7 601.3 L122.5 601.0 L123.3 600.7 L124.1 600.4 L124.9 600.1 L125.7 599.8 L126.5 599.6 L127.3 599.4 L128.1 599.2 L128.9 599.0 L129.7 598.9 L130.5 598.9 L131.3 598.9 L132.1 598.9 L132.9 598.9 L133.7 598.9 L134.5 598.9 L135.3 598.9 L136.1 598.9 L136.9 598.9 L137.7 599.0 L138.5 599.0 L139.3 599.1 L140.1 599.2 L140.9 599.3 L141.7 599.4 L142.5 599.5 L143.3 599.5 L144.1 599.5 L144.9 599.5 L145.7 599.5 L146.5 599.4 L147.3 599.3 L148.1 599.3 L148.9 599.2 L149.7 599.1 L150.5 599.1 L151.3 599.1 L152.1 599.0 L152.9 599.0 L153.7 599.1 L154.5 599.1 L155.3 599.1 L156.1 599.1 L156.9 599.1 L157.7 599.1 L158.5 599.2 L159.3 599.2 L160.1 599.3 L160.9 599.4 L161.7 599.4 L162.5 599.5 L163.3 599.5 L164.1 599.5 L164.9 599.4 L165.7 599.4 L166.5 599.3 L167.3 599.1 L168.1 599.0 L168.9 598.9 L169.7 598.9 L170.5 598.8 L171.3 598.8 L172.1 598.8 L172.9 598.8 L173.7 598.8 L174.5 598.8 L175.3 598.8 L176.1 598.8 L176.9 598.8 L177.7 598.9 L178.5 599.0 L179.3 599.1 L180.1 599.2 L180.9 599.3 L181.7 599.3 L182.5 599.4 L183.3 599.3 L184.1 599.3 L184.9 599.2 L185.7 599.2 L186.5 599.1 L187.3 599.0 L188.1 598.9 L188.9 598.9 L189.7 598.9 L190.5 598.9 L191.3 598.8 L192.1 598.8 L192.9 598.8 L193.7 598.8 L194.5 598.8 L195.3 598.8 L196.1 598.9 L196.9 598.9 L197.7 599.0 L198.5 599.1 L199.3 599.1 L200.1 599.2 L200.9 599.3 L201.7 599.3 L202.5 599.4 L203.3 599.4 L204.1 599.3 L204.9 599.2 L205.7 599.2 L206.5 599.1 L207.3 599.0 L208.1 598.9 L208.9 598.8 L209.7 598.8 L210.5 598.8 L211.3 598.8 L212.1 598.8 L212.9 598.8 L213.7 598.8 L214.5 598.8 L215.3 598.8 L216.1 598.9 L216.9 598.9 L217.7 599.0 L218.5 599.2 L219.3 599.4 L220.1 599.6 L220.9 599.9 L221.7 600.1 L222.5 600.4 L223.3 600.7 L224.1 601.0 L224.9 601.2 L225.7 601.3 L226.5 600.8 L227.3 599.9 L228.1 598.7 L228.9 597.1 L229.7 595.4 L230.5 593.9 L231.3 592.7 L232.1 591.6 L232.9 590.8 L233.7 590.3 L234.5 590.0 L235.3 589.8 L236.1 589.6 L236.9 589.3 L237.7 589.2 L238.5 589.2 L239.3 589.3 L240.1 589.4 L240.9 589.3 L241.7 588.9 L242.5 588.2 L243.3 587.4 L244.1 586.8 L244.9 586.4 L245.7 586.3 L246.5 586.3 L247.3 586.3 L248.1 586.3 L248.9 586.0 L249.7 585.6 L250.5 585.3 L251.3 585.1 L252.1 584.7 L252.9 584.1 L253.7 583.2 L254.5 582.2 L255.3 581.5 L256.1 581.3 L256.9 581.2 L257.7 581.3 L258.5 581.4 L259.3 581.3 L260.1 581.2 L260.9 581.1 L261.7 581.0 L262.5 581.1 L263.3 581.2 L264.1 581.0 L264.9 580.5 L265.7 579.7 L266.5 578.9 L267.3 578.2 L268.1 577.9 L268.9 577.8 L269.7 577.8 L270.5 577.8 L271.3 577.8 L272.1 577.7 L272.9 577.8 L273.7 577.9 L274.5 578.0 L275.3 578.0 L276.1 577.7 L276.9 577.2 L277.7 576.6 L278.5 576.2 L279.3 576.0 L280.1 575.9 L280.9 575.9 L281.7 575.9 L282.5 575.8 L283.3 575.7 L284.1 575.7 L284.9 575.8 L285.7 575.8 L286.5 575.7 L287.3 575.4 L288.1 574.8 L288.9 574.1 L289.7 573.4 L290.5 573.0 L291.3 572.8 L292.1 572.7 L292.9 572.7 L293.7 572.7 L294.5 572.7 L295.3 572.8 L296.1 572.9 L296.9 573.0 L297.7 572.9 L298.5 572.6 L299.3 571.9 L300.1 571.0 L300.9 570.0 L301.7 569.3 L302.5 568.9 L303.3 568.9 L304.1 569.1 L304.9 569.3 L305.7 569.5 L306.5 569.7 L307.3 569.9 L308.1 570.1 L308.9 570.0 L309.7 569.4 L310.5 568.4 L311.3 567.3 L312.1 566.1 L312.9 565.3 L313.7 565.2 L314.5 565.3 L315.3 565.5 L316.1 565.9 L316.9 566.2 L317.7 566.5 L318.5 566.8 L319.3 567.1 L320.1 567.4 L320.9 567.2 L321.7 566.3 L322.5 565.0 L323.3 563.4 L324.1 562.1 L324.9 561.1 L325.7 560.8 L326.5 560.9 L327.3 561.2 L328.1 561.5 L328.9 561.7 L329.7 562.0 L330.5 562.3 L331.3 562.7 L332.1 562.9 L332.9 563.0 L333.7 562.4 L334.5 561.5 L335.3 560.4 L336.1 559.5 L336.9 558.9 L337.7 558.6 L338.5 558.8 L339.3 559.0 L340.1 559.3 L340.9 559.5 L341.7 559.7 L342.5 560.0 L343.3 560.1 L344.1 560.2 L344.9 559.7 L345.7 559.0 L346.5 558.0 L347.3 556.9 L348.1 555.9 L348.9 555.1 L349.7 554.6 L350.5 554.3 L351.3 554.1 L352.1 553.9 L352.9 553.7 L353.7 553.5 L354.5 553.4 L355.3 553.4 L356.1 553.3 L356.9 553.0 L357.7 552.6 L358.5 552.0 L359.3 551.4 L360.1 551.0 L360.9 550.8 L361.7 550.7 L362.5 550.7 L363.3 550.8 L364.1 550.8 L364.9 550.8 L365.7 550.8 L366.5 550.9 L367.3 551.0 L368.1 550.8 L368.9 550.4 L369.7 549.8 L370.5 549.1 L371.3 548.4 L372.1 548.0 L372.9 547.8 L373.7 547.7 L374.5 547.7 L375.3 547.7 L376.1 547.7 L376.9 547.7 L377.7 547.7 L378.5 547.7 L379.3 547.5 L380.1 547.2 L380.9 546.7 L381.7 546.1 L382.5 545.4 L383.3 544.8 L384.1 544.4 L384.9 544.2 L385.7 544.1 L386.5 544.1 L387.3 544.1 L388.1 544.1 L388.9 544.1 L389.7 544.1 L390.5 544.0 L391.3 543.8 L392.1 543.3 L392.9 542.7 L393.7 542.1 L394.5 541.8 L395.3 541.8 L396.1 542.3 L396.9 543.0 L397.7 543.9 L398.5 544.8 L399.3 545.6 L400.1 546.2 L400.9 546.7 L401.7 547.2 L402.5 547.4 L403.3 547.4 L404.1 547.2 L404.9 546.8 L405.7 546.5 L406.5 546.2 L407.3 546.0 L408.1 545.9 L408.9 546.1 L409.7 546.3 L410.5 546.5 L411.3 546.7 L412.1 546.6 L412.9 546.5 L413.7 546.2 L414.5 545.8 L415.3 545.2 L416.1 544.4 L416.9 543.6 L417.7 542.8 L418.5 542.2 L419.3 542.0 L420.1 542.4 L420.9 543.0 L421.7 543.7 L422.5 544.3 L423.3 544.8 L424.1 545.2 L424.9 545.5 L425.7 545.7 L426.5 545.8 L427.3 545.8 L428.1 545.7 L428.9 545.4 L429.7 545.1 L430.5 545.0 L431.3 545.2 L432.1 545.5 L432.9 545.9 L433.7 546.3 L434.5 546.5 L435.3 546.5 L436.1 546.4 L436.9 546.2 L437.7 545.9 L438.5 545.4 L439.3 544.6 L440.1 543.6 L440.9 542.7 L441.7 541.9 L442.5 541.6 L443.3 541.7 L444.1 542.1 L444.9 542.7 L445.7 543.2 L446.5 543.5 L447.3 543.7 L448.1 543.9 L448.9 544.1 L449.7 544.3 L450.5 544.3 L451.3 544.0 L452.1 543.6 L452.9 543.2 L453.7 543.0 L454.5 543.1 L455.3 543.6 L456.1 544.3 L456.9 544.8 L457.7 545.1 L458.5 545.1 L459.3 545.0 L460.1 544.7 L460.9 544.5 L461.7 544.2 L462.5 543.8 L463.3 543.1 L464.1 542.4 L464.9 541.6 L465.7 541.0 L466.5 540.8 L467.3 541.1 L468.1 541.7 L468.9 542.3 L469.7 542.8 L470.5 543.1 L471.3 543.4 L472.1 543.6 L472.9 543.9 L473.7 544.2 L474.5 544.4 L475.3 544.6 L476.1 544.9 L476.9 545.2 L477.7 545.7 L478.5 546.2 L479.3 546.8 L480.1 547.3 L480.9 547.7 L481.7 547.9 L482.5 547.8 L483.3 547.7 L484.1 547.5 L484.9 547.4 L485.7 547.2 L486.5 546.9 L487.3 546.6 L488.1 546.4 L488.9 546.4 L489.7 546.6 L490.5 546.9 L491.3 547.2 L492.1 547.3 L492.9 547.2 L493.7 547.0 L494.5 546.9 L495.3 546.8 L496.1 546.8 L496.9 546.8 L497.7 546.7 L498.5 546.8 L499.3 546.9 L500.1 547.2 L500.9 547.7 L501.7 548.2 L502.5 548.6 L503.3 548.9 L504.1 548.8 L504.9 548.7 L505.7 548.4 L506.5 548.1 L507.3 548.0 L508.1 547.9 L508.9 547.9 L509.7 548.0 L510.5 548.1 L511.3 548.5 L512.1 549.1 L512.9 550.0 L513.7 550.9 L514.5 551.9 L515.3 552.7 L516.1 553.2 L516.9 553.4 L517.7 553.3 L518.5 553.1 L519.3 552.8 L520.1 552.5 L520.9 552.2 L521.7 552.0 L522.5 551.8 L523.3 551.9 L524.1 552.2 L524.9 552.8 L525.7 553.5 L526.5 554.1 L527.3 554.6 L528.1 554.8 L528.9 554.9 L529.7 554.8 L530.5 554.7 L531.3 554.6 L532.1 554.4 L532.9 554.2 L533.7 554.1 L534.5 554.1 L535.3 554.3 L536.1 554.8 L536.9 555.5 L537.7 556.3 L538.5 556.9 L539.3 557.3 L540.1 557.5 L540.9 557.4 L541.7 557.3 L542.5 557.1 L543.3 557.0 L544.1 556.8 L544.9 556.7 L545.7 556.7 L546.5 556.9 L547.3 557.3 L548.1 558.0 L548.9 558.9 L549.7 559.8 L550.5 560.5 L551.3 561.0 L552.1 561.1 L552.9 561.2 L553.7 561.0 L554.5 560.9 L555.3 560.7 L556.1 560.5 L556.9 560.3 L557.7 560.1 L558.5 560.2 L559.3 560.7 L560.1 561.4 L560.9 562.2 L561.7 562.8 L562.5 563.2 L563.3 563.4 L564.1 563.5 L564.9 563.5 L565.7 563.6 L566.5 563.7 L567.3 563.8 L568.1 563.8 L568.9 563.7 L569.7 563.6 L570.5 563.7 L571.3 564.1 L572.1 564.4 L572.9 564.7 L573.7 564.8 L574.5 564.7 L575.3 564.5 L576.1 564.2 L576.9 563.9 L577.7 563.6 L578.5 563.5 L579.3 563.3 L580.1 563.1 L580.9 562.9 L581.7 562.9 L582.5 563.3 L583.3 564.0 L584.1 564.9 L584.9 565.7 L585.7 566.4 L586.5 566.8 L587.3 567.1 L588.1 567.3 L588.9 567.4 L589.7 567.6 L590.5 567.8 L591.3 567.9 L592.1 567.9 L592.9 567.8 L593.7 567.7 L594.5 567.8 L595.3 567.9 L596.1 568.2 L596.9 568.4 L597.7 568.5 L598.5 568.4 L599.3 568.1 L600.1 567.9 L600.9 567.8 L601.7 567.9 L602.5 568.0 L603.3 568.1 L604.1 568.1 L604.9 568.1 L605.7 568.6 L606.5 569.7 L607.3 571.0 L608.1 572.4 L608.9 573.6 L609.7 574.3 L610.5 574.7 L611.3 574.9 L612.1 575.0 L612.9 575.0 L613.7 575.2 L614.5 575.4 L615.3 575.6 L616.1 575.6 L616.9 575.7 L617.7 576.0 L618.5 576.7 L619.3 577.7 L620.1 578.9 L620.9 579.8 L621.7 580.5 L622.5 580.8 L623.3 580.8 L624.1 580.8 L624.9 580.9 L625.7 581.0 L626.5 581.1 L627.3 581.2 L628.1 581.3 L628.9 581.3 L629.7 581.5 L630.5 582.1 L631.3 583.0 L632.1 584.1 L632.9 585.3 L633.7 586.1 L634.5 586.6 L635.3 586.8 L636.1 586.7 L636.9 586.6 L637.7 586.6 L638.5 586.7 L639.3 587.0 L640.1 587.3 L640.9 587.5 L641.7 587.6 L642.5 587.7 L643.3 587.8 L644.1 588.1 L644.9 588.6 L645.7 589.0 L646.5 589.3 L647.3 589.5 L648.1 589.5 L648.9 589.4 L649.7 589.4 L650.5 589.4 L651.3 589.5 L652.1 589.5 L652.9 589.4 L653.7 589.3 L654.5 589.4 L655.3 590.0 L656.1 590.7 L656.9 591.4 L657.7 592.0 L658.5 592.5 L659.3 592.8 L660.1 592.9 L660.9 592.9 L661.7 592.8 L662.5 592.8 L663.3 592.8 L664.1 592.9 L664.9 592.9 L665.7 592.9 L666.5 592.9 L667.3 592.9 L668.1 592.9 L668.9 593.1 L669.7 593.4 L670.5 593.7 L671.3 594.0 L672.1 594.2 L672.9 594.3 L673.7 594.4 L674.5 594.4 L675.3 594.4 L676.1 594.4 L676.9 594.4 L677.7 594.5 L678.5 594.6 L679.3 594.7 L680.1 594.8 L680.9 594.8 L681.7 594.9 L682.5 595.1 L683.3 595.2 L684.1 595.4 L684.9 595.6 L685.7 596.0 L686.5 596.3 L687.3 596.4 L688.1 596.4 L688.9 596.2 L689.7 595.5 L690.5 594.4 L691.3 593.2 L692.1 592.2 L692.9 591.4 L693.7 591.1 L694.5 591.0 L695.3 591.0 L696.1 590.7 L696.9 590.1 L697.7 589.5 L698.5 588.8 L699.3 588.2 L700.1 587.3 L700.9 586.2 L701.7 584.8 L702.5 583.5 L703.3 582.6 L704.1 582.1 L704.9 582.1 L705.7 582.2 L706.5 582.2 L707.3 582.1 L708.1 581.8 L708.9 581.6 L709.7 581.6 L710.5 581.6 L711.3 581.6 L712.1 581.2 L712.9 580.6 L713.7 579.7 L714.5 578.8 L715.3 578.2 L716.1 577.9 L716.9 577.8 L717.7 577.6 L718.5 577.4 L719.3 577.1 L720.1 576.9 L720.9 576.8 L721.7 576.8 L722.5 576.5 L723.3 575.9 L724.1 575.1 L724.9 574.2 L725.7 573.6 L726.5 573.3 L727.3 573.3 L728.1 573.3 L728.9 573.2 L729.7 573.0 L730.5 572.8 L731.3 572.6 L732.1 572.5 L732.9 572.3 L733.7 572.1 L734.5 571.7 L735.3 571.1 L736.1 570.4 L736.9 569.8 L737.7 569.5 L738.5 569.4 L739.3 569.5 L740.1 569.6 L740.9 569.7 L741.7 569.6 L742.5 569.5 L743.3 569.5 L744.1 569.5 L744.9 569.4 L745.7 569.0 L746.5 568.3 L747.3 567.5 L748.1 566.9 L748.9 566.6 L749.7 566.5 L750.5 566.5 L751.3 566.6 L752.1 566.5 L752.9 566.4 L753.7 566.3 L754.5 566.2 L755.3 566.2 L756.1 566.1 L756.9 565.8 L757.7 565.4 L758.5 565.0 L759.3 564.7 L760.1 564.7 L760.9 564.8 L761.7 564.9 L762.5 565.0 L763.3 565.1 L764.1 565.1 L764.9 565.2 L765.7 565.3 L766.5 565.3 L767.3 565.2 L768.1 564.7 L768.9 564.1 L769.7 563.4 L770.5 563.0 L771.3 562.7 L772.1 562.7 L772.9 562.7 L773.7 562.7 L774.5 562.6 L775.3 562.6 L776.1 562.6 L776.9 562.7 L777.7 562.9 L778.5 562.9 L779.3 562.7 L780.1 562.4 L780.9 562.0 L781.7 561.8 L782.5 561.6 L783.3 561.7 L784.1 561.8 L784.9 561.9 L785.7 562.0 L786.5 562.0 L787.3 562.0 L788.1 562.0 L788.9 562.0 L789.7 562.0 L790.5 561.9 L791.3 561.6 L792.1 561.1 L792.9 560.5 L793.7 560.0 L794.5 559.7 L795.3 559.5 L796.1 559.5 L796.9 559.6 L797.7 559.7 L798.5 559.7 L799.3 559.9 L800.1 560.1 L800.9 560.2 L801.7 560.1 L802.5 559.8 L803.3 559.4 L804.1 559.1 L804.9 558.8 L805.7 558.6 L806.5 558.4 L807.3 558.4 L808.1 558.3 L808.9 558.3 L809.7 558.3 L810.5 558.3 L811.3 558.3 L812.1 558.3 L812.9 558.3 L813.7 558.2 L814.5 558.1 L815.3 558.0 L816.1 557.8 L816.9 557.6 L817.7 557.5 L818.5 557.5 L819.3 557.5 L820.1 557.6 L820.9 557.7 L821.7 557.9 L822.5 558.1 L823.3 558.2 L824.1 558.3 L824.9 558.4 L825.7 558.4 L826.5 558.3 L827.3 558.2 L828.1 558.0 L828.9 557.8 L829.7 557.5 L830.5 557.3 L831.3 557.0 L832.1 556.7 L832.9 556.5 L833.7 556.3 L834.5 556.2 L835.3 556.2 L836.1 556.2 L836.9 556.3 L837.7 556.4 L838.5 556.5 L839.3 556.6 L840.1 556.7 L840.9 556.8 L841.7 556.8 L842.5 556.8 L843.3 556.7 L844.1 556.6 L844.9 556.5 L845.7 556.3 L846.5 556.1 L847.3 555.9 L848.1 555.7 L848.9 555.5 L849.7 555.3 L850.5 555.3 L851.3 555.3 L852.1 555.3 L852.9 555.5 L853.7 555.6 L854.5 555.7 L855.3 555.9 L856.1 556.2 L856.9 557.0 L857.7 558.2 L858.5 559.5 L859.3 560.6 L860.1 561.5 L860.9 561.7 L861.7 561.7 L862.5 561.6 L863.3 561.5 L864.1 561.4 L864.9 561.2 L865.7 561.1 L866.5 561.0 L867.3 561.1 L868.1 561.4 L868.9 562.0 L869.7 562.7 L870.5 563.3 L871.3 563.8 L872.1 564.0 L872.9 564.0 L873.7 564.0 L874.5 564.0 L875.3 563.9 L876.1 563.8 L876.9 563.6 L877.7 563.5 L878.5 563.6 L879.3 563.9 L880.1 564.4 L880.9 564.9 L881.7 565.4 L882.5 565.6 L883.3 565.5 L884.1 565.2 L884.9 564.9 L885.7 564.7 L886.5 564.7 L887.3 564.8 L888.1 564.9 L888.9 565.3 L889.7 565.9 L890.5 566.9 L891.3 568.0 L892.1 569.1 L892.9 569.8 L893.7 570.1 L894.5 570.1 L895.3 570.0 L896.1 569.9 L896.9 569.9 L897.7 569.9 L898.5 569.8 L899.3 569.7 L900.1 569.7 L900.9 569.8 L901.7 570.0 L902.5 570.4 L903.3 570.9 L904.1 571.3 L904.9 571.6 L905.7 571.8 L906.5 571.8 L907.3 571.7 L908.1 571.8 L908.9 571.9 L909.7 571.9 L910.5 571.9 L911.3 572.0 L912.1 572.1 L912.9 572.4 L913.7 573.0 L914.5 573.6 L915.3 574.0 L916.1 574.2 L916.9 574.1 L917.7 573.9 L918.5 573.7 L919.3 573.4 L920.1 573.3 L920.9 573.0 L921.7 572.7 L922.5 572.5 L923.3 572.4 L924.1 572.6 L924.9 573.0 L925.7 573.4 L926.5 573.6 L927.3 573.7 L928.1 573.7 L928.9 573.7 L929.7 573.7 L930.5 573.9 L931.3 574.0 L932.1 573.9 L932.9 573.8 L933.7 573.9 L934.5 574.2 L935.3 574.9 L936.1 575.8 L936.9 576.7 L937.7 577.3 L938.5 577.7 L939.3 577.8 L940.1 577.8 L940.9 578.0 L941.7 578.3 L942.5 578.5 L943.3 578.6 L944.1 578.5 L944.9 578.4 L945.7 578.5 L946.5 579.0 L947.3 579.6 L948.1 580.3 L948.9 580.9 L949.7 581.3 L950.5 581.4 L951.3 581.5 L952.1 581.5 L952.9 581.7 L953.7 582.1 L954.5 582.7 L955.3 583.2 L956.1 583.5 L956.9 583.6 L957.7 583.8 L958.5 584.3 L959.3 585.0 L960.1 585.7 L960.9 586.2 L961.7 586.4 L962.5 586.3 L963.3 586.1 L964.1 586.3 L964.9 586.6 L965.7 587.1 L966.5 587.5 L967.3 587.8 L968.1 588.1 L968.9 588.7 L969.7 589.5 L970.5 590.4 L971.3 591.1 L972.1 591.6 L972.9 591.8 L973.7 591.8 L974.5 591.8 L975.3 591.9 L976.1 592.0 L976.9 592.3 L977.7 592.6 L978.5 592.8 L979.3 593.0 L980.1 593.1 L980.9 593.3 L981.7 593.6 L982.5 594.1 L983.3 594.6 L984.1 595.0 L984.9 595.3 L985.7 595.5 L986.5 595.5 L987.3 595.4 L988.1 595.4 L988.9 595.3 L989.7 595.4 L990.5 595.5 L991.3 595.5 L992.1 595.6 L992.9 595.7 L993.7 595.7 L994.5 595.8 L995.3 595.9 L996.1 596.0 L996.9 596.2 L997.7 596.5 L998.5 596.7 L999.3 596.9 L1000.1 597.0 L1000.9 597.0 L1001.7 597.0 L1002.5 597.0 L1003.3 596.9 L1004.1 596.9 L1004.9 596.8 L1005.7 596.8 L1006.5 596.8 L1007.3 596.7 L1008.1 596.7 L1008.9 596.7 L1009.7 596.6 L1010.5 596.6 L1011.3 596.5 L1012.1 596.5 L1012.9 596.5 L1013.7 596.7 L1014.5 597.0 L1015.3 597.3 L1016.1 597.8 L1016.9 598.2 L1017.7 598.5 L1018.5 598.8" stroke="#a52a2a" stroke-width="3"/>
<g fill="#a52a2a" stroke="none"><circle cx="96.8" cy="606.5" r="2.5"/><circle cx="104.2" cy="604.8" r="2.5"/><circle cx="118.0" cy="605.2" r="2.5"/><circle cx="125.5" cy="603.5" r="2.5"/><circle cx="138.0" cy="605.2" r="2.5"/><circle cx="145.0" cy="607.2" r="2.5"/><circle cx="158.5" cy="608.5" r="2.5"/><circle cx="166.2" cy="606.8" r="2.5"/><circle cx="176.8" cy="605.5" r="2.5"/><circle cx="183.8" cy="608.0" r="2.5"/><circle cx="197.5" cy="608.0" r="2.5"/><circle cx="205.5" cy="607.0" r="2.5"/><circle cx="216.8" cy="612.8" r="2.5"/><circle cx="231.2" cy="579.0" r="2.5"/><circle cx="238.0" cy="597.8" r="2.5"/><circle cx="243.5" cy="602.2" r="2.5"/><circle cx="249.8" cy="611.5" r="2.5"/><circle cx="254.8" cy="607.8" r="2.5"/><circle cx="261.0" cy="607.8" r="2.5"/><circle cx="266.2" cy="611.0" r="2.5"/><circle cx="272.2" cy="618.5" r="2.5"/><circle cx="277.5" cy="620.2" r="2.5"/><circle cx="283.5" cy="612.8" r="2.5"/><circle cx="289.2" cy="601.0" r="2.5"/><circle cx="295.0" cy="604.8" r="2.5"/><circle cx="301.0" cy="602.2" r="2.5"/><circle cx="306.8" cy="604.0" r="2.5"/><circle cx="312.2" cy="603.5" r="2.5"/><circle cx="318.5" cy="596.5" r="2.5"/><circle cx="323.8" cy="587.2" r="2.5"/><circle cx="329.8" cy="591.8" r="2.5"/><circle cx="335.0" cy="599.2" r="2.5"/><circle cx="341.0" cy="600.5" r="2.5"/><circle cx="347.8" cy="593.5" r="2.5"/><circle cx="353.5" cy="596.8" r="2.5"/><circle cx="359.0" cy="604.8" r="2.5"/><circle cx="365.2" cy="603.5" r="2.5"/><circle cx="370.8" cy="594.8" r="2.5"/><circle cx="377.0" cy="593.0" r="2.5"/><circle cx="382.2" cy="599.2" r="2.5"/><circle cx="389.0" cy="598.0" r="2.5"/><circle cx="394.0" cy="599.0" r="2.5"/><circle cx="400.8" cy="611.0" r="2.5"/><circle cx="405.2" cy="619.8" r="2.5"/><circle cx="412.0" cy="614.2" r="2.5"/><circle cx="417.2" cy="609.0" r="2.5"/><circle cx="424.0" cy="611.8" r="2.5"/><circle cx="429.5" cy="622.2" r="2.5"/><circle cx="436.0" cy="620.5" r="2.5"/><circle cx="441.0" cy="599.8" r="2.5"/><circle cx="447.8" cy="611.0" r="2.5"/><circle cx="453.2" cy="617.8" r="2.5"/><circle cx="459.8" cy="607.2" r="2.5"/><circle cx="465.8" cy="604.8" r="2.5"/><circle cx="472.8" cy="602.2" r="2.5"/><circle cx="479.0" cy="633.5" r="2.5"/><circle cx="484.5" cy="623.5" r="2.5"/><circle cx="489.8" cy="611.0" r="2.5"/><circle cx="498.2" cy="598.0" r="2.5"/><circle cx="503.5" cy="612.2" r="2.5"/><circle cx="512.0" cy="603.5" r="2.5"/><circle cx="521.0" cy="609.8" r="2.5"/><circle cx="529.0" cy="605.2" r="2.5"/><circle cx="537.8" cy="610.2" r="2.5"/><circle cx="546.5" cy="606.8" r="2.5"/><circle cx="554.0" cy="606.8" r="2.5"/><circle cx="567.2" cy="606.8" r="2.5"/><circle cx="575.2" cy="609.2" r="2.5"/><circle cx="585.2" cy="606.0" r="2.5"/><circle cx="594.0" cy="607.2" r="2.5"/><circle cx="605.5" cy="608.5" r="2.5"/><circle cx="615.5" cy="609.2" r="2.5"/><circle cx="623.8" cy="606.8" r="2.5"/><circle cx="634.5" cy="605.5" r="2.5"/><circle cx="644.5" cy="607.8" r="2.5"/><circle cx="653.0" cy="606.8" r="2.5"/><circle cx="661.8" cy="607.8" r="2.5"/><circle cx="670.5" cy="608.5" r="2.5"/><circle cx="680.0" cy="612.2" r="2.5"/><circle cx="691.8" cy="582.8" r="2.5"/><circle cx="697.5" cy="596.0" r="2.5"/><circle cx="708.8" cy="597.8" r="2.5"/><circle cx="714.2" cy="603.5" r="2.5"/><circle cx="720.0" cy="600.5" r="2.5"/><circle cx="725.0" cy="595.2" r="2.5"/><circle cx="730.5" cy="597.2" r="2.5"/><circle cx="736.8" cy="606.8" r="2.5"/><circle cx="742.5" cy="611.0" r="2.5"/><circle cx="747.5" cy="607.2" r="2.5"/><circle cx="758.2" cy="620.5" r="2.5"/><circle cx="764.2" cy="624.0" r="2.5"/><circle cx="770.0" cy="613.0" r="2.5"/><circle cx="776.2" cy="621.8" r="2.5"/><circle cx="781.8" cy="630.2" r="2.5"/><circle cx="788.8" cy="631.5" r="2.5"/><circle cx="793.0" cy="627.8" r="2.5"/><circle cx="798.8" cy="612.8" r="2.5"/><circle cx="803.8" cy="619.8" r="2.5"/><circle cx="810.5" cy="605.2" r="2.5"/><circle cx="816.8" cy="611.0" r="2.5"/><circle cx="823.8" cy="599.2" r="2.5"/><circle cx="831.8" cy="607.2" r="2.5"/><circle cx="840.0" cy="605.5" r="2.5"/><circle cx="850.0" cy="610.5" r="2.5"/><circle cx="857.5" cy="606.0" r="2.5"/><circle cx="868.0" cy="607.2" r="2.5"/><circle cx="876.8" cy="606.8" r="2.5"/><circle cx="883.0" cy="607.2" r="2.5"/><circle cx="896.2" cy="606.8" r="2.5"/><circle cx="905.5" cy="607.8" r="2.5"/><circle cx="913.0" cy="607.8" r="2.5"/><circle cx="921.8" cy="609.2" r="2.5"/><circle cx="933.8" cy="607.8" r="2.5"/><circle cx="944.2" cy="607.8" r="2.5"/><circle cx="954.2" cy="608.5" r="2.5"/><circle cx="960.5" cy="606.5" r="2.5"/><circle cx="975.0" cy="605.2" r="2.5"/><circle cx="984.2" cy="608.5" r="2.5"/><circle cx="994.2" cy="604.2" r="2.5"/></g>
</g>
<rect x="90.0" y="480.5" width="929.7" height="330.8" fill="none" stroke="#000" stroke-width="1.4"/>
<text x="662.5" y="686.2" font-size="14.6" text-anchor="end">acceleration</text>
<line x1="672.5" y1="681.5" x2="714.2" y2="681.5" stroke="#000" stroke-width="1.2"/>
<text x="662.5" y="701.2" font-size="14.6" text-anchor="end">mean (interval window)</text>
<line x1="672.5" y1="696.5" x2="714.2" y2="696.5" stroke="#f00" stroke-width="3"/>
<text x="662.5" y="715.7" font-size="14.6" text-anchor="end">mean (sliding window)</text>
<line x1="672.5" y1="711.0" x2="714.2" y2="711.0" stroke="#00f" stroke-width="3.4"/>
<text x="662.5" y="730.2" font-size="14.6" text-anchor="end">threshold (interval window)</text>
<line x1="672.5" y1="725.5" x2="714.2" y2="725.5" stroke="#0f0" stroke-width="3"/>
<text x="662.5" y="745.0" font-size="14.6" text-anchor="end">threshold (sliding window)</text>
<line x1="672.5" y1="740.2" x2="714.2" y2="740.2" stroke="#a52a2a" stroke-width="3"/>
<text x="662.5" y="760.0" font-size="14.6" text-anchor="end">step average</text>
<circle cx="693.4" cy="755.2" r="2.5" fill="#a52a2a"/>
<text x="165.0" y="798.1" font-size="15.3" text-anchor="middle">Walking</text>
<text x="366.0" y="798.1" font-size="15.3" text-anchor="middle">Running</text>
<text x="594.0" y="798.1" font-size="15.3" text-anchor="middle">Walking</text>
<text x="756.2" y="798.1" font-size="15.3" text-anchor="middle">Running</text>
<text x="924.2" y="798.1" font-size="15.3" text-anchor="middle">Walking</text>
<text x="554.9" y="870.8" font-size="20.9" text-anchor="middle">time (sec)</text>
<text x="553.3" y="909.0" font-size="20.5" text-anchor="middle" font-family='"DejaVu Sans Mono", "Liberation Mono", monospace'>(b)</text>
<text transform="translate(26.3 644.9) rotate(-90)" font-size="20.8" text-anchor="middle">magnitude of acceleration (m/s<tspan font-size="16.6" dy="-10.3">2</tspan><tspan dy="10.3">)</tspan></text>
<clipPath id="cc"><rect x="82.5" y="950.2" width="937.2" height="329.6"/></clipPath>
<text x="104.5" y="1307.8" font-size="20" text-anchor="middle">5</text>
<text x="215.1" y="1307.8" font-size="20" text-anchor="middle">10</text>
<text x="325.8" y="1307.8" font-size="20" text-anchor="middle">15</text>
<text x="436.4" y="1307.8" font-size="20" text-anchor="middle">20</text>
<text x="547.0" y="1307.8" font-size="20" text-anchor="middle">25</text>
<text x="657.6" y="1307.8" font-size="20" text-anchor="middle">30</text>
<text x="768.2" y="1307.8" font-size="20" text-anchor="middle">35</text>
<text x="878.9" y="1307.8" font-size="20" text-anchor="middle">40</text>
<text x="989.5" y="1307.8" font-size="20" text-anchor="middle">45</text>
<text x="69.5" y="1239.4" font-size="20" text-anchor="end">8</text>
<text x="69.5" y="1145.4" font-size="20" text-anchor="end">9</text>
<text x="69.5" y="1051.4" font-size="20" text-anchor="end">10</text>
<text x="69.5" y="957.4" font-size="20" text-anchor="end">11</text>
<path d="M104.5 1279.8 v-7 M104.5 950.2 v7 M215.1 1279.8 v-7 M215.1 950.2 v7 M325.8 1279.8 v-7 M325.8 950.2 v7 M436.4 1279.8 v-7 M436.4 950.2 v7 M547.0 1279.8 v-7 M547.0 950.2 v7 M657.6 1279.8 v-7 M657.6 950.2 v7 M768.2 1279.8 v-7 M768.2 950.2 v7 M878.9 1279.8 v-7 M878.9 950.2 v7 M989.5 1279.8 v-7 M989.5 950.2 v7 M82.5 1232.2 h7 M1019.7 1232.2 h-7 M82.5 1138.2 h7 M1019.7 1138.2 h-7 M82.5 1044.2 h7 M1019.7 1044.2 h-7 M82.5 950.2 h7 M1019.7 950.2 h-7" stroke="#000" stroke-width="1.2" fill="none"/>
<rect x="494.5" y="1139.2" width="251.5" height="101.5" fill="#fff" stroke="#000" stroke-width="3"/>
<g clip-path="url(#cc)" fill="none" stroke-linejoin="round">
<line x1="82.5" y1="1252.0" x2="303.8" y2="1252.0" stroke="#9400d3" stroke-width="2.2"/><polygon points="82.5,1252.0 96.3,1247.0 96.3,1257.0" fill="#9400d3"/><polygon points="303.8,1252.0 289.9,1247.0 289.9,1257.0" fill="#9400d3"/>
<line x1="303.8" y1="1252.0" x2="450.2" y2="1252.0" stroke="#9400d3" stroke-width="2.2"/><polygon points="303.8,1252.0 317.6,1247.0 317.6,1257.0" fill="#9400d3"/><polygon points="450.2,1252.0 436.4,1247.0 436.4,1257.0" fill="#9400d3"/>
<line x1="450.2" y1="1252.0" x2="657.8" y2="1252.0" stroke="#9400d3" stroke-width="2.2"/><polygon points="450.2,1252.0 464.1,1247.0 464.1,1257.0" fill="#9400d3"/><polygon points="657.8,1252.0 644.0,1247.0 644.0,1257.0" fill="#9400d3"/>
<line x1="657.8" y1="1252.0" x2="834.4" y2="1252.0" stroke="#9400d3" stroke-width="2.2"/><polygon points="657.8,1252.0 671.5,1247.0 671.5,1257.0" fill="#9400d3"/><polygon points="834.4,1252.0 820.6,1247.0 820.6,1257.0" fill="#9400d3"/>
<line x1="834.4" y1="1252.0" x2="1019.2" y2="1252.0" stroke="#9400d3" stroke-width="2.2"/><polygon points="834.4,1252.0 848.2,1247.0 848.2,1257.0" fill="#9400d3"/><polygon points="1019.2,1252.0 1005.4,1247.0 1005.4,1257.0" fill="#9400d3"/>
<path d="M82.5 1066.5 L82.9 1063.3 L83.3 1054.3 L83.8 1041.5 L84.2 1027.3 L84.6 1014.2 L85.0 1004.0 L85.4 1014.3 L85.8 1026.3 L86.2 1039.9 L86.6 1054.7 L87.1 1070.4 L87.5 1086.6 L87.9 1102.5 L88.3 1117.9 L88.7 1132.0 L89.1 1144.3 L89.5 1154.5 L89.9 1162.0 L90.3 1166.7 L90.8 1168.2 L91.2 1165.9 L91.6 1159.1 L92.0 1148.4 L92.5 1134.5 L92.9 1118.5 L93.3 1101.6 L93.7 1084.7 L94.2 1069.0 L94.6 1055.3 L95.0 1044.0 L95.4 1043.4 L95.8 1042.8 L96.2 1038.2 L96.6 1026.8 L97.1 1013.3 L97.5 1002.8 L97.9 1012.4 L98.3 1023.7 L98.7 1036.5 L99.1 1050.4 L99.6 1065.1 L100.0 1080.3 L100.4 1095.3 L100.8 1109.7 L101.2 1122.9 L101.6 1134.5 L102.0 1144.1 L102.4 1151.2 L102.8 1155.5 L103.2 1157.0 L103.7 1155.7 L104.0 1151.7 L104.5 1145.3 L104.8 1136.6 L105.2 1125.9 L105.7 1113.7 L106.0 1100.2 L106.5 1085.9 L106.8 1071.3 L107.2 1056.7 L107.7 1042.6 L108.0 1029.4 L108.5 1017.3 L108.8 1006.5 L109.2 997.2 L109.7 1007.0 L110.1 1018.3 L110.5 1031.1 L110.9 1045.0 L111.3 1059.8 L111.8 1075.1 L112.2 1090.5 L112.6 1105.5 L113.0 1119.7 L113.4 1132.6 L113.8 1143.8 L114.2 1152.9 L114.7 1159.7 L115.1 1163.8 L115.5 1165.2 L115.9 1163.2 L116.3 1157.2 L116.8 1147.5 L117.2 1134.6 L117.6 1119.3 L118.0 1102.2 L118.4 1084.3 L118.8 1066.4 L119.2 1049.2 L119.7 1033.3 L120.1 1019.4 L120.5 1007.8 L120.9 1016.0 L121.3 1025.6 L121.8 1036.4 L122.2 1048.2 L122.6 1060.8 L123.0 1073.8 L123.4 1086.8 L123.8 1099.6 L124.2 1111.6 L124.7 1122.5 L125.1 1132.1 L125.5 1139.8 L125.9 1145.5 L126.3 1149.1 L126.8 1150.2 L127.2 1148.8 L127.6 1144.5 L128.0 1137.4 L128.4 1128.0 L128.8 1116.5 L129.2 1103.3 L129.6 1089.0 L130.0 1074.2 L130.4 1059.1 L130.9 1044.5 L131.3 1030.7 L131.7 1018.0 L132.1 1006.8 L132.5 997.2 L132.9 1006.3 L133.3 1016.8 L133.8 1028.6 L134.2 1041.4 L134.6 1055.1 L135.0 1069.3 L135.4 1083.5 L135.8 1097.4 L136.2 1110.6 L136.7 1122.5 L137.1 1132.9 L137.5 1141.4 L137.9 1147.6 L138.3 1151.5 L138.8 1152.8 L139.2 1151.6 L139.6 1148.2 L140.0 1142.6 L140.4 1135.2 L140.8 1126.1 L141.2 1115.7 L141.6 1104.5 L142.0 1092.7 L142.4 1080.8 L142.9 1069.3 L143.3 1058.4 L143.7 1048.4 L144.1 1039.6 L144.5 1032.0 L144.9 1037.4 L145.3 1043.6 L145.8 1050.6 L146.2 1058.2 L146.6 1066.3 L147.0 1074.7 L147.5 1083.2 L147.9 1091.7 L148.3 1099.9 L148.7 1107.5 L149.1 1114.3 L149.6 1120.3 L150.0 1125.1 L150.4 1128.6 L150.8 1130.8 L151.2 1131.5 L151.7 1129.8 L152.1 1124.7 L152.5 1116.5 L152.9 1105.6 L153.3 1092.7 L153.8 1078.3 L154.2 1063.2 L154.6 1048.0 L155.0 1033.5 L155.4 1020.1 L155.8 1008.4 L156.2 998.5 L156.7 1007.5 L157.1 1018.0 L157.5 1029.8 L157.9 1042.7 L158.3 1056.4 L158.8 1070.5 L159.2 1084.8 L159.6 1098.7 L160.0 1111.8 L160.4 1123.8 L160.8 1134.1 L161.2 1142.6 L161.7 1148.9 L162.1 1152.7 L162.5 1154.0 L162.9 1153.2 L163.3 1151.0 L163.7 1147.3 L164.1 1142.3 L164.6 1136.1 L165.0 1128.9 L165.4 1120.8 L165.8 1112.0 L166.2 1102.9 L166.6 1093.5 L167.0 1084.1 L167.4 1074.9 L167.9 1066.2 L168.3 1057.9 L168.7 1050.4 L169.1 1043.7 L169.5 1037.8 L169.9 1047.5 L170.3 1059.4 L170.8 1073.0 L171.2 1087.6 L171.6 1102.2 L172.1 1116.1 L172.5 1128.1 L172.9 1137.4 L173.3 1143.2 L173.8 1145.2 L174.2 1144.1 L174.6 1140.7 L175.0 1135.1 L175.4 1127.6 L175.8 1118.5 L176.2 1108.1 L176.6 1096.8 L177.0 1084.9 L177.4 1073.0 L177.9 1061.5 L178.3 1050.5 L178.7 1040.5 L179.1 1031.6 L179.5 1024.0 L179.9 1030.9 L180.3 1038.9 L180.8 1047.8 L181.2 1057.5 L181.6 1067.9 L182.0 1078.7 L182.5 1089.7 L182.9 1100.5 L183.3 1111.0 L183.7 1120.7 L184.1 1129.5 L184.6 1137.1 L185.0 1143.3 L185.4 1147.8 L185.8 1150.6 L186.2 1151.5 L186.7 1150.6 L187.1 1148.1 L187.5 1144.0 L187.9 1138.4 L188.3 1131.6 L188.8 1123.7 L189.2 1115.0 L189.6 1105.9 L190.0 1096.5 L190.4 1087.2 L190.8 1078.1 L191.2 1069.6 L191.7 1061.9 L192.1 1055.0 L192.5 1049.0 L192.9 1055.3 L193.3 1062.8 L193.8 1071.3 L194.2 1080.6 L194.6 1090.3 L195.0 1100.0 L195.4 1109.2 L195.8 1117.5 L196.2 1124.4 L196.7 1129.6 L197.1 1132.9 L197.5 1134.0 L197.9 1132.8 L198.3 1129.4 L198.7 1123.8 L199.1 1116.3 L199.6 1107.2 L200.0 1096.8 L200.4 1085.5 L200.8 1073.7 L201.2 1061.8 L201.6 1050.2 L202.0 1039.2 L202.4 1029.2 L202.8 1020.3 L203.2 1012.8 L203.7 1020.5 L204.1 1029.5 L204.5 1039.7 L204.9 1050.8 L205.3 1062.5 L205.8 1074.7 L206.2 1087.0 L206.6 1098.9 L207.0 1110.2 L207.4 1120.5 L207.8 1129.4 L208.2 1136.7 L208.7 1142.1 L209.1 1145.4 L209.5 1146.5 L209.9 1145.3 L210.3 1141.9 L210.8 1136.3 L211.2 1128.8 L211.6 1119.5 L212.0 1108.9 L212.4 1097.1 L212.8 1084.7 L213.2 1072.0 L213.7 1059.4 L214.1 1047.2 L214.5 1035.7 L214.9 1025.2 L215.3 1015.8 L215.8 1007.8 L216.2 1015.3 L216.6 1024.1 L216.9 1033.9 L217.3 1044.7 L217.8 1056.1 L218.2 1068.0 L218.6 1079.9 L218.9 1091.5 L219.3 1102.5 L219.8 1112.5 L220.2 1121.1 L220.6 1128.2 L220.9 1133.5 L221.3 1136.7 L221.8 1137.8 L222.2 1136.7 L222.6 1133.6 L223.0 1128.6 L223.4 1121.8 L223.8 1113.6 L224.2 1104.2 L224.6 1094.0 L225.0 1083.3 L225.4 1072.5 L225.9 1062.1 L226.3 1052.2 L226.7 1043.1 L227.1 1035.1 L227.5 1028.2 L227.9 1033.1 L228.3 1038.7 L228.8 1044.8 L229.2 1051.5 L229.6 1058.7 L230.0 1066.2 L230.4 1073.9 L230.8 1081.7 L231.2 1089.5 L231.7 1096.9 L232.1 1103.9 L232.5 1110.4 L232.9 1116.2 L233.3 1121.1 L233.8 1125.0 L234.2 1127.9 L234.6 1129.7 L235.0 1130.2 L235.4 1129.5 L235.8 1127.2 L236.2 1123.4 L236.6 1118.4 L237.1 1112.3 L237.5 1105.3 L237.9 1097.8 L238.3 1089.8 L238.7 1081.9 L239.1 1074.1 L239.5 1066.8 L239.9 1060.0 L240.3 1054.1 L240.8 1049.0 L241.2 1055.8 L241.6 1063.8 L242.0 1072.9 L242.4 1082.8 L242.9 1093.2 L243.3 1103.8 L243.7 1114.1 L244.1 1123.7 L244.6 1132.3 L245.0 1139.3 L245.4 1144.6 L245.8 1147.9 L246.2 1149.0 L246.7 1148.1 L247.1 1145.4 L247.5 1141.0 L247.9 1135.1 L248.3 1127.9 L248.8 1119.5 L249.2 1110.3 L249.6 1100.6 L250.0 1090.6 L250.4 1080.7 L250.8 1071.2 L251.2 1062.1 L251.7 1053.9 L252.1 1046.6 L252.5 1040.2 L252.9 1047.0 L253.3 1055.0 L253.8 1064.1 L254.2 1074.0 L254.6 1084.5 L255.0 1095.0 L255.5 1105.3 L255.9 1115.0 L256.3 1123.5 L256.7 1130.6 L257.2 1135.9 L257.6 1139.1 L258.0 1140.2 L258.4 1139.3 L258.8 1136.6 L259.2 1132.1 L259.7 1126.0 L260.1 1118.6 L260.5 1110.1 L260.9 1100.7 L261.3 1090.7 L261.8 1080.5 L262.2 1070.4 L262.6 1060.6 L263.0 1051.4 L263.4 1043.0 L263.8 1035.5 L264.2 1029.0 L264.7 1035.3 L265.1 1042.6 L265.5 1050.8 L265.9 1059.8 L266.3 1069.3 L266.7 1079.2 L267.1 1089.2 L267.5 1099.2 L267.9 1108.8 L268.3 1117.8 L268.7 1125.8 L269.1 1132.8 L269.5 1138.4 L269.9 1142.6 L270.3 1145.1 L270.8 1146.0 L271.2 1144.8 L271.6 1141.4 L272.0 1135.8 L272.4 1128.3 L272.9 1119.3 L273.3 1109.1 L273.7 1098.2 L274.1 1087.0 L274.6 1076.0 L275.0 1065.5 L275.4 1055.9 L275.8 1047.4 L276.2 1040.2 L276.7 1045.8 L277.1 1052.3 L277.5 1059.6 L277.9 1067.7 L278.3 1076.2 L278.7 1084.9 L279.1 1093.5 L279.5 1101.8 L279.9 1109.4 L280.4 1116.1 L280.8 1121.6 L281.2 1125.6 L281.6 1128.2 L282.0 1129.0 L282.4 1127.7 L282.8 1123.8 L283.3 1117.5 L283.7 1109.1 L284.1 1099.0 L284.5 1087.6 L285.0 1075.3 L285.4 1062.8 L285.8 1050.4 L286.2 1038.6 L286.7 1027.8 L287.1 1018.3 L287.5 1010.2 L287.9 1016.6 L288.3 1024.0 L288.8 1032.3 L289.2 1041.3 L289.6 1050.9 L290.0 1060.9 L290.5 1071.0 L290.9 1081.0 L291.3 1090.7 L291.7 1099.8 L292.1 1107.9 L292.6 1114.9 L293.0 1120.6 L293.4 1124.8 L293.8 1127.4 L294.2 1128.2 L294.7 1127.3 L295.1 1124.3 L295.5 1119.6 L295.9 1113.2 L296.3 1105.4 L296.7 1096.5 L297.1 1086.8 L297.5 1076.8 L297.9 1066.6 L298.4 1056.7 L298.8 1047.4 L299.2 1038.8 L299.6 1031.2 L300.0 1024.8 L300.4 1030.9 L300.8 1038.2 L301.2 1046.3 L301.6 1055.3 L302.1 1064.7 L302.5 1074.4 L302.9 1084.0 L303.3 1093.2 L303.7 1101.7 L304.1 1109.1 L304.5 1115.2 L304.9 1119.8 L305.3 1122.6 L305.8 1123.5 L306.2 1121.7 L306.6 1116.5 L307.0 1108.0 L307.4 1096.7 L307.9 1083.1 L308.3 1067.7 L308.7 1051.2 L309.1 1034.2 L309.6 1017.6 L310.0 1001.7 L310.4 987.2 L310.8 974.4 L311.2 963.5 L311.7 974.1 L312.1 987.9 L312.5 1002.8 L312.9 1016.3 L313.3 1025.6 L313.8 1029.0 L314.1 1028.4 L314.5 1027.8 L314.9 1043.9 L315.4 1064.4 L315.8 1087.4 L316.2 1110.1 L316.6 1129.2 L317.1 1142.0 L317.5 1146.5 L317.9 1144.7 L318.3 1139.5 L318.8 1131.0 L319.2 1119.9 L319.6 1106.5 L320.0 1091.7 L320.4 1076.1 L320.8 1060.5 L321.2 1045.5 L321.7 1031.8 L322.1 1019.7 L322.5 1009.5 L322.9 1015.8 L323.3 1023.0 L323.8 1031.1 L324.2 1039.9 L324.6 1049.3 L325.0 1059.2 L325.5 1069.1 L325.9 1079.0 L326.3 1088.4 L326.7 1097.3 L327.1 1105.3 L327.6 1112.2 L328.0 1117.8 L328.4 1121.9 L328.8 1124.4 L329.2 1125.2 L329.7 1124.0 L330.1 1120.1 L330.5 1113.9 L330.9 1105.6 L331.3 1095.4 L331.7 1083.8 L332.1 1071.2 L332.5 1058.1 L332.9 1044.9 L333.4 1031.9 L333.8 1019.7 L334.2 1008.6 L334.6 998.7 L335.0 990.2 L335.4 999.8 L335.8 1011.2 L336.2 1024.0 L336.6 1038.0 L337.0 1052.7 L337.4 1067.6 L337.8 1082.2 L338.2 1095.8 L338.6 1107.8 L339.0 1117.8 L339.4 1125.3 L339.8 1129.9 L340.2 1131.5 L340.7 1130.1 L341.1 1126.0 L341.5 1119.3 L341.9 1110.3 L342.3 1099.4 L342.7 1086.9 L343.1 1073.3 L343.5 1059.1 L343.9 1044.9 L344.4 1030.9 L344.8 1017.8 L345.2 1005.8 L345.6 995.1 L346.0 986.0 L346.4 994.1 L346.8 1003.5 L347.2 1014.0 L347.7 1025.6 L348.1 1037.8 L348.5 1050.5 L348.9 1063.3 L349.3 1075.7 L349.8 1087.5 L350.2 1098.2 L350.6 1107.5 L351.0 1115.0 L351.4 1120.6 L351.8 1124.1 L352.2 1125.2 L352.7 1123.9 L353.1 1119.7 L353.5 1113.1 L353.9 1104.2 L354.4 1093.5 L354.8 1081.4 L355.2 1068.4 L355.6 1055.1 L356.1 1042.0 L356.5 1029.5 L356.9 1018.1 L357.3 1008.0 L357.8 999.5 L358.2 1008.6 L358.6 1019.3 L359.0 1031.3 L359.4 1044.5 L359.8 1058.5 L360.2 1072.8 L360.6 1087.0 L361.0 1100.5 L361.4 1113.1 L361.9 1124.0 L362.3 1133.0 L362.7 1139.7 L363.1 1143.9 L363.5 1145.2 L363.9 1143.8 L364.3 1139.4 L364.7 1132.2 L365.1 1122.6 L365.6 1110.9 L366.0 1097.6 L366.4 1083.0 L366.8 1067.9 L367.2 1052.7 L367.6 1037.8 L368.0 1023.7 L368.4 1010.9 L368.8 999.5 L369.2 989.8 L369.7 997.3 L370.1 1006.0 L370.5 1015.8 L370.9 1026.5 L371.3 1037.9 L371.8 1049.6 L372.2 1061.5 L372.6 1073.0 L373.0 1083.9 L373.4 1093.9 L373.8 1102.5 L374.2 1109.5 L374.7 1114.7 L375.1 1117.9 L375.5 1119.0 L375.9 1117.4 L376.3 1112.8 L376.8 1105.4 L377.2 1095.6 L377.6 1083.8 L378.0 1070.8 L378.4 1057.1 L378.8 1043.4 L379.2 1030.2 L379.7 1018.1 L380.1 1007.4 L380.5 998.5 L380.9 1007.0 L381.3 1017.0 L381.8 1028.3 L382.2 1040.7 L382.6 1053.8 L383.0 1067.0 L383.5 1079.9 L383.9 1091.9 L384.3 1102.6 L384.7 1111.4 L385.2 1118.0 L385.6 1122.1 L386.0 1123.5 L386.4 1122.6 L386.8 1119.9 L387.2 1115.6 L387.6 1109.7 L388.0 1102.5 L388.4 1094.1 L388.8 1085.0 L389.2 1075.3 L389.6 1065.4 L390.0 1055.5 L390.4 1046.0 L390.8 1037.0 L391.2 1028.8 L391.6 1021.5 L392.0 1015.2 L392.4 1014.7 L392.8 1013.3 L393.2 1011.5 L393.6 1010.0 L394.0 1009.5 L394.4 1007.8 L394.8 1002.9 L395.2 995.4 L395.6 986.1 L396.0 976.1 L396.4 966.4 L396.8 957.8 L397.2 951.0 L397.7 960.1 L398.1 970.7 L398.5 982.6 L398.9 995.5 L399.3 1009.3 L399.8 1023.6 L400.2 1038.0 L400.6 1052.0 L401.0 1065.2 L401.4 1077.3 L401.8 1087.7 L402.2 1096.3 L402.7 1102.6 L403.1 1106.4 L403.5 1107.8 L403.9 1106.6 L404.3 1103.3 L404.8 1097.9 L405.2 1090.7 L405.6 1082.0 L406.0 1072.2 L406.5 1061.7 L406.9 1051.0 L407.3 1040.4 L407.7 1030.3 L408.2 1021.1 L408.6 1012.9 L409.0 1006.0 L409.4 1012.5 L409.8 1019.9 L410.2 1028.2 L410.6 1037.3 L411.0 1047.1 L411.4 1057.2 L411.8 1067.4 L412.2 1077.5 L412.7 1087.3 L413.1 1096.5 L413.5 1104.7 L413.9 1111.8 L414.3 1117.5 L414.7 1121.8 L415.1 1124.4 L415.5 1125.2 L415.9 1124.2 L416.3 1121.2 L416.8 1116.2 L417.2 1109.5 L417.6 1101.3 L418.0 1091.8 L418.4 1081.4 L418.8 1070.4 L419.2 1059.1 L419.7 1047.9 L420.1 1037.0 L420.5 1026.8 L420.9 1017.5 L421.3 1009.2 L421.8 1002.0 L422.2 1011.1 L422.6 1022.1 L423.0 1034.6 L423.5 1048.1 L423.9 1062.0 L424.3 1075.6 L424.8 1088.0 L425.2 1098.6 L425.6 1106.7 L426.1 1111.8 L426.5 1113.5 L426.9 1112.8 L427.3 1110.5 L427.7 1106.9 L428.1 1101.9 L428.6 1095.8 L429.0 1088.6 L429.4 1080.6 L429.8 1072.0 L430.2 1062.9 L430.6 1053.6 L431.0 1044.4 L431.4 1035.3 L431.9 1026.6 L432.3 1018.5 L432.7 1011.0 L433.1 1004.3 L433.5 998.5 L433.9 1006.3 L434.3 1015.6 L434.8 1026.2 L435.2 1037.8 L435.6 1049.8 L436.0 1061.8 L436.4 1073.2 L436.8 1083.5 L437.2 1092.1 L437.7 1098.6 L438.1 1102.6 L438.5 1104.0 L438.9 1102.6 L439.3 1098.5 L439.8 1092.0 L440.2 1083.3 L440.6 1073.0 L441.0 1061.5 L441.4 1049.4 L441.8 1037.3 L442.2 1025.7 L442.7 1015.0 L443.1 1005.6 L443.5 997.8 L443.9 1005.1 L444.3 1013.5 L444.7 1022.9 L445.1 1033.2 L445.6 1044.1 L446.0 1055.6 L446.4 1067.3 L446.8 1079.0 L447.2 1090.4 L447.6 1101.3 L448.0 1111.4 L448.4 1120.4 L448.9 1128.2 L449.3 1134.4 L449.7 1139.0 L450.1 1141.8 L450.5 1142.8 L450.9 1141.9 L451.3 1139.4 L451.8 1135.4 L452.2 1129.9 L452.6 1123.1 L453.0 1115.3 L453.5 1106.6 L453.9 1097.2 L454.3 1087.6 L454.7 1077.8 L455.1 1068.2 L455.6 1058.9 L456.0 1050.2 L456.4 1042.3 L456.8 1035.2 L457.2 1029.0 L457.7 1034.8 L458.1 1041.8 L458.5 1049.8 L458.9 1058.5 L459.3 1067.4 L459.7 1076.0 L460.1 1084.0 L460.5 1090.8 L460.9 1095.9 L461.3 1099.1 L461.8 1100.2 L462.2 1099.2 L462.6 1096.3 L463.0 1091.5 L463.4 1085.2 L463.8 1077.6 L464.2 1069.2 L464.7 1060.4 L465.1 1051.6 L465.5 1043.1 L465.9 1035.3 L466.3 1028.5 L466.8 1022.8 L467.2 1029.5 L467.6 1037.4 L468.0 1046.3 L468.4 1056.1 L468.9 1066.4 L469.3 1076.9 L469.7 1087.0 L470.1 1096.5 L470.6 1105.0 L471.0 1111.9 L471.4 1117.2 L471.8 1120.4 L472.2 1121.5 L472.7 1120.5 L473.1 1117.6 L473.5 1112.9 L473.9 1106.5 L474.3 1098.8 L474.7 1089.9 L475.1 1080.3 L475.5 1070.3 L475.9 1060.2 L476.4 1050.3 L476.8 1041.0 L477.2 1032.5 L477.6 1025.0 L478.0 1018.5 L478.4 1025.3 L478.8 1033.4 L479.3 1042.5 L479.7 1052.5 L480.1 1062.9 L480.5 1073.6 L481.0 1083.9 L481.4 1093.6 L481.8 1102.2 L482.2 1109.3 L482.7 1114.6 L483.1 1117.9 L483.5 1119.0 L483.9 1118.2 L484.3 1116.0 L484.7 1112.4 L485.1 1107.5 L485.6 1101.6 L486.0 1094.8 L486.4 1087.5 L486.8 1079.8 L487.2 1072.1 L487.6 1064.6 L488.0 1057.5 L488.4 1050.9 L488.8 1045.2 L489.2 1040.2 L489.7 1046.3 L490.1 1053.2 L490.5 1061.0 L490.9 1069.5 L491.4 1078.5 L491.8 1088.0 L492.2 1097.5 L492.6 1107.0 L493.0 1116.1 L493.5 1124.6 L493.9 1132.3 L494.3 1138.9 L494.7 1144.3 L495.2 1148.3 L495.6 1150.7 L496.0 1151.5 L496.4 1150.5 L496.8 1147.4 L497.2 1142.5 L497.6 1135.8 L498.1 1127.8 L498.5 1118.5 L498.9 1108.5 L499.3 1098.0 L499.7 1087.5 L500.1 1077.2 L500.5 1067.5 L500.9 1058.6 L501.3 1050.7 L501.8 1044.0 L502.2 1050.8 L502.6 1058.8 L503.0 1067.9 L503.4 1077.8 L503.9 1088.2 L504.3 1098.8 L504.7 1109.1 L505.1 1118.7 L505.6 1127.3 L506.0 1134.3 L506.4 1139.6 L506.8 1142.9 L507.2 1144.0 L507.7 1142.9 L508.1 1139.6 L508.5 1134.2 L508.9 1127.0 L509.4 1118.4 L509.8 1108.7 L510.2 1098.2 L510.6 1087.5 L511.1 1077.0 L511.5 1066.9 L511.9 1057.7 L512.3 1049.6 L512.8 1042.8 L513.2 1046.7 L513.6 1051.3 L514.0 1056.5 L514.4 1062.1 L514.8 1068.1 L515.2 1074.4 L515.6 1080.7 L516.0 1087.0 L516.4 1093.0 L516.8 1098.7 L517.2 1103.8 L517.6 1108.2 L518.0 1111.7 L518.4 1114.4 L518.8 1116.0 L519.2 1116.5 L519.7 1115.4 L520.1 1112.2 L520.5 1107.1 L520.9 1100.2 L521.4 1091.9 L521.8 1082.5 L522.2 1072.4 L522.6 1062.1 L523.1 1051.9 L523.5 1042.3 L523.9 1033.4 L524.3 1025.6 L524.8 1019.0 L525.2 1025.0 L525.6 1031.9 L526.0 1039.6 L526.4 1048.1 L526.8 1057.2 L527.2 1066.5 L527.7 1075.9 L528.1 1085.0 L528.5 1093.7 L528.9 1101.6 L529.3 1108.4 L529.8 1114.0 L530.2 1118.1 L530.6 1120.6 L531.0 1121.5 L531.4 1120.6 L531.8 1117.9 L532.2 1113.6 L532.6 1107.8 L533.1 1100.8 L533.5 1092.7 L533.9 1084.0 L534.3 1074.9 L534.7 1065.7 L535.1 1056.7 L535.5 1048.2 L535.9 1040.5 L536.3 1033.6 L536.8 1027.8 L537.2 1032.3 L537.6 1037.5 L538.0 1043.4 L538.4 1049.8 L538.8 1056.6 L539.2 1063.7 L539.7 1070.8 L540.1 1077.7 L540.5 1084.2 L540.9 1090.2 L541.3 1095.4 L541.8 1099.6 L542.2 1102.7 L542.6 1104.6 L543.0 1105.2 L543.4 1104.3 L543.8 1101.3 L544.3 1096.5 L544.7 1090.2 L545.1 1082.5 L545.5 1073.8 L546.0 1064.6 L546.4 1055.0 L546.8 1045.7 L547.2 1036.7 L547.7 1028.6 L548.1 1021.4 L548.5 1015.2 L548.9 1020.6 L549.3 1026.7 L549.8 1033.6 L550.2 1041.2 L550.6 1049.2 L551.0 1057.5 L551.4 1065.9 L551.8 1074.0 L552.2 1081.7 L552.7 1088.8 L553.1 1094.8 L553.5 1099.8 L553.9 1103.5 L554.3 1105.7 L554.8 1106.5 L555.2 1105.9 L555.6 1104.2 L556.0 1101.4 L556.4 1097.6 L556.8 1092.9 L557.2 1087.5 L557.7 1081.6 L558.1 1075.3 L558.5 1068.9 L558.9 1062.6 L559.3 1056.4 L559.8 1050.6 L560.2 1045.3 L560.6 1040.6 L561.0 1036.5 L561.4 1040.6 L561.8 1045.4 L562.2 1050.8 L562.7 1056.7 L563.1 1063.0 L563.5 1069.5 L563.9 1076.0 L564.3 1082.4 L564.8 1088.4 L565.2 1093.9 L565.6 1098.7 L566.0 1102.5 L566.4 1105.4 L566.8 1107.2 L567.2 1107.8 L567.7 1107.1 L568.1 1105.1 L568.5 1101.8 L568.9 1097.3 L569.4 1091.8 L569.8 1085.4 L570.2 1078.3 L570.6 1070.8 L571.0 1062.9 L571.5 1054.9 L571.9 1047.1 L572.3 1039.6 L572.7 1032.5 L573.2 1026.0 L573.6 1020.3 L574.0 1015.2 L574.4 1021.6 L574.8 1029.0 L575.2 1037.4 L575.6 1046.5 L576.1 1056.2 L576.5 1066.1 L576.9 1076.0 L577.3 1085.4 L577.7 1094.1 L578.1 1101.8 L578.5 1108.0 L578.9 1112.7 L579.3 1115.5 L579.8 1116.5 L580.2 1115.8 L580.6 1113.6 L581.0 1110.2 L581.4 1105.5 L581.8 1099.7 L582.2 1093.1 L582.7 1085.8 L583.1 1078.1 L583.5 1070.2 L583.9 1062.4 L584.3 1054.8 L584.8 1047.6 L585.2 1041.1 L585.6 1035.3 L586.0 1030.2 L586.4 1035.3 L586.8 1041.1 L587.2 1047.6 L587.6 1054.8 L588.0 1062.4 L588.4 1070.2 L588.8 1078.1 L589.2 1085.8 L589.6 1093.1 L590.0 1099.7 L590.4 1105.5 L590.8 1110.2 L591.2 1113.6 L591.6 1115.8 L592.0 1116.5 L592.4 1115.2 L592.8 1111.5 L593.2 1105.5 L593.7 1097.5 L594.1 1088.0 L594.5 1077.5 L594.9 1066.4 L595.3 1055.3 L595.8 1044.6 L596.2 1034.8 L596.6 1026.2 L597.0 1019.0 L597.4 1024.8 L597.8 1031.4 L598.2 1038.8 L598.6 1046.8 L599.1 1055.4 L599.5 1064.4 L599.9 1073.5 L600.3 1082.7 L600.7 1091.7 L601.1 1100.2 L601.5 1108.2 L601.9 1115.3 L602.4 1121.3 L602.8 1126.2 L603.2 1129.8 L603.6 1132.0 L604.0 1132.8 L604.4 1131.9 L604.8 1129.4 L605.3 1125.3 L605.7 1119.8 L606.1 1113.2 L606.5 1105.7 L607.0 1097.7 L607.4 1089.5 L607.8 1081.4 L608.2 1073.8 L608.7 1066.7 L609.1 1060.5 L609.5 1055.2 L609.9 1058.1 L610.3 1061.4 L610.7 1065.0 L611.1 1069.0 L611.6 1073.2 L612.0 1077.7 L612.4 1082.2 L612.8 1086.8 L613.2 1091.2 L613.6 1095.4 L614.0 1099.3 L614.4 1102.8 L614.9 1105.9 L615.3 1108.3 L615.7 1110.0 L616.1 1111.1 L616.5 1111.5 L616.9 1110.6 L617.3 1108.0 L617.8 1103.7 L618.2 1098.1 L618.6 1091.4 L619.0 1084.0 L619.4 1076.2 L619.8 1068.3 L620.2 1060.8 L620.7 1053.9 L621.1 1047.8 L621.5 1042.8 L621.9 1043.6 L622.3 1045.9 L622.7 1048.8 L623.1 1051.1 L623.5 1052.0 L623.9 1051.6 L624.3 1050.7 L624.8 1050.2 L625.2 1053.9 L625.6 1058.3 L626.0 1063.4 L626.5 1068.9 L626.9 1074.5 L627.3 1080.0 L627.8 1085.0 L628.2 1089.3 L628.6 1092.5 L629.1 1094.6 L629.5 1095.2 L629.9 1094.2 L630.3 1091.1 L630.8 1086.3 L631.2 1080.1 L631.6 1073.3 L632.0 1066.2 L632.4 1059.6 L632.8 1053.7 L633.2 1049.0 L633.7 1052.3 L634.1 1056.1 L634.5 1060.5 L634.9 1065.2 L635.3 1070.2 L635.7 1075.4 L636.1 1080.5 L636.5 1085.4 L636.9 1089.9 L637.4 1093.9 L637.8 1097.1 L638.2 1099.5 L638.6 1101.0 L639.0 1101.5 L639.4 1101.3 L639.9 1100.5 L640.3 1099.4 L640.7 1098.0 L641.1 1096.5 L641.5 1095.0 L642.0 1093.6 L642.4 1092.5 L642.8 1091.7 L643.2 1091.5 L643.6 1092.1 L644.0 1092.8 L644.4 1087.2 L644.9 1073.2 L645.3 1056.8 L645.8 1044.0 L646.2 1049.3 L646.6 1055.6 L647.0 1062.7 L647.4 1070.5 L647.8 1078.6 L648.2 1086.8 L648.7 1094.5 L649.1 1101.4 L649.5 1107.2 L649.9 1111.6 L650.3 1114.3 L650.8 1115.2 L651.2 1114.7 L651.6 1113.2 L652.0 1110.6 L652.4 1107.2 L652.9 1103.0 L653.3 1098.0 L653.7 1092.6 L654.1 1086.8 L654.5 1080.7 L655.0 1074.6 L655.4 1068.5 L655.8 1062.7 L656.2 1057.3 L656.7 1052.3 L657.1 1047.9 L657.5 1044.0 L657.9 1047.6 L658.3 1051.7 L658.7 1056.5 L659.1 1061.6 L659.6 1067.1 L660.0 1072.6 L660.4 1078.2 L660.8 1083.5 L661.2 1088.4 L661.6 1092.7 L662.0 1096.2 L662.4 1098.8 L662.8 1100.5 L663.2 1101.0 L663.7 1100.1 L664.1 1097.6 L664.5 1093.5 L664.9 1088.0 L665.3 1081.2 L665.7 1073.5 L666.1 1065.2 L666.5 1056.5 L666.9 1047.7 L667.4 1039.1 L667.8 1031.1 L668.2 1023.7 L668.6 1017.1 L669.0 1011.5 L669.4 1017.2 L669.8 1023.7 L670.3 1031.1 L670.7 1039.1 L671.1 1047.6 L671.5 1056.5 L672.0 1065.6 L672.4 1074.5 L672.8 1083.1 L673.2 1091.1 L673.6 1098.4 L674.1 1104.6 L674.5 1109.7 L674.9 1113.4 L675.3 1115.7 L675.8 1116.5 L676.2 1114.5 L676.6 1108.8 L677.0 1099.7 L677.4 1087.7 L677.8 1073.6 L678.2 1058.2 L678.6 1042.4 L679.0 1027.1 L679.4 1013.0 L679.8 1000.5 L680.2 990.2 L680.7 997.8 L681.1 1006.6 L681.5 1016.4 L681.9 1027.1 L682.4 1038.4 L682.8 1050.3 L683.2 1062.3 L683.6 1074.2 L684.0 1085.7 L684.5 1096.4 L684.9 1106.1 L685.3 1114.4 L685.7 1121.2 L686.2 1126.2 L686.6 1129.2 L687.0 1130.2 L687.4 1129.0 L687.8 1125.3 L688.2 1119.3 L688.7 1111.2 L689.1 1101.2 L689.5 1089.8 L689.9 1077.2 L690.3 1063.8 L690.8 1050.1 L691.2 1036.6 L691.6 1023.4 L692.0 1011.0 L692.4 999.7 L692.8 989.7 L693.2 981.0 L693.7 990.2 L694.1 1001.2 L694.5 1013.7 L694.9 1027.2 L695.3 1041.4 L695.8 1055.5 L696.2 1069.0 L696.6 1081.1 L697.0 1091.2 L697.4 1098.9 L697.8 1103.6 L698.2 1105.2 L698.7 1103.9 L699.1 1099.9 L699.5 1093.5 L699.9 1084.9 L700.4 1074.6 L700.8 1062.9 L701.2 1050.4 L701.6 1037.6 L702.1 1025.0 L702.5 1012.9 L702.9 1001.9 L703.3 992.2 L703.8 984.0 L704.2 993.6 L704.6 1004.9 L705.0 1017.6 L705.4 1031.5 L705.8 1046.2 L706.2 1061.3 L706.6 1076.2 L707.0 1090.6 L707.4 1103.8 L707.9 1115.4 L708.3 1124.9 L708.7 1131.9 L709.1 1136.3 L709.5 1137.8 L709.9 1136.4 L710.3 1132.6 L710.8 1126.3 L711.2 1117.8 L711.6 1107.4 L712.0 1095.4 L712.4 1082.2 L712.8 1068.2 L713.2 1053.9 L713.7 1039.7 L714.1 1025.9 L714.5 1013.0 L714.9 1001.1 L715.3 990.6 L715.8 981.5 L716.2 991.6 L716.6 1003.5 L717.0 1017.0 L717.4 1031.8 L717.9 1047.3 L718.3 1063.0 L718.7 1078.3 L719.1 1092.6 L719.6 1105.3 L720.0 1115.9 L720.4 1123.7 L720.8 1128.6 L721.2 1130.2 L721.7 1128.7 L722.1 1124.1 L722.5 1116.6 L722.9 1106.6 L723.3 1094.5 L723.7 1080.9 L724.1 1066.4 L724.5 1051.5 L724.9 1036.7 L725.3 1022.7 L725.7 1009.9 L726.1 998.6 L726.5 989.0 L726.9 1000.3 L727.3 1013.8 L727.8 1029.1 L728.2 1045.8 L728.6 1063.2 L729.0 1080.5 L729.4 1097.0 L729.8 1111.8 L730.2 1124.3 L730.7 1133.7 L731.1 1139.5 L731.5 1141.5 L731.9 1140.0 L732.3 1135.6 L732.8 1128.4 L733.2 1118.9 L733.6 1107.4 L734.0 1094.4 L734.5 1080.5 L734.9 1066.2 L735.3 1052.1 L735.7 1038.7 L736.2 1026.5 L736.6 1015.7 L737.0 1006.5 L737.4 1014.9 L737.8 1025.0 L738.2 1036.4 L738.7 1048.8 L739.1 1061.8 L739.5 1074.8 L739.9 1087.1 L740.3 1098.1 L740.8 1107.4 L741.2 1114.4 L741.6 1118.8 L742.0 1120.2 L742.4 1119.3 L742.8 1116.6 L743.2 1112.2 L743.7 1106.2 L744.1 1098.9 L744.5 1090.4 L744.9 1081.1 L745.3 1071.3 L745.8 1061.2 L746.2 1051.2 L746.6 1041.5 L747.0 1032.4 L747.4 1024.1 L747.8 1016.6 L748.2 1010.2 L748.7 1017.5 L749.1 1026.0 L749.5 1035.7 L749.9 1046.2 L750.3 1057.3 L750.7 1068.7 L751.1 1080.0 L751.5 1090.8 L751.9 1100.8 L752.4 1109.6 L752.8 1116.8 L753.2 1122.1 L753.6 1125.4 L754.0 1126.5 L754.4 1125.4 L754.8 1122.3 L755.3 1117.2 L755.7 1110.3 L756.1 1101.7 L756.5 1091.8 L757.0 1080.8 L757.4 1069.0 L757.8 1056.8 L758.2 1044.4 L758.6 1032.2 L759.1 1020.5 L759.5 1009.6 L759.9 999.5 L760.3 990.5 L760.8 982.8 L761.2 992.2 L761.6 1003.3 L762.0 1015.9 L762.4 1029.6 L762.9 1044.1 L763.3 1058.8 L763.7 1073.1 L764.1 1086.4 L764.6 1098.3 L765.0 1108.1 L765.4 1115.4 L765.8 1120.0 L766.2 1121.5 L766.7 1120.0 L767.1 1115.5 L767.5 1108.3 L767.9 1099.0 L768.3 1087.9 L768.7 1075.9 L769.1 1063.6 L769.5 1051.6 L769.9 1040.5 L770.3 1030.8 L770.8 1022.8 L771.2 1029.0 L771.6 1036.2 L772.0 1044.4 L772.4 1053.3 L772.8 1062.8 L773.2 1072.6 L773.7 1082.4 L774.1 1092.0 L774.5 1101.1 L774.9 1109.3 L775.3 1116.5 L775.8 1122.4 L776.2 1126.7 L776.6 1129.4 L777.0 1130.2 L777.4 1129.0 L777.8 1125.3 L778.2 1119.3 L778.6 1111.2 L779.1 1101.4 L779.5 1090.1 L779.9 1078.0 L780.3 1065.2 L780.7 1052.4 L781.1 1039.9 L781.5 1028.1 L781.9 1017.3 L782.3 1007.7 L782.8 999.5 L783.2 1008.0 L783.6 1018.1 L784.0 1029.6 L784.4 1042.1 L784.8 1055.2 L785.2 1068.2 L785.7 1080.6 L786.1 1091.7 L786.5 1101.1 L786.9 1108.1 L787.3 1112.5 L787.8 1114.0 L788.2 1112.6 L788.6 1108.4 L789.0 1101.5 L789.4 1092.4 L789.9 1081.5 L790.3 1069.1 L790.7 1055.8 L791.1 1042.2 L791.6 1028.8 L792.0 1016.0 L792.4 1004.3 L792.8 994.0 L793.2 985.2 L793.7 995.5 L794.1 1007.6 L794.5 1021.4 L794.9 1036.4 L795.4 1052.1 L795.8 1068.1 L796.2 1083.7 L796.6 1098.3 L797.1 1111.2 L797.5 1121.9 L797.9 1129.9 L798.3 1134.8 L798.8 1136.5 L799.2 1135.3 L799.6 1131.8 L800.0 1126.0 L800.4 1118.1 L800.8 1108.4 L801.2 1097.1 L801.6 1084.7 L802.0 1071.3 L802.4 1057.4 L802.8 1043.4 L803.2 1029.6 L803.6 1016.3 L804.0 1003.9 L804.4 992.5 L804.8 982.3 L805.2 973.5 L805.7 983.7 L806.1 996.1 L806.5 1010.1 L807.0 1025.4 L807.4 1041.1 L807.8 1056.3 L808.3 1070.4 L808.7 1082.3 L809.1 1091.4 L809.6 1097.1 L810.0 1099.0 L810.4 1098.2 L810.8 1095.9 L811.2 1092.2 L811.7 1087.1 L812.1 1080.9 L812.5 1073.8 L812.9 1065.9 L813.3 1057.6 L813.8 1049.1 L814.2 1040.6 L814.6 1032.4 L815.0 1024.7 L815.4 1017.7 L815.8 1011.4 L816.2 1006.0 L816.7 1014.3 L817.1 1023.9 L817.5 1034.8 L817.9 1046.7 L818.3 1059.3 L818.7 1072.2 L819.1 1085.0 L819.5 1097.3 L819.9 1108.7 L820.4 1118.6 L820.8 1126.7 L821.2 1132.8 L821.6 1136.5 L822.0 1137.8 L822.4 1136.6 L822.8 1133.2 L823.3 1127.7 L823.7 1120.4 L824.1 1111.5 L824.5 1101.5 L825.0 1090.8 L825.4 1079.9 L825.8 1069.1 L826.2 1058.8 L826.7 1049.4 L827.1 1041.0 L827.5 1034.0 L827.9 1040.2 L828.3 1047.6 L828.8 1056.0 L829.2 1065.2 L829.6 1074.7 L830.0 1084.2 L830.4 1093.3 L830.8 1101.5 L831.2 1108.3 L831.7 1113.5 L832.1 1116.7 L832.5 1117.8 L832.9 1117.2 L833.3 1115.4 L833.7 1112.6 L834.1 1108.7 L834.5 1104.0 L834.9 1098.4 L835.3 1092.3 L835.8 1085.8 L836.2 1078.9 L836.6 1072.1 L837.0 1065.3 L837.4 1058.8 L837.8 1052.7 L838.2 1047.1 L838.6 1042.1 L839.0 1037.8 L839.4 1044.5 L839.8 1052.4 L840.3 1061.3 L840.7 1071.1 L841.1 1081.4 L841.5 1091.9 L842.0 1102.0 L842.4 1111.5 L842.8 1120.0 L843.2 1126.9 L843.7 1132.2 L844.1 1135.4 L844.5 1136.5 L844.9 1135.1 L845.4 1130.8 L845.8 1124.0 L846.2 1115.1 L846.7 1104.6 L847.1 1093.2 L847.5 1081.5 L848.0 1070.1 L848.4 1059.6 L848.8 1050.4 L849.2 1042.8 L849.7 1049.1 L850.1 1056.5 L850.5 1065.0 L850.9 1074.3 L851.4 1084.0 L851.8 1093.8 L852.2 1103.5 L852.6 1112.4 L853.1 1120.4 L853.5 1127.0 L853.9 1131.9 L854.3 1135.0 L854.8 1136.0 L855.2 1135.1 L855.6 1132.3 L856.0 1127.8 L856.4 1121.7 L856.8 1114.3 L857.2 1105.9 L857.6 1096.7 L858.0 1087.1 L858.4 1077.5 L858.9 1068.1 L859.3 1059.2 L859.7 1051.1 L860.1 1043.9 L860.5 1037.8 L860.9 1045.5 L861.3 1054.7 L861.8 1065.0 L862.2 1076.4 L862.6 1088.3 L863.0 1100.3 L863.5 1112.1 L863.9 1123.1 L864.3 1132.9 L864.7 1140.9 L865.2 1147.0 L865.6 1150.7 L866.0 1152.0 L866.4 1150.2 L866.8 1144.8 L867.2 1136.1 L867.7 1124.7 L868.1 1111.0 L868.5 1095.8 L868.9 1079.8 L869.3 1063.8 L869.8 1048.4 L870.2 1034.3 L870.6 1021.9 L871.0 1011.5 L871.4 1018.1 L871.8 1025.8 L872.2 1034.3 L872.6 1043.7 L873.0 1053.7 L873.4 1064.0 L873.8 1074.6 L874.2 1085.0 L874.7 1095.0 L875.1 1104.4 L875.5 1112.9 L875.9 1120.2 L876.3 1126.1 L876.7 1130.4 L877.1 1133.1 L877.5 1134.0 L877.9 1133.0 L878.3 1130.1 L878.7 1125.3 L879.1 1118.8 L879.5 1110.9 L879.9 1101.8 L880.3 1091.8 L880.7 1081.1 L881.1 1070.3 L881.5 1059.5 L881.9 1049.0 L882.3 1039.2 L882.7 1030.2 L883.1 1022.2 L883.5 1015.2 L883.9 1023.5 L884.3 1033.2 L884.7 1044.2 L885.1 1056.2 L885.6 1068.9 L886.0 1081.8 L886.4 1094.8 L886.8 1107.1 L887.2 1118.5 L887.6 1128.5 L888.0 1136.6 L888.4 1142.7 L888.8 1146.5 L889.2 1147.8 L889.7 1146.6 L890.1 1143.3 L890.5 1137.9 L890.9 1130.6 L891.3 1121.8 L891.7 1111.7 L892.1 1100.8 L892.5 1089.3 L892.9 1077.8 L893.4 1066.5 L893.8 1055.9 L894.2 1046.2 L894.6 1037.6 L895.0 1030.2 L895.4 1037.7 L895.8 1046.5 L896.3 1056.5 L896.7 1067.4 L897.1 1078.9 L897.5 1090.5 L898.0 1101.9 L898.4 1112.4 L898.8 1121.8 L899.2 1129.6 L899.7 1135.4 L900.1 1139.0 L900.5 1140.2 L900.9 1139.1 L901.3 1135.8 L901.7 1130.3 L902.1 1123.0 L902.6 1114.0 L903.0 1103.8 L903.4 1092.8 L903.8 1081.2 L904.2 1069.5 L904.6 1058.2 L905.0 1047.4 L905.4 1037.6 L905.8 1028.9 L906.2 1021.5 L906.6 1027.5 L907.0 1034.4 L907.5 1042.1 L907.9 1050.6 L908.2 1059.7 L908.6 1069.0 L909.0 1078.4 L909.5 1087.5 L909.9 1096.2 L910.2 1104.1 L910.6 1110.9 L911.0 1116.5 L911.5 1120.6 L911.9 1123.1 L912.2 1124.0 L912.7 1122.9 L913.1 1119.5 L913.5 1114.1 L913.9 1106.8 L914.3 1097.8 L914.8 1087.4 L915.2 1076.0 L915.6 1063.9 L916.0 1051.5 L916.4 1039.2 L916.8 1027.4 L917.2 1016.2 L917.7 1005.9 L918.1 996.8 L918.5 989.0 L918.9 997.8 L919.3 1008.2 L919.7 1019.9 L920.1 1032.6 L920.6 1046.1 L921.0 1060.0 L921.4 1073.8 L921.8 1086.9 L922.2 1099.1 L922.6 1109.7 L923.0 1118.4 L923.4 1124.9 L923.8 1128.9 L924.2 1130.2 L924.7 1129.4 L925.1 1126.9 L925.5 1122.8 L925.9 1117.3 L926.3 1110.6 L926.8 1102.8 L927.2 1094.2 L927.6 1085.2 L928.0 1075.9 L928.4 1066.7 L928.8 1057.8 L929.2 1049.4 L929.7 1041.7 L930.1 1034.9 L930.5 1029.0 L930.9 1036.9 L931.3 1046.2 L931.8 1056.8 L932.2 1068.3 L932.6 1080.4 L933.0 1092.7 L933.5 1104.7 L933.9 1115.9 L934.3 1125.8 L934.7 1134.0 L935.2 1140.2 L935.6 1144.0 L936.0 1145.2 L936.4 1144.0 L936.8 1140.2 L937.2 1134.0 L937.6 1125.8 L938.1 1115.7 L938.5 1104.2 L938.9 1091.8 L939.3 1078.7 L939.7 1065.6 L940.1 1052.8 L940.5 1040.7 L940.9 1029.7 L941.3 1019.9 L941.8 1011.5 L942.2 1019.1 L942.6 1027.8 L943.0 1037.7 L943.4 1048.4 L943.8 1059.9 L944.2 1071.7 L944.7 1083.6 L945.1 1095.3 L945.5 1106.2 L945.9 1116.2 L946.3 1124.9 L946.8 1132.0 L947.2 1137.2 L947.6 1140.4 L948.0 1141.5 L948.4 1140.8 L948.8 1138.8 L949.2 1135.4 L949.6 1130.8 L950.1 1125.2 L950.5 1118.5 L950.9 1111.1 L951.3 1103.2 L951.7 1094.8 L952.1 1086.2 L952.5 1077.6 L952.9 1069.2 L953.4 1061.2 L953.8 1053.7 L954.2 1046.8 L954.6 1040.6 L955.0 1035.2 L955.4 1043.4 L955.8 1053.1 L956.2 1064.2 L956.7 1076.2 L957.1 1088.7 L957.5 1101.2 L957.9 1113.2 L958.3 1123.9 L958.8 1132.8 L959.2 1139.6 L959.6 1143.8 L960.0 1145.2 L960.4 1144.0 L960.8 1140.2 L961.2 1134.1 L961.7 1125.8 L962.1 1115.6 L962.5 1103.9 L962.9 1091.0 L963.3 1077.4 L963.8 1063.4 L964.2 1049.5 L964.6 1036.1 L965.0 1023.4 L965.4 1011.9 L965.8 1001.6 L966.2 992.8 L966.7 1002.8 L967.1 1014.6 L967.5 1028.0 L967.9 1042.6 L968.4 1058.0 L968.8 1073.6 L969.2 1088.8 L969.6 1103.0 L970.1 1115.6 L970.5 1126.0 L970.9 1133.8 L971.3 1138.6 L971.8 1140.2 L972.2 1139.7 L972.6 1138.2 L973.0 1135.6 L973.4 1132.1 L973.8 1127.7 L974.2 1122.5 L974.6 1116.6 L975.0 1110.1 L975.5 1103.1 L975.9 1095.8 L976.3 1088.2 L976.7 1080.5 L977.1 1072.9 L977.5 1065.5 L977.9 1058.2 L978.4 1051.4 L978.8 1045.0 L979.2 1039.1 L979.6 1033.7 L980.0 1029.0 L980.4 1040.1 L980.9 1053.7 L981.3 1069.1 L981.7 1085.8 L982.1 1102.5 L982.5 1118.3 L983.0 1131.9 L983.4 1142.5 L983.8 1149.2 L984.2 1151.5 L984.7 1149.9 L985.1 1145.1 L985.5 1137.5 L985.9 1127.2 L986.4 1114.8 L986.8 1100.9 L987.2 1085.9 L987.6 1070.6 L988.1 1055.5 L988.5 1041.1 L988.9 1028.0 L989.3 1016.3 L989.8 1006.5 L990.2 1012.7 L990.6 1019.7 L991.0 1027.6 L991.4 1036.1 L991.8 1045.3 L992.2 1054.9 L992.6 1064.6 L993.0 1074.4 L993.5 1084.0 L993.9 1093.1 L994.3 1101.5 L994.7 1109.1 L995.1 1115.6 L995.5 1120.8 L995.9 1124.6 L996.3 1127.0 L996.8 1127.8 L997.2 1127.1 L997.6 1125.3 L998.0 1122.2 L998.4 1118.1 L998.8 1112.9 L999.2 1106.9 L999.6 1100.2 L1000.0 1093.0 L1000.5 1085.4 L1000.9 1077.7 L1001.3 1069.9 L1001.7 1062.3 L1002.1 1055.0 L1002.5 1048.2 L1002.9 1042.0 L1003.3 1036.4 L1003.8 1031.5 L1004.2 1041.1 L1004.6 1052.6 L1005.0 1065.8 L1005.5 1080.1 L1005.9 1094.7 L1006.3 1109.1 L1006.8 1122.2 L1007.2 1133.3 L1007.6 1141.9 L1008.1 1147.2 L1008.5 1149.0 L1008.9 1147.7 L1009.3 1143.8 L1009.7 1137.5 L1010.1 1129.0 L1010.6 1118.6 L1011.0 1106.8 L1011.4 1094.0 L1011.8 1080.6 L1012.2 1067.1 L1012.6 1054.0 L1013.0 1041.5 L1013.4 1030.2 L1013.8 1020.1 L1014.2 1011.5 L1014.7 1016.8 L1015.1 1023.6 L1015.5 1031.0 L1015.9 1037.7 L1016.3 1042.3 L1016.8 1044.0 L1017.2 1041.1 L1017.6 1034.6 L1018.0 1029.0 L1018.4 1041.0 L1018.8 1049.0" stroke="#000" stroke-width="1.1"/>
<path d="M82.4 1104.0 L104.5 1104.0 L104.5 1094.0 L215.1 1094.0 L215.1 1087.0 L325.8 1087.0 L325.8 1061.5 L436.4 1061.5 L436.4 1079.5 L547.0 1079.5 L547.0 1074.0 L657.6 1074.0 L657.6 1065.2 L768.2 1065.2 L768.2 1076.0 L878.9 1076.0 L878.9 1089.0 L989.5 1089.0 L989.5 1081.5 L1019.7 1081.5" stroke="#f00" stroke-width="3"/>
<path d="M82.5 1104.0 L83.3 1104.0 L84.1 1104.0 L84.9 1104.0 L85.7 1104.0 L86.5 1104.0 L87.3 1104.0 L88.1 1103.9 L88.9 1103.9 L89.7 1103.9 L90.5 1103.9 L91.3 1103.9 L92.1 1104.0 L92.9 1104.0 L93.7 1104.1 L94.5 1104.1 L95.3 1104.1 L96.1 1104.0 L96.9 1103.9 L97.7 1103.6 L98.5 1103.2 L99.3 1102.8 L100.1 1102.5 L100.9 1102.1 L101.7 1101.8 L102.5 1101.7 L103.3 1101.6 L104.1 1101.7 L104.9 1101.8 L105.7 1101.8 L106.5 1101.5 L107.3 1100.9 L108.1 1100.0 L108.9 1098.8 L109.7 1097.5 L110.5 1096.2 L111.3 1095.1 L112.1 1094.3 L112.9 1093.8 L113.7 1093.7 L114.5 1093.7 L115.3 1093.8 L116.1 1094.0 L116.9 1094.3 L117.7 1094.5 L118.5 1094.7 L119.3 1094.8 L120.1 1094.7 L120.9 1094.4 L121.7 1094.0 L122.5 1093.6 L123.3 1093.3 L124.1 1093.0 L124.9 1092.9 L125.7 1093.0 L126.5 1093.2 L127.3 1093.4 L128.1 1093.7 L128.9 1094.0 L129.7 1094.2 L130.5 1094.4 L131.3 1094.4 L132.1 1094.1 L132.9 1093.8 L133.7 1093.4 L134.5 1093.1 L135.3 1092.7 L136.1 1092.5 L136.9 1092.4 L137.7 1092.4 L138.5 1092.5 L139.3 1092.7 L140.1 1093.1 L140.9 1093.4 L141.7 1093.9 L142.5 1094.3 L143.3 1094.6 L144.1 1094.8 L144.9 1094.7 L145.7 1094.6 L146.5 1094.4 L147.3 1094.1 L148.1 1093.9 L148.9 1093.7 L149.7 1093.6 L150.5 1093.6 L151.3 1093.7 L152.1 1093.9 L152.9 1094.2 L153.7 1094.4 L154.5 1094.7 L155.3 1094.8 L156.1 1094.6 L156.9 1094.3 L157.7 1093.9 L158.5 1093.4 L159.3 1093.0 L160.1 1092.7 L160.9 1092.6 L161.7 1092.6 L162.5 1092.7 L163.3 1093.0 L164.1 1093.4 L164.9 1093.9 L165.7 1094.4 L166.5 1094.9 L167.3 1095.2 L168.1 1095.3 L168.9 1095.1 L169.7 1094.7 L170.5 1094.2 L171.3 1093.9 L172.1 1093.6 L172.9 1093.4 L173.7 1093.4 L174.5 1093.4 L175.3 1093.6 L176.1 1093.8 L176.9 1094.1 L177.7 1094.4 L178.5 1094.5 L179.3 1094.4 L180.1 1094.3 L180.9 1094.2 L181.7 1094.1 L182.5 1093.9 L183.3 1093.6 L184.1 1093.3 L184.9 1093.1 L185.7 1092.9 L186.5 1092.8 L187.3 1092.8 L188.1 1092.9 L188.9 1093.1 L189.7 1093.4 L190.5 1093.8 L191.3 1093.9 L192.1 1093.8 L192.9 1093.7 L193.7 1093.6 L194.5 1093.7 L195.3 1094.1 L196.1 1094.6 L196.9 1095.0 L197.7 1095.2 L198.5 1095.3 L199.3 1095.1 L200.1 1094.7 L200.9 1094.2 L201.7 1093.5 L202.5 1092.7 L203.3 1092.1 L204.1 1091.7 L204.9 1091.5 L205.7 1091.7 L206.5 1091.9 L207.3 1092.4 L208.1 1093.0 L208.9 1093.7 L209.7 1094.2 L210.5 1094.5 L211.3 1094.6 L212.1 1094.4 L212.9 1094.1 L213.7 1093.5 L214.5 1092.9 L215.3 1092.2 L216.1 1091.7 L216.9 1091.4 L217.7 1091.4 L218.5 1091.7 L219.3 1092.2 L220.1 1093.0 L220.9 1093.7 L221.7 1094.3 L222.5 1094.7 L223.3 1094.9 L224.1 1094.9 L224.9 1094.7 L225.7 1094.3 L226.5 1093.7 L227.3 1093.2 L228.1 1092.8 L228.9 1092.6 L229.7 1092.6 L230.5 1092.9 L231.3 1093.4 L232.1 1093.8 L232.9 1094.1 L233.7 1094.4 L234.5 1094.6 L235.3 1094.6 L236.1 1094.6 L236.9 1094.4 L237.7 1094.2 L238.5 1093.9 L239.3 1093.6 L240.1 1093.4 L240.9 1093.3 L241.7 1093.5 L242.5 1093.8 L243.3 1094.4 L244.1 1094.9 L244.9 1095.4 L245.7 1095.8 L246.5 1096.0 L247.3 1096.2 L248.1 1096.1 L248.9 1095.9 L249.7 1095.6 L250.5 1095.3 L251.3 1094.9 L252.1 1094.5 L252.9 1094.3 L253.7 1094.2 L254.5 1094.4 L255.3 1094.7 L256.1 1095.0 L256.9 1095.4 L257.7 1095.7 L258.5 1095.9 L259.3 1096.0 L260.1 1096.0 L260.9 1095.8 L261.7 1095.5 L262.5 1095.1 L263.3 1094.8 L264.1 1094.4 L264.9 1094.2 L265.7 1094.3 L266.5 1094.6 L267.3 1095.1 L268.1 1095.5 L268.9 1095.9 L269.7 1096.2 L270.5 1096.4 L271.3 1096.4 L272.1 1096.4 L272.9 1096.2 L273.7 1096.0 L274.5 1095.6 L275.3 1095.2 L276.1 1094.9 L276.9 1094.6 L277.7 1094.5 L278.5 1094.6 L279.3 1094.9 L280.1 1095.3 L280.9 1095.6 L281.7 1095.8 L282.5 1095.8 L283.3 1095.6 L284.1 1095.3 L284.9 1094.8 L285.7 1094.3 L286.5 1093.7 L287.3 1093.1 L288.1 1092.7 L288.9 1092.5 L289.7 1092.5 L290.5 1092.7 L291.3 1092.9 L292.1 1093.1 L292.9 1093.3 L293.7 1093.5 L294.5 1093.5 L295.3 1093.5 L296.1 1093.3 L296.9 1093.0 L297.7 1092.6 L298.5 1092.2 L299.3 1091.8 L300.1 1091.3 L300.9 1091.1 L301.7 1091.0 L302.5 1091.1 L303.3 1091.4 L304.1 1091.7 L304.9 1092.0 L305.7 1092.2 L306.5 1092.2 L307.3 1092.1 L308.1 1091.7 L308.9 1091.2 L309.7 1090.6 L310.5 1089.9 L311.3 1089.2 L312.1 1088.7 L312.9 1088.5 L313.7 1088.4 L314.5 1088.4 L315.3 1088.4 L316.1 1088.5 L316.9 1088.7 L317.7 1088.9 L318.5 1089.0 L319.3 1088.9 L320.1 1088.6 L320.9 1088.2 L321.7 1087.6 L322.5 1087.1 L323.3 1086.6 L324.1 1086.4 L324.9 1086.4 L325.7 1086.6 L326.5 1087.0 L327.3 1087.4 L328.1 1087.8 L328.9 1088.1 L329.7 1088.2 L330.5 1088.1 L331.3 1087.5 L332.1 1086.6 L332.9 1085.5 L333.7 1084.3 L334.5 1083.1 L335.3 1082.1 L336.1 1081.6 L336.9 1081.7 L337.7 1082.1 L338.5 1082.8 L339.3 1083.4 L340.1 1084.1 L340.9 1084.7 L341.7 1085.2 L342.5 1085.4 L343.3 1085.4 L344.1 1085.0 L344.9 1084.3 L345.7 1083.4 L346.5 1082.4 L347.3 1081.6 L348.1 1080.9 L348.9 1080.5 L349.7 1080.4 L350.5 1080.5 L351.3 1080.9 L352.1 1081.2 L352.9 1081.4 L353.7 1081.4 L354.5 1081.2 L355.3 1080.7 L356.1 1080.1 L356.9 1079.3 L357.7 1078.5 L358.5 1077.8 L359.3 1077.4 L360.1 1077.2 L360.9 1077.2 L361.7 1077.5 L362.5 1077.9 L363.3 1078.4 L364.1 1078.9 L364.9 1079.2 L365.7 1079.3 L366.5 1079.1 L367.3 1078.7 L368.1 1077.9 L368.9 1077.0 L369.7 1076.0 L370.5 1075.2 L371.3 1074.6 L372.1 1074.3 L372.9 1074.2 L373.7 1074.5 L374.5 1074.9 L375.3 1075.4 L376.1 1075.8 L376.9 1076.0 L377.7 1075.9 L378.5 1075.6 L379.3 1075.1 L380.1 1074.4 L380.9 1073.7 L381.7 1073.1 L382.5 1072.5 L383.3 1072.1 L384.1 1071.9 L384.9 1071.9 L385.7 1072.0 L386.5 1072.3 L387.3 1072.6 L388.1 1072.9 L388.9 1072.9 L389.7 1072.6 L390.5 1072.0 L391.3 1071.1 L392.1 1070.0 L392.9 1068.9 L393.7 1067.9 L394.5 1067.1 L395.3 1066.4 L396.1 1065.8 L396.9 1065.4 L397.7 1065.0 L398.5 1064.7 L399.3 1064.3 L400.1 1064.0 L400.9 1063.8 L401.7 1063.6 L402.5 1063.5 L403.3 1063.4 L404.1 1063.5 L404.9 1063.5 L405.7 1063.4 L406.5 1063.3 L407.3 1063.1 L408.1 1063.0 L408.9 1062.8 L409.7 1062.8 L410.5 1062.9 L411.3 1063.0 L412.1 1063.2 L412.9 1063.3 L413.7 1063.5 L414.5 1063.6 L415.3 1063.7 L416.1 1063.7 L416.9 1063.6 L417.7 1063.6 L418.5 1063.6 L419.3 1063.6 L420.1 1063.6 L420.9 1063.6 L421.7 1063.7 L422.5 1063.8 L423.3 1063.8 L424.1 1063.9 L424.9 1064.1 L425.7 1064.3 L426.5 1064.3 L427.3 1064.1 L428.1 1063.8 L428.9 1063.5 L429.7 1063.2 L430.5 1063.0 L431.3 1062.8 L432.1 1062.7 L432.9 1062.5 L433.7 1062.3 L434.5 1062.0 L435.3 1061.8 L436.1 1061.6 L436.9 1061.3 L437.7 1061.1 L438.5 1060.8 L439.3 1060.5 L440.1 1060.1 L440.9 1059.7 L441.7 1059.2 L442.5 1058.7 L443.3 1058.3 L444.1 1058.3 L444.9 1058.4 L445.7 1058.9 L446.5 1059.3 L447.3 1059.7 L448.1 1060.1 L448.9 1060.4 L449.7 1060.7 L450.5 1060.9 L451.3 1061.0 L452.1 1061.2 L452.9 1061.3 L453.7 1061.5 L454.5 1061.7 L455.3 1062.0 L456.1 1062.3 L456.9 1062.7 L457.7 1062.9 L458.5 1063.0 L459.3 1063.2 L460.1 1063.3 L460.9 1063.4 L461.7 1063.4 L462.5 1063.4 L463.3 1063.3 L464.1 1063.2 L464.9 1063.1 L465.7 1063.0 L466.5 1062.9 L467.3 1062.8 L468.1 1062.9 L468.9 1063.1 L469.7 1063.2 L470.5 1063.3 L471.3 1063.3 L472.1 1063.1 L472.9 1062.9 L473.7 1062.6 L474.5 1062.1 L475.3 1061.7 L476.1 1061.2 L476.9 1060.8 L477.7 1060.5 L478.5 1060.4 L479.3 1060.6 L480.1 1061.0 L480.9 1061.4 L481.7 1061.8 L482.5 1062.2 L483.3 1062.5 L484.1 1062.7 L484.9 1062.7 L485.7 1062.6 L486.5 1062.5 L487.3 1062.3 L488.1 1062.1 L488.9 1061.9 L489.7 1062.0 L490.5 1062.3 L491.3 1062.7 L492.1 1063.2 L492.9 1063.6 L493.7 1064.0 L494.5 1064.3 L495.3 1064.6 L496.1 1064.7 L496.9 1064.8 L497.7 1064.8 L498.5 1064.8 L499.3 1064.7 L500.1 1064.8 L500.9 1064.8 L501.7 1064.9 L502.5 1065.2 L503.3 1065.5 L504.1 1065.9 L504.9 1066.4 L505.7 1067.0 L506.5 1068.0 L507.3 1069.5 L508.1 1071.3 L508.9 1073.0 L509.7 1074.4 L510.5 1075.4 L511.3 1075.6 L512.1 1075.2 L512.9 1074.8 L513.7 1074.3 L514.5 1073.9 L515.3 1073.6 L516.1 1073.5 L516.9 1073.6 L517.7 1073.8 L518.5 1074.2 L519.3 1074.6 L520.1 1075.1 L520.9 1075.4 L521.7 1075.5 L522.5 1075.5 L523.3 1075.2 L524.1 1074.7 L524.9 1074.2 L525.7 1073.6 L526.5 1073.3 L527.3 1073.1 L528.1 1073.3 L528.9 1073.6 L529.7 1074.2 L530.5 1074.9 L531.3 1075.7 L532.1 1076.5 L532.9 1077.2 L533.7 1077.6 L534.5 1077.8 L535.3 1077.7 L536.1 1077.5 L536.9 1077.1 L537.7 1076.8 L538.5 1076.6 L539.3 1076.6 L540.1 1076.6 L540.9 1076.8 L541.7 1077.0 L542.5 1077.4 L543.3 1077.8 L544.1 1078.3 L544.9 1078.7 L545.7 1078.8 L546.5 1078.8 L547.3 1078.5 L548.1 1078.1 L548.9 1077.6 L549.7 1077.3 L550.5 1077.2 L551.3 1077.4 L552.1 1077.7 L552.9 1078.3 L553.7 1079.1 L554.5 1079.9 L555.3 1080.6 L556.1 1081.2 L556.9 1081.6 L557.7 1081.7 L558.5 1081.7 L559.3 1081.2 L560.1 1080.5 L560.9 1079.6 L561.7 1078.8 L562.5 1078.1 L563.3 1077.4 L564.1 1077.0 L564.9 1076.8 L565.7 1076.8 L566.5 1077.1 L567.3 1077.6 L568.1 1078.1 L568.9 1078.5 L569.7 1078.8 L570.5 1078.9 L571.3 1078.9 L572.1 1078.7 L572.9 1078.4 L573.7 1078.1 L574.5 1077.7 L575.3 1077.6 L576.1 1077.6 L576.9 1077.8 L577.7 1078.1 L578.5 1078.4 L579.3 1078.6 L580.1 1078.7 L580.9 1078.7 L581.7 1078.6 L582.5 1078.4 L583.3 1078.1 L584.1 1077.8 L584.9 1077.5 L585.7 1077.2 L586.5 1077.0 L587.3 1076.9 L588.1 1076.9 L588.9 1077.0 L589.7 1077.1 L590.5 1077.2 L591.3 1077.2 L592.1 1077.3 L592.9 1077.3 L593.7 1077.1 L594.5 1076.9 L595.3 1076.6 L596.1 1076.2 L596.9 1075.8 L597.7 1075.5 L598.5 1075.3 L599.3 1075.3 L600.1 1075.5 L600.9 1075.6 L601.7 1075.8 L602.5 1075.9 L603.3 1076.0 L604.1 1076.1 L604.9 1076.0 L605.7 1075.9 L606.5 1075.7 L607.3 1075.5 L608.1 1075.3 L608.9 1075.1 L609.7 1075.0 L610.5 1075.1 L611.3 1075.3 L612.1 1075.7 L612.9 1076.1 L613.7 1076.4 L614.5 1076.7 L615.3 1076.9 L616.1 1077.0 L616.9 1077.0 L617.7 1076.8 L618.5 1076.5 L619.3 1076.2 L620.1 1075.9 L620.9 1075.6 L621.7 1075.3 L622.5 1075.1 L623.3 1075.0 L624.1 1074.9 L624.9 1074.7 L625.7 1074.5 L626.5 1074.3 L627.3 1074.1 L628.1 1073.9 L628.9 1073.8 L629.7 1073.6 L630.5 1073.6 L631.3 1073.6 L632.1 1073.5 L632.9 1073.5 L633.7 1073.6 L634.5 1073.9 L635.3 1074.2 L636.1 1074.6 L636.9 1074.9 L637.7 1075.2 L638.5 1075.4 L639.3 1075.4 L640.1 1075.4 L640.9 1075.3 L641.7 1075.2 L642.5 1075.0 L643.3 1074.9 L644.1 1074.8 L644.9 1074.7 L645.7 1074.6 L646.5 1074.5 L647.3 1074.6 L648.1 1074.7 L648.9 1074.9 L649.7 1075.0 L650.5 1075.1 L651.3 1075.2 L652.1 1075.1 L652.9 1075.0 L653.7 1074.9 L654.5 1074.7 L655.3 1074.5 L656.1 1074.4 L656.9 1074.2 L657.7 1074.3 L658.5 1074.6 L659.3 1075.0 L660.1 1075.4 L660.9 1075.8 L661.7 1076.1 L662.5 1076.5 L663.3 1076.7 L664.1 1076.8 L664.9 1076.7 L665.7 1076.5 L666.5 1076.1 L667.3 1075.7 L668.1 1075.2 L668.9 1074.7 L669.7 1074.4 L670.5 1074.1 L671.3 1074.0 L672.1 1074.0 L672.9 1074.1 L673.7 1074.2 L674.5 1074.3 L675.3 1074.3 L676.1 1074.3 L676.9 1074.1 L677.7 1073.7 L678.5 1073.2 L679.3 1072.5 L680.1 1071.8 L680.9 1071.2 L681.7 1070.8 L682.5 1070.8 L683.3 1071.1 L684.1 1071.5 L684.9 1072.2 L685.7 1072.8 L686.5 1073.4 L687.3 1073.9 L688.1 1074.3 L688.9 1074.5 L689.7 1074.6 L690.5 1074.5 L691.3 1074.2 L692.1 1073.8 L692.9 1073.2 L693.7 1072.5 L694.5 1072.1 L695.3 1071.8 L696.1 1071.7 L696.9 1071.7 L697.7 1071.8 L698.5 1071.8 L699.3 1071.7 L700.1 1071.5 L700.9 1071.2 L701.7 1070.7 L702.5 1070.2 L703.3 1069.7 L704.1 1069.3 L704.9 1069.1 L705.7 1069.2 L706.5 1069.5 L707.3 1070.1 L708.1 1070.9 L708.9 1071.6 L709.7 1072.2 L710.5 1072.8 L711.3 1073.1 L712.1 1073.2 L712.9 1072.8 L713.7 1072.2 L714.5 1071.4 L715.3 1070.4 L716.1 1069.4 L716.9 1068.6 L717.7 1068.0 L718.5 1067.6 L719.3 1067.5 L720.1 1067.6 L720.9 1067.8 L721.7 1068.1 L722.5 1068.3 L723.3 1068.4 L724.1 1068.2 L724.9 1067.9 L725.7 1067.3 L726.5 1066.6 L727.3 1065.9 L728.1 1065.5 L728.9 1065.2 L729.7 1065.3 L730.5 1065.5 L731.3 1065.9 L732.1 1066.4 L732.9 1066.8 L733.7 1067.1 L734.5 1067.2 L735.3 1067.2 L736.1 1067.0 L736.9 1066.7 L737.7 1066.3 L738.5 1066.0 L739.3 1065.8 L740.1 1065.7 L740.9 1065.7 L741.7 1065.9 L742.5 1066.2 L743.3 1066.6 L744.1 1066.9 L744.9 1067.1 L745.7 1067.2 L746.5 1067.1 L747.3 1066.8 L748.1 1066.5 L748.9 1066.2 L749.7 1065.9 L750.5 1065.8 L751.3 1065.8 L752.1 1065.9 L752.9 1066.0 L753.7 1066.2 L754.5 1066.3 L755.3 1066.4 L756.1 1066.5 L756.9 1066.6 L757.7 1066.5 L758.5 1066.1 L759.3 1065.5 L760.1 1064.8 L760.9 1064.0 L761.7 1063.2 L762.5 1062.7 L763.3 1062.3 L764.1 1062.2 L764.9 1062.3 L765.7 1062.7 L766.5 1063.3 L767.3 1063.9 L768.1 1064.4 L768.9 1064.8 L769.7 1065.0 L770.5 1065.0 L771.3 1064.9 L772.1 1064.7 L772.9 1064.5 L773.7 1064.3 L774.5 1064.3 L775.3 1064.4 L776.1 1064.6 L776.9 1064.9 L777.7 1065.4 L778.5 1065.8 L779.3 1066.2 L780.1 1066.5 L780.9 1066.6 L781.7 1066.4 L782.5 1066.0 L783.3 1065.5 L784.1 1064.9 L784.9 1064.3 L785.7 1063.9 L786.5 1063.5 L787.3 1063.3 L788.1 1063.3 L788.9 1063.4 L789.7 1063.7 L790.5 1064.2 L791.3 1064.5 L792.1 1064.7 L792.9 1064.7 L793.7 1064.5 L794.5 1064.3 L795.3 1064.2 L796.1 1064.2 L796.9 1064.2 L797.7 1064.3 L798.5 1064.5 L799.3 1064.7 L800.1 1064.9 L800.9 1065.0 L801.7 1065.1 L802.5 1065.2 L803.3 1065.3 L804.1 1065.2 L804.9 1064.9 L805.7 1064.5 L806.5 1064.0 L807.3 1063.6 L808.1 1063.2 L808.9 1063.0 L809.7 1062.9 L810.5 1063.0 L811.3 1063.2 L812.1 1063.4 L812.9 1063.7 L813.7 1064.0 L814.5 1064.3 L815.3 1064.4 L816.1 1064.3 L816.9 1064.0 L817.7 1063.7 L818.5 1063.4 L819.3 1063.1 L820.1 1063.0 L820.9 1062.9 L821.7 1062.9 L822.5 1063.1 L823.3 1063.5 L824.1 1064.0 L824.9 1064.5 L825.7 1065.1 L826.5 1065.7 L827.3 1066.0 L828.1 1066.2 L828.9 1066.4 L829.7 1066.4 L830.5 1066.4 L831.3 1066.4 L832.1 1066.3 L832.9 1066.3 L833.7 1066.3 L834.5 1066.5 L835.3 1066.8 L836.1 1067.2 L836.9 1067.7 L837.7 1068.0 L838.5 1068.1 L839.3 1068.0 L840.1 1067.8 L840.9 1067.5 L841.7 1067.2 L842.5 1067.1 L843.3 1067.3 L844.1 1067.7 L844.9 1068.3 L845.7 1069.0 L846.5 1069.7 L847.3 1070.4 L848.1 1070.8 L848.9 1070.8 L849.7 1070.7 L850.5 1070.5 L851.3 1070.4 L852.1 1070.3 L852.9 1070.2 L853.7 1070.3 L854.5 1070.4 L855.3 1070.6 L856.1 1070.9 L856.9 1071.3 L857.7 1071.7 L858.5 1072.1 L859.3 1072.4 L860.1 1072.6 L860.9 1072.6 L861.7 1072.6 L862.5 1072.6 L863.3 1072.7 L864.1 1072.8 L864.9 1073.0 L865.7 1073.2 L866.5 1073.5 L867.3 1073.7 L868.1 1074.0 L868.9 1074.3 L869.7 1074.6 L870.5 1074.9 L871.3 1075.3 L872.1 1075.7 L872.9 1076.0 L873.7 1076.3 L874.5 1076.5 L875.3 1076.7 L876.1 1076.7 L876.9 1076.7 L877.7 1076.8 L878.5 1077.0 L879.3 1077.3 L880.1 1077.6 L880.9 1077.9 L881.7 1078.1 L882.5 1078.1 L883.3 1078.0 L884.1 1077.7 L884.9 1077.4 L885.7 1077.2 L886.5 1077.1 L887.3 1077.2 L888.1 1077.5 L888.9 1077.9 L889.7 1078.4 L890.5 1078.9 L891.3 1079.5 L892.1 1080.1 L892.9 1080.5 L893.7 1080.8 L894.5 1080.9 L895.3 1080.7 L896.1 1080.6 L896.9 1080.4 L897.7 1080.3 L898.5 1080.3 L899.3 1080.4 L900.1 1080.7 L900.9 1081.0 L901.7 1081.5 L902.5 1082.0 L903.3 1082.5 L904.1 1083.1 L904.9 1083.5 L905.7 1083.6 L906.5 1083.6 L907.3 1083.5 L908.1 1083.4 L908.9 1083.2 L909.7 1083.1 L910.5 1083.1 L911.3 1083.2 L912.1 1083.4 L912.9 1083.9 L913.7 1084.4 L914.5 1085.1 L915.3 1085.8 L916.1 1086.3 L916.9 1086.7 L917.7 1086.7 L918.5 1086.5 L919.3 1086.2 L920.1 1085.9 L920.9 1085.6 L921.7 1085.6 L922.5 1085.8 L923.3 1086.2 L924.1 1086.8 L924.9 1087.5 L925.7 1088.2 L926.5 1088.9 L927.3 1089.5 L928.1 1089.9 L928.9 1090.1 L929.7 1090.0 L930.5 1089.6 L931.3 1089.1 L932.1 1088.6 L932.9 1088.3 L933.7 1088.1 L934.5 1088.1 L935.3 1088.2 L936.1 1088.5 L936.9 1088.9 L937.7 1089.3 L938.5 1089.6 L939.3 1089.7 L940.1 1089.6 L940.9 1089.2 L941.7 1088.7 L942.5 1088.1 L943.3 1087.7 L944.1 1087.5 L944.9 1087.4 L945.7 1087.5 L946.5 1087.8 L947.3 1088.2 L948.1 1088.8 L948.9 1089.3 L949.7 1089.9 L950.5 1090.4 L951.3 1090.7 L952.1 1090.7 L952.9 1090.6 L953.7 1090.3 L954.5 1089.9 L955.3 1089.4 L956.1 1089.0 L956.9 1088.8 L957.7 1088.8 L958.5 1089.0 L959.3 1089.4 L960.1 1089.9 L960.9 1090.3 L961.7 1090.5 L962.5 1090.5 L963.3 1090.3 L964.1 1089.9 L964.9 1089.3 L965.7 1088.6 L966.5 1087.8 L967.3 1087.3 L968.1 1087.0 L968.9 1087.0 L969.7 1087.3 L970.5 1087.9 L971.3 1088.5 L972.1 1089.1 L972.9 1089.5 L973.7 1089.8 L974.5 1090.0 L975.3 1089.9 L976.1 1089.7 L976.9 1089.5 L977.7 1089.1 L978.5 1088.9 L979.3 1088.7 L980.1 1088.6 L980.9 1088.7 L981.7 1089.0 L982.5 1089.5 L983.3 1089.9 L984.1 1090.3 L984.9 1090.7 L985.7 1090.8 L986.5 1090.7 L987.3 1090.4 L988.1 1090.0 L988.9 1089.4 L989.7 1088.8 L990.5 1088.2 L991.3 1087.9 L992.1 1087.8 L992.9 1088.0 L993.7 1088.4 L994.5 1088.9 L995.3 1089.4 L996.1 1089.8 L996.9 1090.1 L997.7 1090.3 L998.5 1090.4 L999.3 1090.3 L1000.1 1090.1 L1000.9 1089.9 L1001.7 1089.7 L1002.5 1089.5 L1003.3 1089.3 L1004.1 1089.3 L1004.9 1089.4 L1005.7 1089.7 L1006.5 1090.1 L1007.3 1090.4 L1008.1 1090.7 L1008.9 1090.9 L1009.7 1090.9 L1010.5 1090.8 L1011.3 1090.5 L1012.1 1090.2 L1012.9 1089.7 L1013.7 1089.3 L1014.5 1088.9 L1015.3 1088.7 L1016.1 1088.8 L1016.9 1088.9 L1017.7 1088.9 L1018.5 1088.9" stroke="#00f" stroke-width="3.4"/>
<path d="M82.4 1060.2 L104.5 1060.2 L104.5 1053.2 L215.1 1053.2 L215.1 1047.0 L325.8 1047.0 L325.8 1012.8 L436.4 1012.8 L436.4 1042.0 L547.0 1042.0 L547.0 1045.2 L657.6 1045.2 L657.6 1018.2 L768.2 1018.2 L768.2 1032.8 L878.9 1032.8 L878.9 1051.5 L989.5 1051.5 L989.5 1041.5 L1019.7 1041.5" stroke="#0f0" stroke-width="3"/>
<path d="M82.5 1062.8 L83.3 1062.8 L84.1 1062.8 L84.9 1062.9 L85.7 1062.9 L86.5 1063.0 L87.3 1063.0 L88.1 1063.0 L88.9 1063.0 L89.7 1063.1 L90.5 1063.2 L91.3 1063.2 L92.1 1063.3 L92.9 1063.4 L93.7 1063.5 L94.5 1063.6 L95.3 1063.6 L96.1 1063.4 L96.9 1063.0 L97.7 1062.3 L98.5 1061.6 L99.3 1060.9 L100.1 1060.2 L100.9 1059.7 L101.7 1059.2 L102.5 1058.7 L103.3 1058.3 L104.1 1058.0 L104.9 1058.0 L105.7 1058.3 L106.5 1058.5 L107.3 1058.5 L108.1 1058.0 L108.9 1057.2 L109.7 1056.1 L110.5 1055.2 L111.3 1054.6 L112.1 1054.2 L112.9 1054.0 L113.7 1053.7 L114.5 1053.5 L115.3 1053.3 L116.1 1053.2 L116.9 1053.3 L117.7 1053.7 L118.5 1054.3 L119.3 1055.0 L120.1 1055.1 L120.9 1054.8 L121.7 1054.4 L122.5 1054.1 L123.3 1054.0 L124.1 1053.9 L124.9 1054.0 L125.7 1054.0 L126.5 1054.1 L127.3 1054.2 L128.1 1054.3 L128.9 1054.6 L129.7 1054.9 L130.5 1055.1 L131.3 1055.1 L132.1 1054.6 L132.9 1053.9 L133.7 1053.3 L134.5 1052.8 L135.3 1052.6 L136.1 1052.5 L136.9 1052.5 L137.7 1052.4 L138.5 1052.4 L139.3 1052.3 L140.1 1052.4 L140.9 1052.6 L141.7 1053.1 L142.5 1053.7 L143.3 1054.3 L144.1 1054.5 L144.9 1054.3 L145.7 1053.9 L146.5 1053.6 L147.3 1053.3 L148.1 1053.1 L148.9 1053.0 L149.7 1052.9 L150.5 1052.9 L151.3 1052.8 L152.1 1052.9 L152.9 1053.1 L153.7 1053.4 L154.5 1053.7 L155.3 1053.9 L156.1 1053.4 L156.9 1052.7 L157.7 1052.1 L158.5 1051.6 L159.3 1051.4 L160.1 1051.4 L160.9 1051.3 L161.7 1051.2 L162.5 1051.1 L163.3 1051.1 L164.1 1051.2 L164.9 1051.6 L165.7 1052.3 L166.5 1053.1 L167.3 1053.5 L168.1 1053.5 L168.9 1053.2 L169.7 1052.6 L170.5 1052.1 L171.3 1051.8 L172.1 1051.6 L172.9 1051.4 L173.7 1051.3 L174.5 1051.1 L175.3 1051.1 L176.1 1051.2 L176.9 1051.5 L177.7 1052.0 L178.5 1052.3 L179.3 1052.1 L180.1 1051.9 L180.9 1051.7 L181.7 1051.5 L182.5 1051.3 L183.3 1051.1 L184.1 1050.9 L184.9 1050.8 L185.7 1050.7 L186.5 1050.5 L187.3 1050.3 L188.1 1050.2 L188.9 1050.4 L189.7 1050.8 L190.5 1051.4 L191.3 1051.8 L192.1 1051.7 L192.9 1051.4 L193.7 1051.3 L194.5 1051.5 L195.3 1052.2 L196.1 1053.0 L196.9 1053.4 L197.7 1053.5 L198.5 1053.4 L199.3 1053.3 L200.1 1053.0 L200.9 1052.7 L201.7 1052.2 L202.5 1051.4 L203.3 1050.5 L204.1 1049.8 L204.9 1049.5 L205.7 1049.7 L206.5 1050.0 L207.3 1050.7 L208.1 1051.7 L208.9 1052.5 L209.7 1052.9 L210.5 1053.1 L211.3 1053.1 L212.1 1053.0 L212.9 1052.9 L213.7 1052.5 L214.5 1051.9 L215.3 1051.0 L216.1 1050.2 L216.9 1049.6 L217.7 1049.6 L218.5 1050.0 L219.3 1051.0 L220.1 1052.1 L220.9 1053.1 L221.7 1053.6 L222.5 1054.0 L223.3 1054.1 L224.1 1054.2 L224.9 1054.2 L225.7 1054.1 L226.5 1053.8 L227.3 1053.3 L228.1 1052.7 L228.9 1052.3 L229.7 1052.3 L230.5 1052.8 L231.3 1053.5 L232.1 1054.1 L232.9 1054.5 L233.7 1054.7 L234.5 1054.7 L235.3 1054.7 L236.1 1054.7 L236.9 1054.7 L237.7 1054.6 L238.5 1054.5 L239.3 1054.2 L240.1 1053.9 L240.9 1053.6 L241.7 1053.8 L242.5 1054.5 L243.3 1055.6 L244.1 1056.5 L244.9 1057.1 L245.7 1057.4 L246.5 1057.6 L247.3 1057.8 L248.1 1057.9 L248.9 1058.1 L249.7 1058.3 L250.5 1058.3 L251.3 1058.2 L252.1 1057.9 L252.9 1057.6 L253.7 1057.7 L254.5 1058.1 L255.3 1058.7 L256.1 1059.1 L256.9 1059.4 L257.7 1059.6 L258.5 1059.6 L259.3 1059.6 L260.1 1059.5 L260.9 1059.4 L261.7 1059.1 L262.5 1058.7 L263.3 1058.2 L264.1 1057.6 L264.9 1057.2 L265.7 1057.4 L266.5 1058.1 L267.3 1059.0 L268.1 1059.7 L268.9 1060.2 L269.7 1060.3 L270.5 1060.4 L271.3 1060.4 L272.1 1060.5 L272.9 1060.5 L273.7 1060.6 L274.5 1060.5 L275.3 1060.2 L276.1 1059.8 L276.9 1059.4 L277.7 1059.3 L278.5 1059.5 L279.3 1059.9 L280.1 1060.5 L280.9 1060.9 L281.7 1061.0 L282.5 1060.9 L283.3 1060.8 L284.1 1060.6 L284.9 1060.3 L285.7 1059.8 L286.5 1059.0 L287.3 1058.0 L288.1 1057.2 L288.9 1056.8 L289.7 1057.0 L290.5 1057.4 L291.3 1057.7 L292.1 1058.0 L292.9 1058.2 L293.7 1058.2 L294.5 1058.3 L295.3 1058.3 L296.1 1058.3 L296.9 1058.3 L297.7 1058.2 L298.5 1057.9 L299.3 1057.3 L300.1 1056.7 L300.9 1056.3 L301.7 1056.2 L302.5 1056.4 L303.3 1056.8 L304.1 1057.2 L304.9 1057.6 L305.7 1057.5 L306.5 1057.2 L307.3 1056.7 L308.1 1056.0 L308.9 1054.9 L309.7 1053.5 L310.5 1051.7 L311.3 1049.7 L312.1 1048.4 L312.9 1048.0 L313.7 1048.3 L314.5 1048.5 L315.3 1048.7 L316.1 1048.9 L316.9 1049.0 L317.7 1049.0 L318.5 1049.1 L319.3 1049.1 L320.1 1049.1 L320.9 1049.0 L321.7 1048.5 L322.5 1047.7 L323.3 1047.0 L324.1 1046.7 L324.9 1046.7 L325.7 1047.2 L326.5 1048.0 L327.3 1048.6 L328.1 1049.0 L328.9 1049.2 L329.7 1049.2 L330.5 1049.1 L331.3 1048.7 L332.1 1048.1 L332.9 1047.2 L333.7 1046.0 L334.5 1044.6 L335.3 1043.2 L336.1 1042.5 L336.9 1042.4 L337.7 1042.7 L338.5 1043.1 L339.3 1043.5 L340.1 1043.7 L340.9 1043.8 L341.7 1043.9 L342.5 1043.9 L343.3 1043.8 L344.1 1043.3 L344.9 1042.4 L345.7 1041.1 L346.5 1039.7 L347.3 1038.5 L348.1 1037.6 L348.9 1037.1 L349.7 1036.9 L350.5 1037.0 L351.3 1037.3 L352.1 1037.6 L352.9 1037.7 L353.7 1037.6 L354.5 1037.4 L355.3 1037.1 L356.1 1036.6 L356.9 1035.9 L357.7 1035.0 L358.5 1034.3 L359.3 1033.8 L360.1 1033.4 L360.9 1033.2 L361.7 1033.1 L362.5 1033.0 L363.3 1033.0 L364.1 1033.0 L364.9 1032.9 L365.7 1032.8 L366.5 1032.7 L367.3 1032.4 L368.1 1031.7 L368.9 1030.7 L369.7 1029.6 L370.5 1028.7 L371.3 1028.1 L372.1 1027.8 L372.9 1027.8 L373.7 1028.1 L374.5 1028.5 L375.3 1029.0 L376.1 1029.3 L376.9 1029.5 L377.7 1029.4 L378.5 1029.2 L379.3 1028.7 L380.1 1028.0 L380.9 1027.3 L381.7 1026.8 L382.5 1026.5 L383.3 1026.3 L384.1 1026.1 L384.9 1026.1 L385.7 1026.1 L386.5 1026.4 L387.3 1026.7 L388.1 1026.9 L388.9 1026.9 L389.7 1026.4 L390.5 1025.5 L391.3 1024.2 L392.1 1022.7 L392.9 1021.2 L393.7 1019.8 L394.5 1018.4 L395.3 1017.2 L396.1 1016.0 L396.9 1015.1 L397.7 1014.3 L398.5 1013.8 L399.3 1013.5 L400.1 1013.3 L400.9 1013.2 L401.7 1013.2 L402.5 1013.2 L403.3 1013.3 L404.1 1013.5 L404.9 1013.7 L405.7 1013.8 L406.5 1013.8 L407.3 1013.7 L408.1 1013.4 L408.9 1013.0 L409.7 1012.8 L410.5 1012.9 L411.3 1013.0 L412.1 1013.1 L412.9 1013.1 L413.7 1013.1 L414.5 1013.0 L415.3 1013.0 L416.1 1012.9 L416.9 1012.8 L417.7 1012.7 L418.5 1012.6 L419.3 1012.5 L420.1 1012.6 L420.9 1012.8 L421.7 1013.2 L422.5 1013.5 L423.3 1013.7 L424.1 1013.8 L424.9 1014.1 L425.7 1014.2 L426.5 1014.1 L427.3 1014.0 L428.1 1013.9 L428.9 1013.9 L429.7 1013.7 L430.5 1013.5 L431.3 1013.3 L432.1 1013.1 L432.9 1012.9 L433.7 1012.6 L434.5 1012.3 L435.3 1012.1 L436.1 1012.0 L436.9 1011.8 L437.7 1011.7 L438.5 1011.6 L439.3 1011.5 L440.1 1011.4 L440.9 1011.3 L441.7 1010.9 L442.5 1010.5 L443.3 1009.9 L444.1 1009.7 L444.9 1009.9 L445.7 1010.6 L446.5 1011.2 L447.3 1011.6 L448.1 1011.8 L448.9 1011.9 L449.7 1011.9 L450.5 1012.0 L451.3 1012.0 L452.1 1012.0 L452.9 1012.0 L453.7 1012.1 L454.5 1012.2 L455.3 1012.6 L456.1 1013.1 L456.9 1013.6 L457.7 1013.9 L458.5 1014.0 L459.3 1014.1 L460.1 1014.1 L460.9 1014.1 L461.7 1014.1 L462.5 1014.1 L463.3 1014.0 L464.1 1014.0 L464.9 1013.8 L465.7 1013.6 L466.5 1013.4 L467.3 1013.5 L468.1 1014.0 L468.9 1014.6 L469.7 1015.0 L470.5 1015.3 L471.3 1015.5 L472.1 1015.6 L472.9 1015.8 L473.7 1016.1 L474.5 1016.3 L475.3 1016.4 L476.1 1016.4 L476.9 1016.2 L477.7 1015.9 L478.5 1015.9 L479.3 1016.2 L480.1 1016.9 L480.9 1017.5 L481.7 1017.9 L482.5 1018.1 L483.3 1018.2 L484.1 1018.3 L484.9 1018.3 L485.7 1018.3 L486.5 1018.3 L487.3 1018.2 L488.1 1018.0 L488.9 1017.9 L489.7 1017.9 L490.5 1018.3 L491.3 1019.0 L492.1 1019.5 L492.9 1019.8 L493.7 1019.9 L494.5 1019.8 L495.3 1019.7 L496.1 1019.5 L496.9 1019.3 L497.7 1019.1 L498.5 1018.8 L499.3 1018.9 L500.1 1019.0 L500.9 1019.3 L501.7 1019.8 L502.5 1020.4 L503.3 1021.2 L504.1 1022.0 L504.9 1022.8 L505.7 1023.7 L506.5 1024.9 L507.3 1026.9 L508.1 1029.4 L508.9 1031.6 L509.7 1033.4 L510.5 1034.4 L511.3 1034.6 L512.1 1034.1 L512.9 1033.5 L513.7 1033.0 L514.5 1032.6 L515.3 1032.3 L516.1 1032.2 L516.9 1032.2 L517.7 1032.4 L518.5 1032.9 L519.3 1033.7 L520.1 1034.5 L520.9 1035.3 L521.7 1035.7 L522.5 1036.0 L523.3 1035.9 L524.1 1035.6 L524.9 1035.0 L525.7 1034.6 L526.5 1034.2 L527.3 1034.0 L528.1 1033.8 L528.9 1033.8 L529.7 1033.9 L530.5 1034.2 L531.3 1034.8 L532.1 1035.6 L532.9 1036.3 L533.7 1036.8 L534.5 1037.1 L535.3 1037.1 L536.1 1037.1 L536.9 1036.9 L537.7 1036.8 L538.5 1036.9 L539.3 1037.0 L540.1 1037.2 L540.9 1037.5 L541.7 1037.9 L542.5 1038.5 L543.3 1039.4 L544.1 1040.4 L544.9 1041.3 L545.7 1041.7 L546.5 1041.7 L547.3 1041.3 L548.1 1040.6 L548.9 1039.9 L549.7 1039.5 L550.5 1039.4 L551.3 1039.6 L552.1 1040.2 L552.9 1041.2 L553.7 1042.6 L554.5 1044.0 L555.3 1045.2 L556.1 1046.0 L556.9 1046.5 L557.7 1046.7 L558.5 1046.7 L559.3 1046.2 L560.1 1045.6 L560.9 1044.8 L561.7 1044.1 L562.5 1043.4 L563.3 1042.9 L564.1 1042.4 L564.9 1042.1 L565.7 1042.1 L566.5 1042.4 L567.3 1042.9 L568.1 1043.6 L568.9 1044.2 L569.7 1044.6 L570.5 1044.7 L571.3 1044.7 L572.1 1044.5 L572.9 1044.1 L573.7 1043.4 L574.5 1042.8 L575.3 1042.5 L576.1 1042.5 L576.9 1042.9 L577.7 1043.4 L578.5 1043.7 L579.3 1043.8 L580.1 1043.8 L580.9 1043.7 L581.7 1043.6 L582.5 1043.5 L583.3 1043.3 L584.1 1043.0 L584.9 1042.5 L585.7 1042.1 L586.5 1041.9 L587.3 1042.2 L588.1 1043.0 L588.9 1044.0 L589.7 1044.9 L590.5 1045.5 L591.3 1046.0 L592.1 1046.2 L592.9 1046.0 L593.7 1045.6 L594.5 1045.2 L595.3 1044.5 L596.1 1043.7 L596.9 1042.6 L597.7 1041.8 L598.5 1041.2 L599.3 1041.1 L600.1 1041.4 L600.9 1041.6 L601.7 1041.8 L602.5 1041.9 L603.3 1041.9 L604.1 1041.8 L604.9 1041.9 L605.7 1042.0 L606.5 1042.1 L607.3 1042.2 L608.1 1042.2 L608.9 1042.0 L609.7 1041.7 L610.5 1041.6 L611.3 1041.6 L612.1 1041.9 L612.9 1042.2 L613.7 1042.4 L614.5 1042.5 L615.3 1042.6 L616.1 1042.7 L616.9 1042.9 L617.7 1043.2 L618.5 1043.4 L619.3 1043.5 L620.1 1043.5 L620.9 1043.4 L621.7 1043.2 L622.5 1043.2 L623.3 1043.3 L624.1 1043.4 L624.9 1043.4 L625.7 1043.3 L626.5 1043.2 L627.3 1043.2 L628.1 1043.2 L628.9 1043.2 L629.7 1043.2 L630.5 1043.2 L631.3 1043.2 L632.1 1043.1 L632.9 1042.9 L633.7 1042.9 L634.5 1043.2 L635.3 1043.7 L636.1 1044.1 L636.9 1044.4 L637.7 1044.5 L638.5 1044.6 L639.3 1044.7 L640.1 1044.8 L640.9 1044.9 L641.7 1045.0 L642.5 1045.1 L643.3 1045.2 L644.1 1045.3 L644.9 1045.4 L645.7 1045.3 L646.5 1045.4 L647.3 1045.8 L648.1 1046.1 L648.9 1046.2 L649.7 1046.3 L650.5 1046.2 L651.3 1046.0 L652.1 1045.8 L652.9 1045.7 L653.7 1045.5 L654.5 1045.3 L655.3 1045.0 L656.1 1044.8 L656.9 1044.6 L657.7 1044.8 L658.5 1045.3 L659.3 1046.1 L660.1 1046.9 L660.9 1047.6 L661.7 1048.1 L662.5 1048.5 L663.3 1048.8 L664.1 1049.0 L664.9 1049.0 L665.7 1048.9 L666.5 1048.6 L667.3 1048.1 L668.1 1047.5 L668.9 1046.6 L669.7 1046.0 L670.5 1045.7 L671.3 1045.7 L672.1 1046.0 L672.9 1046.2 L673.7 1046.4 L674.5 1046.5 L675.3 1046.5 L676.1 1046.5 L676.9 1046.5 L677.7 1046.3 L678.5 1045.9 L679.3 1045.1 L680.1 1043.9 L680.9 1042.7 L681.7 1042.0 L682.5 1041.8 L683.3 1042.0 L684.1 1042.5 L684.9 1043.2 L685.7 1043.7 L686.5 1043.9 L687.3 1044.0 L688.1 1044.1 L688.9 1044.1 L689.7 1044.0 L690.5 1043.8 L691.3 1043.3 L692.1 1042.4 L692.9 1041.1 L693.7 1039.9 L694.5 1039.2 L695.3 1039.0 L696.1 1039.3 L696.9 1039.8 L697.7 1040.0 L698.5 1040.0 L699.3 1039.7 L700.1 1039.3 L700.9 1038.7 L701.7 1037.8 L702.5 1036.7 L703.3 1035.3 L704.1 1034.0 L704.9 1033.2 L705.7 1033.2 L706.5 1033.5 L707.3 1034.1 L708.1 1034.8 L708.9 1035.2 L709.7 1035.4 L710.5 1035.6 L711.3 1035.7 L712.1 1035.7 L712.9 1035.8 L713.7 1035.6 L714.5 1035.1 L715.3 1034.1 L716.1 1032.8 L716.9 1031.8 L717.7 1031.1 L718.5 1030.8 L719.3 1030.6 L720.1 1030.5 L720.9 1030.5 L721.7 1030.5 L722.5 1030.6 L723.3 1030.7 L724.1 1030.6 L724.9 1030.3 L725.7 1029.5 L726.5 1028.5 L727.3 1027.7 L728.1 1027.2 L728.9 1027.0 L729.7 1027.0 L730.5 1027.0 L731.3 1027.1 L732.1 1027.3 L732.9 1027.6 L733.7 1027.8 L734.5 1027.9 L735.3 1027.8 L736.1 1027.4 L736.9 1026.7 L737.7 1026.0 L738.5 1025.6 L739.3 1025.3 L740.1 1025.2 L740.9 1025.1 L741.7 1025.1 L742.5 1025.2 L743.3 1025.4 L744.1 1025.5 L744.9 1025.6 L745.7 1025.4 L746.5 1025.1 L747.3 1024.5 L748.1 1023.8 L748.9 1023.1 L749.7 1022.7 L750.5 1022.4 L751.3 1022.4 L752.1 1022.4 L752.9 1022.4 L753.7 1022.2 L754.5 1022.0 L755.3 1021.8 L756.1 1021.7 L756.9 1021.6 L757.7 1021.3 L758.5 1020.7 L759.3 1019.8 L760.1 1018.7 L760.9 1017.5 L761.7 1016.7 L762.5 1016.3 L763.3 1016.2 L764.1 1016.3 L764.9 1016.5 L765.7 1016.7 L766.5 1017.0 L767.3 1017.3 L768.1 1017.7 L768.9 1017.9 L769.7 1017.9 L770.5 1017.7 L771.3 1017.3 L772.1 1017.1 L772.9 1016.9 L773.7 1016.9 L774.5 1016.8 L775.3 1016.7 L776.1 1016.6 L776.9 1016.6 L777.7 1016.8 L778.5 1017.1 L779.3 1017.6 L780.1 1017.9 L780.9 1018.1 L781.7 1017.8 L782.5 1017.2 L783.3 1016.5 L784.1 1015.9 L784.9 1015.6 L785.7 1015.4 L786.5 1015.3 L787.3 1015.2 L788.1 1015.1 L788.9 1015.2 L789.7 1015.6 L790.5 1016.2 L791.3 1016.6 L792.1 1016.6 L792.9 1016.2 L793.7 1015.6 L794.5 1015.2 L795.3 1015.1 L796.1 1015.1 L796.9 1015.3 L797.7 1015.5 L798.5 1015.6 L799.3 1015.7 L800.1 1015.8 L800.9 1016.1 L801.7 1016.5 L802.5 1016.9 L803.3 1017.2 L804.1 1017.4 L804.9 1016.9 L805.7 1016.1 L806.5 1015.3 L807.3 1014.7 L808.1 1014.4 L808.9 1014.1 L809.7 1013.9 L810.5 1013.8 L811.3 1013.7 L812.1 1013.9 L812.9 1014.4 L813.7 1015.0 L814.5 1015.8 L815.3 1016.1 L816.1 1015.9 L816.9 1015.6 L817.7 1015.4 L818.5 1015.3 L819.3 1015.4 L820.1 1015.5 L820.9 1015.5 L821.7 1015.5 L822.5 1015.5 L823.3 1015.6 L824.1 1016.0 L824.9 1016.7 L825.7 1017.7 L826.5 1018.7 L827.3 1019.4 L828.1 1019.7 L828.9 1019.9 L829.7 1020.0 L830.5 1020.0 L831.3 1020.1 L832.1 1020.1 L832.9 1020.1 L833.7 1020.2 L834.5 1020.4 L835.3 1020.8 L836.1 1021.5 L836.9 1022.5 L837.7 1023.2 L838.5 1023.5 L839.3 1023.4 L840.1 1023.3 L840.9 1023.3 L841.7 1023.4 L842.5 1023.4 L843.3 1023.5 L844.1 1023.6 L844.9 1023.8 L845.7 1024.1 L846.5 1024.7 L847.3 1025.4 L848.1 1026.0 L848.9 1026.1 L849.7 1026.0 L850.5 1025.9 L851.3 1025.8 L852.1 1025.8 L852.9 1025.9 L853.7 1025.9 L854.5 1025.9 L855.3 1025.9 L856.1 1026.1 L856.9 1026.4 L857.7 1027.0 L858.5 1027.7 L859.3 1028.3 L860.1 1028.5 L860.9 1028.6 L861.7 1028.7 L862.5 1028.8 L863.3 1028.9 L864.1 1029.1 L864.9 1029.2 L865.7 1029.2 L866.5 1029.2 L867.3 1029.3 L868.1 1029.5 L868.9 1029.9 L869.7 1030.4 L870.5 1031.1 L871.3 1031.8 L872.1 1032.6 L872.9 1033.2 L873.7 1033.6 L874.5 1033.9 L875.3 1034.0 L876.1 1034.0 L876.9 1033.9 L877.7 1033.8 L878.5 1033.7 L879.3 1033.8 L880.1 1034.0 L880.9 1034.3 L881.7 1034.6 L882.5 1034.5 L883.3 1034.0 L884.1 1033.4 L884.9 1033.0 L885.7 1032.9 L886.5 1033.1 L887.3 1033.4 L888.1 1033.9 L888.9 1034.3 L889.7 1034.8 L890.5 1035.3 L891.3 1036.0 L892.1 1036.9 L892.9 1037.8 L893.7 1038.5 L894.5 1038.7 L895.3 1038.6 L896.1 1038.4 L896.9 1038.4 L897.7 1038.4 L898.5 1038.5 L899.3 1038.6 L900.1 1038.7 L900.9 1038.9 L901.7 1039.3 L902.5 1040.0 L903.3 1041.0 L904.1 1042.2 L904.9 1043.0 L905.7 1043.1 L906.5 1043.0 L907.3 1042.8 L908.1 1042.8 L908.9 1042.9 L909.7 1043.0 L910.5 1043.1 L911.3 1043.1 L912.1 1043.2 L912.9 1043.4 L913.7 1044.1 L914.5 1045.0 L915.3 1046.3 L916.1 1047.6 L916.9 1048.2 L917.7 1048.0 L918.5 1047.2 L919.3 1046.3 L920.1 1045.7 L920.9 1045.4 L921.7 1045.5 L922.5 1045.8 L923.3 1046.2 L924.1 1046.9 L924.9 1047.7 L925.7 1048.8 L926.5 1050.1 L927.3 1051.3 L928.1 1052.0 L928.9 1052.4 L929.7 1052.2 L930.5 1051.8 L931.3 1051.2 L932.1 1051.0 L932.9 1050.9 L933.7 1050.9 L934.5 1050.9 L935.3 1050.9 L936.1 1051.1 L936.9 1051.4 L937.7 1052.0 L938.5 1052.6 L939.3 1052.9 L940.1 1052.8 L940.9 1052.4 L941.7 1051.6 L942.5 1050.9 L943.3 1050.4 L944.1 1050.2 L944.9 1050.2 L945.7 1050.3 L946.5 1050.5 L947.3 1050.8 L948.1 1051.1 L948.9 1051.6 L949.7 1052.2 L950.5 1052.7 L951.3 1053.0 L952.1 1053.1 L952.9 1052.9 L953.7 1052.7 L954.5 1052.3 L955.3 1051.8 L956.1 1051.5 L956.9 1051.4 L957.7 1051.4 L958.5 1051.6 L959.3 1052.0 L960.1 1052.5 L960.9 1052.8 L961.7 1053.0 L962.5 1053.1 L963.3 1053.0 L964.1 1052.7 L964.9 1052.1 L965.7 1051.1 L966.5 1050.1 L967.3 1049.3 L968.1 1049.0 L968.9 1049.0 L969.7 1049.4 L970.5 1050.0 L971.3 1050.6 L972.1 1051.1 L972.9 1051.4 L973.7 1051.6 L974.5 1051.7 L975.3 1051.8 L976.1 1051.9 L976.9 1051.9 L977.7 1051.7 L978.5 1051.4 L979.3 1051.1 L980.1 1050.8 L980.9 1051.0 L981.7 1051.6 L982.5 1052.1 L983.3 1052.3 L984.1 1052.3 L984.9 1052.2 L985.7 1052.0 L986.5 1051.8 L987.3 1051.6 L988.1 1051.2 L988.9 1050.7 L989.7 1050.0 L990.5 1049.4 L991.3 1049.2 L992.1 1049.3 L992.9 1049.9 L993.7 1050.7 L994.5 1051.7 L995.3 1052.4 L996.1 1052.9 L996.9 1053.2 L997.7 1053.3 L998.5 1053.3 L999.3 1053.3 L1000.1 1053.2 L1000.9 1053.0 L1001.7 1052.7 L1002.5 1052.3 L1003.3 1051.8 L1004.1 1051.5 L1004.9 1051.6 L1005.7 1052.0 L1006.5 1052.4 L1007.3 1052.7 L1008.1 1052.8 L1008.9 1052.7 L1009.7 1052.7 L1010.5 1052.6 L1011.3 1052.5 L1012.1 1052.2 L1012.9 1051.7 L1013.7 1051.0 L1014.5 1050.2 L1015.3 1049.8 L1016.1 1049.7 L1016.9 1049.9 L1017.7 1049.9 L1018.5 1049.8" stroke="#a52a2a" stroke-width="3"/>
<g fill="#a52a2a" stroke="none"><circle cx="85.5" cy="1075.8" r="2.5"/><circle cx="91.8" cy="1086.5" r="2.5"/><circle cx="98.0" cy="1085.2" r="2.5"/><circle cx="103.8" cy="1079.8" r="2.5"/><circle cx="110.0" cy="1076.5" r="2.5"/><circle cx="116.2" cy="1080.8" r="2.5"/><circle cx="121.2" cy="1086.5" r="2.5"/><circle cx="127.5" cy="1078.5" r="2.5"/><circle cx="133.2" cy="1073.2" r="2.5"/><circle cx="139.2" cy="1074.8" r="2.5"/><circle cx="145.5" cy="1092.8" r="2.5"/><circle cx="151.8" cy="1081.0" r="2.5"/><circle cx="157.0" cy="1065.2" r="2.5"/><circle cx="163.0" cy="1076.0" r="2.5"/><circle cx="170.0" cy="1096.5" r="2.5"/><circle cx="174.5" cy="1092.8" r="2.5"/><circle cx="180.0" cy="1084.8" r="2.5"/><circle cx="186.8" cy="1087.2" r="2.5"/><circle cx="193.0" cy="1099.8" r="2.5"/><circle cx="198.0" cy="1092.2" r="2.5"/><circle cx="203.8" cy="1073.5" r="2.5"/><circle cx="210.0" cy="1079.0" r="2.5"/><circle cx="216.2" cy="1075.8" r="2.5"/><circle cx="222.5" cy="1073.5" r="2.5"/><circle cx="228.2" cy="1084.8" r="2.5"/><circle cx="235.5" cy="1079.0" r="2.5"/><circle cx="241.2" cy="1089.0" r="2.5"/><circle cx="246.8" cy="1099.5" r="2.5"/><circle cx="253.0" cy="1095.2" r="2.5"/><circle cx="258.8" cy="1089.8" r="2.5"/><circle cx="265.0" cy="1084.0" r="2.5"/><circle cx="271.2" cy="1087.2" r="2.5"/><circle cx="276.8" cy="1093.2" r="2.5"/><circle cx="282.5" cy="1085.8" r="2.5"/><circle cx="288.2" cy="1070.2" r="2.5"/><circle cx="294.5" cy="1069.0" r="2.5"/><circle cx="300.5" cy="1076.5" r="2.5"/><circle cx="306.2" cy="1074.5" r="2.5"/><circle cx="311.8" cy="1044.0" r="2.5"/><circle cx="318.0" cy="1054.0" r="2.5"/><circle cx="323.8" cy="1078.2" r="2.5"/><circle cx="330.0" cy="1067.2" r="2.5"/><circle cx="336.0" cy="1061.5" r="2.5"/><circle cx="341.0" cy="1059.8" r="2.5"/><circle cx="346.5" cy="1059.0" r="2.5"/><circle cx="352.8" cy="1054.8" r="2.5"/><circle cx="358.5" cy="1061.5" r="2.5"/><circle cx="364.0" cy="1072.0" r="2.5"/><circle cx="369.8" cy="1067.0" r="2.5"/><circle cx="376.0" cy="1054.8" r="2.5"/><circle cx="381.0" cy="1059.0" r="2.5"/><circle cx="386.5" cy="1060.8" r="2.5"/><circle cx="392.2" cy="1067.0" r="2.5"/><circle cx="404.0" cy="1060.2" r="2.5"/><circle cx="409.8" cy="1057.8" r="2.5"/><circle cx="416.0" cy="1066.0" r="2.5"/><circle cx="422.2" cy="1063.5" r="2.5"/><circle cx="426.5" cy="1065.2" r="2.5"/><circle cx="434.0" cy="1056.5" r="2.5"/><circle cx="439.0" cy="1054.0" r="2.5"/><circle cx="444.0" cy="1051.5" r="2.5"/><circle cx="451.0" cy="1069.0" r="2.5"/><circle cx="457.8" cy="1085.2" r="2.5"/><circle cx="462.2" cy="1065.2" r="2.5"/><circle cx="467.2" cy="1061.0" r="2.5"/><circle cx="472.8" cy="1072.0" r="2.5"/><circle cx="478.5" cy="1068.2" r="2.5"/><circle cx="485.2" cy="1067.8" r="2.5"/><circle cx="490.2" cy="1080.2" r="2.5"/><circle cx="496.8" cy="1095.2" r="2.5"/><circle cx="502.8" cy="1096.0" r="2.5"/><circle cx="508.0" cy="1093.5" r="2.5"/><circle cx="513.5" cy="1094.5" r="2.5"/><circle cx="519.8" cy="1081.0" r="2.5"/><circle cx="525.2" cy="1068.5" r="2.5"/><circle cx="531.5" cy="1070.2" r="2.5"/><circle cx="537.2" cy="1074.0" r="2.5"/><circle cx="542.8" cy="1066.5" r="2.5"/><circle cx="548.5" cy="1060.2" r="2.5"/><circle cx="555.2" cy="1066.5" r="2.5"/><circle cx="561.5" cy="1077.8" r="2.5"/><circle cx="568.5" cy="1074.0" r="2.5"/><circle cx="574.8" cy="1063.2" r="2.5"/><circle cx="580.5" cy="1066.5" r="2.5"/><circle cx="586.5" cy="1075.8" r="2.5"/><circle cx="592.0" cy="1073.5" r="2.5"/><circle cx="597.5" cy="1068.2" r="2.5"/><circle cx="604.5" cy="1076.5" r="2.5"/><circle cx="609.0" cy="1094.5" r="2.5"/><circle cx="617.0" cy="1085.2" r="2.5"/><circle cx="622.0" cy="1075.8" r="2.5"/><circle cx="629.5" cy="1067.8" r="2.5"/><circle cx="633.8" cy="1074.0" r="2.5"/><circle cx="639.5" cy="1077.8" r="2.5"/><circle cx="645.2" cy="1074.0" r="2.5"/><circle cx="651.2" cy="1081.5" r="2.5"/><circle cx="658.2" cy="1074.0" r="2.5"/><circle cx="664.0" cy="1067.2" r="2.5"/><circle cx="669.5" cy="1071.0" r="2.5"/><circle cx="676.2" cy="1079.0" r="2.5"/><circle cx="680.8" cy="1054.0" r="2.5"/><circle cx="687.5" cy="1060.2" r="2.5"/><circle cx="693.2" cy="1055.8" r="2.5"/><circle cx="699.0" cy="1044.5" r="2.5"/><circle cx="704.0" cy="1046.0" r="2.5"/><circle cx="710.0" cy="1059.8" r="2.5"/><circle cx="716.2" cy="1059.5" r="2.5"/><circle cx="721.5" cy="1057.2" r="2.5"/><circle cx="727.0" cy="1059.8" r="2.5"/><circle cx="732.0" cy="1065.8" r="2.5"/><circle cx="737.0" cy="1074.5" r="2.5"/><circle cx="742.8" cy="1065.2" r="2.5"/><circle cx="748.8" cy="1065.8" r="2.5"/><circle cx="754.5" cy="1068.5" r="2.5"/><circle cx="761.2" cy="1054.8" r="2.5"/><circle cx="766.2" cy="1052.0" r="2.5"/><circle cx="771.2" cy="1072.0" r="2.5"/><circle cx="777.0" cy="1077.2" r="2.5"/><circle cx="783.2" cy="1065.2" r="2.5"/><circle cx="788.2" cy="1057.8" r="2.5"/><circle cx="794.0" cy="1051.0" r="2.5"/><circle cx="799.5" cy="1061.5" r="2.5"/><circle cx="805.8" cy="1054.8" r="2.5"/><circle cx="810.2" cy="1036.5" r="2.5"/><circle cx="816.5" cy="1052.0" r="2.5"/><circle cx="822.5" cy="1071.5" r="2.5"/><circle cx="827.8" cy="1082.8" r="2.5"/><circle cx="833.2" cy="1073.5" r="2.5"/><circle cx="839.5" cy="1079.8" r="2.5"/><circle cx="845.0" cy="1088.5" r="2.5"/><circle cx="850.0" cy="1089.8" r="2.5"/><circle cx="855.0" cy="1089.8" r="2.5"/><circle cx="861.0" cy="1087.0" r="2.5"/><circle cx="866.8" cy="1094.8" r="2.5"/><circle cx="871.8" cy="1082.2" r="2.5"/><circle cx="878.0" cy="1072.8" r="2.5"/><circle cx="883.8" cy="1074.0" r="2.5"/><circle cx="889.8" cy="1081.5" r="2.5"/><circle cx="895.5" cy="1088.5" r="2.5"/><circle cx="901.2" cy="1086.0" r="2.5"/><circle cx="906.8" cy="1081.0" r="2.5"/><circle cx="913.0" cy="1072.8" r="2.5"/><circle cx="918.8" cy="1056.5" r="2.5"/><circle cx="924.8" cy="1059.8" r="2.5"/><circle cx="931.0" cy="1080.2" r="2.5"/><circle cx="936.8" cy="1088.2" r="2.5"/><circle cx="942.5" cy="1079.8" r="2.5"/><circle cx="948.5" cy="1074.0" r="2.5"/><circle cx="955.5" cy="1086.0" r="2.5"/><circle cx="960.5" cy="1090.2" r="2.5"/><circle cx="966.8" cy="1069.0" r="2.5"/><circle cx="973.0" cy="1066.5" r="2.5"/><circle cx="980.5" cy="1085.2" r="2.5"/><circle cx="985.0" cy="1090.2" r="2.5"/><circle cx="990.5" cy="1080.2" r="2.5"/><circle cx="996.8" cy="1067.2" r="2.5"/><circle cx="1004.2" cy="1087.0" r="2.5"/><circle cx="1008.8" cy="1090.2" r="2.5"/><circle cx="1015.0" cy="1080.2" r="2.5"/></g>
</g>
<rect x="82.5" y="950.2" width="937.2" height="329.6" fill="none" stroke="#000" stroke-width="1.4"/>
<text x="686.5" y="1158.2" font-size="14.6" text-anchor="end">acceleration</text>
<line x1="695.8" y1="1153.5" x2="737.5" y2="1153.5" stroke="#000" stroke-width="1.2"/>
<text x="686.5" y="1173.0" font-size="14.6" text-anchor="end">mean (interval window)</text>
<line x1="695.8" y1="1168.2" x2="737.5" y2="1168.2" stroke="#f00" stroke-width="3"/>
<text x="686.5" y="1187.5" font-size="14.6" text-anchor="end">mean (sliding window)</text>
<line x1="695.8" y1="1182.8" x2="737.5" y2="1182.8" stroke="#00f" stroke-width="3.4"/>
<text x="686.5" y="1202.0" font-size="14.6" text-anchor="end">threshold (interval window)</text>
<line x1="695.8" y1="1197.2" x2="737.5" y2="1197.2" stroke="#0f0" stroke-width="3"/>
<text x="686.5" y="1216.7" font-size="14.6" text-anchor="end">threshold (sliding window)</text>
<line x1="695.8" y1="1212.0" x2="737.5" y2="1212.0" stroke="#a52a2a" stroke-width="3"/>
<text x="686.5" y="1231.5" font-size="14.6" text-anchor="end">step average</text>
<circle cx="716.6" cy="1226.8" r="2.5" fill="#a52a2a"/>
<text x="188.0" y="1271.1" font-size="15.3" text-anchor="middle">Texting</text>
<text x="379.8" y="1271.1" font-size="15.3" text-anchor="middle">Swinging</text>
<text x="548.5" y="1271.1" font-size="15.3" text-anchor="middle">Calling</text>
<text x="755.8" y="1271.1" font-size="15.3" text-anchor="middle">Swinging</text>
<text x="927.2" y="1271.1" font-size="15.3" text-anchor="middle">Texting</text>
<text x="551.1" y="1339.3" font-size="20.9" text-anchor="middle">time (sec)</text>
<text x="553.3" y="1377.2" font-size="20.5" text-anchor="middle" font-family='"DejaVu Sans Mono", "Liberation Mono", monospace'>(c)</text>
<text transform="translate(31.4 1115.5) rotate(-90)" font-size="20.8" text-anchor="middle">magnitude of acceleration (m/s<tspan font-size="16.6" dy="-10.3">2</tspan><tspan dy="10.3">)</tspan></text>
</svg>
</body></html>
